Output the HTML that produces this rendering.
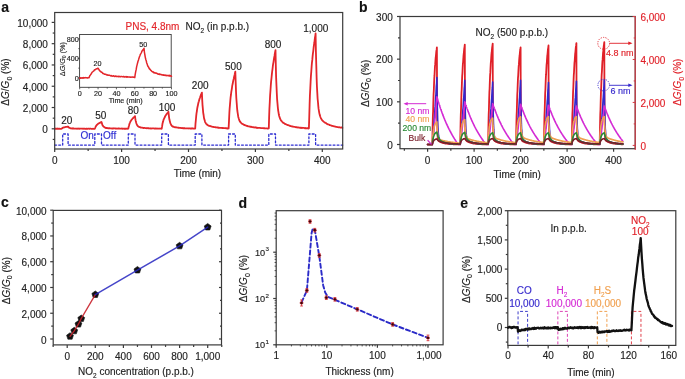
<!DOCTYPE html><html><head><meta charset="utf-8"><style>html,body{margin:0;padding:0;background:#fff;}svg{display:block;filter:blur(0.3px);}</style></head><body><svg width="685" height="379" viewBox="0 0 685 379" font-family='"Liberation Sans", sans-serif'>
<style>text{stroke-width:0.15px;paint-order:stroke;}</style>
<rect width="685" height="379" fill="#fff"/>
<text x="1.20" y="11.80" font-size="14" text-anchor="start" fill="#111" stroke="#111" font-weight="bold" >a</text>
<line x1="52.70" y1="139.44" x2="54.70" y2="139.44" stroke="#3a3a3a" stroke-width="1.2" />
<line x1="51.70" y1="128.80" x2="54.70" y2="128.80" stroke="#3a3a3a" stroke-width="1.2" />
<text x="47.90" y="133.30" font-size="10" text-anchor="end" fill="#222" stroke="#222" font-weight="normal" >0</text>
<line x1="52.70" y1="118.16" x2="54.70" y2="118.16" stroke="#3a3a3a" stroke-width="1.2" />
<line x1="51.70" y1="107.52" x2="54.70" y2="107.52" stroke="#3a3a3a" stroke-width="1.2" />
<text x="47.90" y="112.02" font-size="10" text-anchor="end" fill="#222" stroke="#222" font-weight="normal" >2,000</text>
<line x1="52.70" y1="96.88" x2="54.70" y2="96.88" stroke="#3a3a3a" stroke-width="1.2" />
<line x1="51.70" y1="86.24" x2="54.70" y2="86.24" stroke="#3a3a3a" stroke-width="1.2" />
<text x="47.90" y="90.74" font-size="10" text-anchor="end" fill="#222" stroke="#222" font-weight="normal" >4,000</text>
<line x1="52.70" y1="75.60" x2="54.70" y2="75.60" stroke="#3a3a3a" stroke-width="1.2" />
<line x1="51.70" y1="64.96" x2="54.70" y2="64.96" stroke="#3a3a3a" stroke-width="1.2" />
<text x="47.90" y="69.46" font-size="10" text-anchor="end" fill="#222" stroke="#222" font-weight="normal" >6,000</text>
<line x1="52.70" y1="54.32" x2="54.70" y2="54.32" stroke="#3a3a3a" stroke-width="1.2" />
<line x1="51.70" y1="43.68" x2="54.70" y2="43.68" stroke="#3a3a3a" stroke-width="1.2" />
<text x="47.90" y="48.18" font-size="10" text-anchor="end" fill="#222" stroke="#222" font-weight="normal" >8,000</text>
<line x1="52.70" y1="33.04" x2="54.70" y2="33.04" stroke="#3a3a3a" stroke-width="1.2" />
<line x1="51.70" y1="22.40" x2="54.70" y2="22.40" stroke="#3a3a3a" stroke-width="1.2" />
<text x="47.90" y="26.90" font-size="10" text-anchor="end" fill="#222" stroke="#222" font-weight="normal" >10,000</text>
<line x1="54.70" y1="149.00" x2="54.70" y2="152.00" stroke="#3a3a3a" stroke-width="1.2" />
<text x="54.70" y="164.00" font-size="10" text-anchor="middle" fill="#222" stroke="#222" font-weight="normal" >0</text>
<line x1="88.15" y1="149.00" x2="88.15" y2="151.00" stroke="#3a3a3a" stroke-width="1.2" />
<line x1="121.60" y1="149.00" x2="121.60" y2="152.00" stroke="#3a3a3a" stroke-width="1.2" />
<text x="121.60" y="164.00" font-size="10" text-anchor="middle" fill="#222" stroke="#222" font-weight="normal" >100</text>
<line x1="155.05" y1="149.00" x2="155.05" y2="151.00" stroke="#3a3a3a" stroke-width="1.2" />
<line x1="188.50" y1="149.00" x2="188.50" y2="152.00" stroke="#3a3a3a" stroke-width="1.2" />
<text x="188.50" y="164.00" font-size="10" text-anchor="middle" fill="#222" stroke="#222" font-weight="normal" >200</text>
<line x1="221.95" y1="149.00" x2="221.95" y2="151.00" stroke="#3a3a3a" stroke-width="1.2" />
<line x1="255.40" y1="149.00" x2="255.40" y2="152.00" stroke="#3a3a3a" stroke-width="1.2" />
<text x="255.40" y="164.00" font-size="10" text-anchor="middle" fill="#222" stroke="#222" font-weight="normal" >300</text>
<line x1="288.85" y1="149.00" x2="288.85" y2="151.00" stroke="#3a3a3a" stroke-width="1.2" />
<line x1="322.30" y1="149.00" x2="322.30" y2="152.00" stroke="#3a3a3a" stroke-width="1.2" />
<text x="322.30" y="164.00" font-size="10" text-anchor="middle" fill="#222" stroke="#222" font-weight="normal" >400</text>
<text x="197.50" y="177.20" font-size="10" text-anchor="middle" fill="#222" stroke="#222" font-weight="normal" >Time (min)</text>
<text transform="translate(9.10,82.00) rotate(-90)" font-size="10" text-anchor="middle" fill="#222" stroke="#222">&#916;<tspan font-style="italic">G</tspan>/<tspan font-style="italic">G</tspan><tspan font-size="7.00" dy="2.5">0</tspan><tspan dy="-2.5"> (%)</tspan></text>
<path d="M54.7,128.7 L55.0,128.7 L55.4,128.8 L55.7,128.7 L56.0,128.8 L56.4,128.8 L56.7,128.7 L57.0,128.8 L57.4,128.7 L57.7,128.8 L58.0,128.7 L58.4,128.7 L58.7,128.8 L59.0,128.9 L59.4,128.7 L59.7,128.7 L60.1,128.8 L60.4,128.9 L60.7,128.8 L61.1,128.8 L61.4,128.9 L61.7,128.4 L62.1,128.4 L62.4,128.0 L62.7,127.8 L63.1,127.6 L63.4,127.5 L63.7,127.6 L64.1,127.3 L64.4,127.3 L64.7,127.3 L65.1,127.1 L65.4,127.1 L65.7,126.9 L66.1,126.8 L66.4,126.8 L66.7,126.9 L67.1,126.8 L67.4,126.7 L67.7,126.7 L68.1,126.6 L68.4,127.0 L68.7,127.5 L69.1,127.7 L69.4,127.7 L69.8,128.0 L70.1,128.1 L70.4,128.3 L70.8,128.4 L71.1,128.3 L71.4,128.5 L71.8,128.3 L72.1,128.5 L72.4,128.6 L72.8,128.4 L73.1,128.5 L73.4,128.4 L73.8,128.6 L74.1,128.7 L74.4,128.6 L74.8,128.7 L75.1,128.6 L75.4,128.7 L75.8,128.7 L76.1,128.7 L76.4,128.6 L76.8,128.8 L77.1,128.8 L77.4,128.7 L77.8,128.7 L78.1,128.5 L78.4,128.7 L78.8,128.7 L79.1,128.8 L79.5,128.8 L79.8,128.6 L80.1,128.7 L80.5,128.7 L80.8,128.6 L81.1,128.7 L81.5,128.6 L81.8,128.6 L82.1,128.6 L82.5,128.8 L82.8,128.6 L83.1,128.6 L83.5,128.7 L83.8,128.8 L84.1,128.6 L84.5,128.7 L84.8,128.7 L85.1,128.9 L85.5,128.8 L85.8,128.8 L86.1,128.7 L86.5,128.7 L86.8,128.7 L87.1,128.9 L87.5,128.9 L87.8,128.6 L88.2,128.7 L88.5,128.7 L88.8,128.7 L89.2,128.8 L89.5,128.8 L89.8,128.7 L90.2,128.6 L90.5,128.7 L90.8,128.7 L91.2,128.8 L91.5,128.9 L91.8,128.8 L92.2,128.8 L92.5,128.8 L92.8,128.8 L93.2,128.6 L93.5,128.9 L93.8,128.9 L94.2,128.9 L94.5,128.9 L94.8,128.7 L95.2,127.8 L95.5,127.0 L95.8,126.5 L96.2,125.8 L96.5,125.3 L96.8,125.0 L97.2,124.6 L97.5,124.3 L97.9,124.0 L98.2,123.7 L98.5,123.5 L98.9,123.3 L99.2,123.2 L99.5,122.9 L99.9,122.9 L100.2,122.7 L100.5,122.4 L100.9,122.2 L101.2,122.1 L101.5,121.9 L101.9,123.2 L102.2,124.4 L102.5,125.2 L102.9,125.7 L103.2,126.2 L103.5,126.5 L103.9,126.8 L104.2,127.1 L104.5,127.3 L104.9,127.6 L105.2,127.6 L105.5,127.6 L105.9,128.0 L106.2,127.9 L106.5,127.9 L106.9,128.1 L107.2,128.0 L107.6,128.1 L107.9,128.3 L108.2,128.3 L108.6,128.3 L108.9,128.2 L109.2,128.2 L109.6,128.2 L109.9,128.4 L110.2,128.3 L110.6,128.4 L110.9,128.3 L111.2,128.3 L111.6,128.5 L111.9,128.6 L112.2,128.5 L112.6,128.5 L112.9,128.5 L113.2,128.5 L113.6,128.4 L113.9,128.5 L114.2,128.4 L114.6,128.4 L114.9,128.4 L115.2,128.5 L115.6,128.5 L115.9,128.6 L116.2,128.7 L116.6,128.5 L116.9,128.7 L117.3,128.7 L117.6,128.7 L117.9,128.5 L118.3,128.5 L118.6,128.5 L118.9,128.5 L119.3,128.5 L119.6,128.7 L119.9,128.7 L120.3,128.7 L120.6,128.6 L120.9,128.7 L121.3,128.7 L121.6,128.5 L121.9,128.7 L122.3,128.8 L122.6,128.7 L122.9,128.7 L123.3,128.7 L123.6,128.6 L123.9,128.8 L124.3,128.6 L124.6,128.8 L124.9,128.8 L125.3,128.7 L125.6,128.7 L125.9,128.8 L126.3,128.8 L126.6,128.6 L127.0,128.6 L127.3,128.6 L127.6,128.8 L128.0,128.8 L128.3,128.6 L128.6,127.1 L129.0,125.8 L129.3,124.5 L129.6,123.4 L130.0,122.6 L130.3,121.8 L130.6,121.1 L131.0,120.8 L131.3,120.2 L131.6,119.7 L132.0,119.4 L132.3,118.9 L132.6,118.6 L133.0,118.3 L133.3,117.7 L133.6,117.4 L134.0,117.1 L134.3,116.8 L134.6,116.6 L135.0,116.2 L135.3,118.6 L135.6,120.4 L136.0,122.1 L136.3,123.1 L136.7,124.1 L137.0,124.8 L137.3,125.5 L137.7,125.8 L138.0,126.3 L138.3,126.5 L138.7,126.7 L139.0,126.9 L139.3,126.9 L139.7,127.2 L140.0,127.2 L140.3,127.3 L140.7,127.6 L141.0,127.5 L141.3,127.6 L141.7,127.7 L142.0,127.7 L142.3,127.7 L142.7,127.8 L143.0,127.9 L143.3,128.0 L143.7,127.8 L144.0,128.0 L144.3,127.9 L144.7,127.9 L145.0,128.1 L145.3,128.1 L145.7,128.1 L146.0,128.2 L146.4,128.3 L146.7,128.1 L147.0,128.2 L147.4,128.2 L147.7,128.2 L148.0,128.3 L148.4,128.2 L148.7,128.3 L149.0,128.3 L149.4,128.4 L149.7,128.4 L150.0,128.5 L150.4,128.5 L150.7,128.3 L151.0,128.4 L151.4,128.5 L151.7,128.5 L152.0,128.3 L152.4,128.3 L152.7,128.4 L153.0,128.3 L153.4,128.4 L153.7,128.4 L154.0,128.5 L154.4,128.6 L154.7,128.6 L155.1,128.4 L155.4,128.6 L155.7,128.6 L156.1,128.4 L156.4,128.7 L156.7,128.7 L157.1,128.5 L157.4,128.7 L157.7,128.6 L158.1,128.6 L158.4,128.7 L158.7,128.7 L159.1,128.5 L159.4,128.6 L159.7,128.6 L160.1,128.6 L160.4,128.5 L160.7,128.6 L161.1,128.7 L161.4,128.5 L161.7,128.7 L162.1,126.4 L162.4,124.3 L162.7,122.8 L163.1,121.6 L163.4,120.4 L163.7,119.3 L164.1,118.7 L164.4,117.9 L164.8,117.2 L165.1,116.4 L165.4,115.8 L165.8,115.2 L166.1,114.9 L166.4,114.3 L166.8,113.8 L167.1,113.5 L167.4,113.2 L167.8,112.7 L168.1,112.1 L168.4,111.7 L168.8,115.2 L169.1,117.6 L169.4,119.6 L169.8,121.0 L170.1,122.2 L170.4,123.4 L170.8,124.1 L171.1,124.6 L171.4,125.4 L171.8,125.7 L172.1,126.1 L172.4,126.1 L172.8,126.6 L173.1,126.5 L173.4,126.9 L173.8,126.9 L174.1,127.0 L174.5,127.1 L174.8,127.3 L175.1,127.2 L175.5,127.2 L175.8,127.4 L176.1,127.4 L176.5,127.4 L176.8,127.5 L177.1,127.5 L177.5,127.6 L177.8,127.6 L178.1,127.7 L178.5,127.8 L178.8,127.7 L179.1,127.8 L179.5,127.8 L179.8,127.9 L180.1,127.8 L180.5,127.9 L180.8,127.8 L181.1,128.1 L181.5,128.1 L181.8,128.0 L182.1,128.1 L182.5,128.2 L182.8,128.0 L183.1,128.3 L183.5,128.2 L183.8,128.2 L184.2,128.3 L184.5,128.2 L184.8,128.3 L185.2,128.3 L185.5,128.4 L185.8,128.3 L186.2,128.4 L186.5,128.4 L186.8,128.4 L187.2,128.3 L187.5,128.3 L187.8,128.3 L188.2,128.3 L188.5,128.3 L188.8,128.5 L189.2,128.4 L189.5,128.4 L189.8,128.3 L190.2,128.6 L190.5,128.6 L190.8,128.6 L191.2,128.4 L191.5,128.4 L191.8,128.5 L192.2,128.5 L192.5,128.4 L192.8,128.5 L193.2,128.5 L193.5,128.7 L193.9,128.7 L194.2,128.6 L194.5,128.5 L194.9,128.7 L195.2,128.5 L195.5,123.7 L195.9,119.5 L196.2,116.2 L196.5,113.4 L196.9,111.0 L197.2,108.7 L197.5,107.0 L197.9,105.2 L198.2,103.8 L198.5,102.4 L198.9,101.3 L199.2,100.0 L199.5,98.9 L199.9,98.0 L200.2,97.0 L200.5,96.1 L200.9,95.2 L201.2,94.4 L201.5,93.4 L201.9,92.6 L202.2,99.6 L202.5,104.8 L202.9,109.1 L203.2,112.6 L203.6,115.0 L203.9,117.3 L204.2,118.9 L204.6,120.0 L204.9,121.3 L205.2,122.2 L205.6,122.8 L205.9,123.4 L206.2,123.9 L206.6,124.1 L206.9,124.5 L207.2,124.8 L207.6,125.1 L207.9,125.3 L208.2,125.5 L208.6,125.6 L208.9,125.8 L209.2,125.9 L209.6,126.0 L209.9,126.0 L210.2,126.0 L210.6,126.2 L210.9,126.3 L211.2,126.3 L211.6,126.6 L211.9,126.6 L212.2,126.7 L212.6,126.8 L212.9,126.9 L213.3,126.9 L213.6,126.8 L213.9,127.1 L214.3,127.2 L214.6,127.1 L214.9,127.2 L215.3,127.3 L215.6,127.2 L215.9,127.4 L216.3,127.3 L216.6,127.3 L216.9,127.4 L217.3,127.6 L217.6,127.5 L217.9,127.7 L218.3,127.8 L218.6,127.7 L218.9,127.7 L219.3,127.8 L219.6,127.8 L219.9,127.9 L220.3,127.9 L220.6,127.9 L220.9,127.8 L221.3,127.8 L221.6,127.9 L221.9,128.1 L222.3,128.0 L222.6,128.1 L223.0,127.9 L223.3,128.0 L223.6,128.1 L224.0,128.2 L224.3,128.2 L224.6,128.2 L225.0,128.1 L225.3,128.2 L225.6,128.2 L226.0,128.3 L226.3,128.2 L226.6,128.4 L227.0,128.2 L227.3,128.5 L227.6,128.5 L228.0,128.2 L228.3,128.4 L228.6,128.5 L229.0,120.9 L229.3,114.3 L229.6,109.0 L230.0,104.4 L230.3,100.8 L230.6,97.3 L231.0,94.5 L231.3,91.8 L231.7,89.6 L232.0,87.6 L232.3,85.4 L232.7,83.8 L233.0,82.0 L233.3,80.5 L233.7,78.9 L234.0,77.3 L234.3,76.1 L234.7,74.5 L235.0,73.0 L235.3,71.6 L235.7,82.6 L236.0,91.1 L236.3,97.8 L236.7,103.0 L237.0,107.2 L237.3,110.5 L237.7,113.2 L238.0,115.1 L238.3,117.0 L238.7,118.3 L239.0,119.2 L239.3,120.3 L239.7,121.0 L240.0,121.6 L240.3,122.0 L240.7,122.4 L241.0,122.8 L241.4,123.3 L241.7,123.5 L242.0,123.7 L242.4,123.9 L242.7,124.1 L243.0,124.2 L243.4,124.4 L243.7,124.8 L244.0,124.8 L244.4,125.1 L244.7,125.0 L245.0,125.2 L245.4,125.4 L245.7,125.4 L246.0,125.5 L246.4,125.8 L246.7,125.9 L247.0,126.0 L247.4,126.0 L247.7,126.2 L248.0,126.3 L248.4,126.3 L248.7,126.4 L249.0,126.3 L249.4,126.6 L249.7,126.6 L250.0,126.7 L250.4,126.8 L250.7,126.7 L251.1,126.7 L251.4,127.0 L251.7,126.9 L252.1,127.0 L252.4,127.1 L252.7,127.1 L253.1,127.3 L253.4,127.4 L253.7,127.2 L254.1,127.4 L254.4,127.3 L254.7,127.5 L255.1,127.5 L255.4,127.4 L255.7,127.5 L256.1,127.5 L256.4,127.8 L256.7,127.7 L257.1,127.7 L257.4,127.9 L257.7,128.0 L258.1,127.8 L258.4,127.8 L258.7,127.8 L259.1,127.8 L259.4,127.9 L259.7,127.9 L260.1,127.9 L260.4,128.0 L260.8,128.1 L261.1,128.2 L261.4,128.2 L261.8,128.1 L262.1,128.1 L262.4,128.2 L262.8,128.2 L263.1,128.2 L263.4,128.1 L263.8,128.2 L264.1,128.4 L264.4,128.2 L264.8,128.3 L265.1,128.4 L265.4,128.4 L265.8,128.3 L266.1,128.3 L266.4,128.3 L266.8,128.4 L267.1,128.4 L267.4,128.6 L267.8,128.5 L268.1,128.6 L268.4,128.3 L268.8,128.3 L269.1,117.9 L269.4,109.2 L269.8,101.7 L270.1,95.5 L270.5,90.0 L270.8,85.5 L271.1,81.6 L271.5,78.0 L271.8,74.8 L272.1,72.0 L272.5,69.1 L272.8,66.5 L273.1,64.2 L273.5,62.1 L273.8,60.0 L274.1,58.0 L274.5,55.9 L274.8,54.0 L275.1,52.1 L275.5,50.1 L275.8,65.1 L276.1,76.7 L276.5,86.2 L276.8,93.3 L277.1,99.2 L277.5,103.7 L277.8,107.2 L278.1,110.0 L278.5,112.3 L278.8,114.3 L279.1,115.8 L279.5,116.9 L279.8,117.9 L280.2,118.8 L280.5,119.6 L280.8,120.1 L281.2,120.6 L281.5,121.1 L281.8,121.3 L282.2,121.8 L282.5,122.1 L282.8,122.6 L283.2,122.7 L283.5,123.0 L283.8,123.1 L284.2,123.3 L284.5,123.5 L284.8,123.9 L285.2,124.0 L285.5,124.0 L285.8,124.1 L286.2,124.4 L286.5,124.6 L286.8,124.7 L287.2,124.8 L287.5,125.0 L287.8,125.2 L288.2,125.1 L288.5,125.2 L288.9,125.4 L289.2,125.5 L289.5,125.7 L289.9,125.7 L290.2,126.0 L290.5,126.0 L290.9,126.1 L291.2,126.1 L291.5,126.4 L291.9,126.3 L292.2,126.5 L292.5,126.4 L292.9,126.5 L293.2,126.7 L293.5,126.6 L293.9,126.9 L294.2,126.8 L294.5,126.8 L294.9,126.9 L295.2,127.0 L295.5,127.1 L295.9,127.3 L296.2,127.1 L296.5,127.2 L296.9,127.2 L297.2,127.5 L297.5,127.3 L297.9,127.3 L298.2,127.3 L298.6,127.5 L298.9,127.7 L299.2,127.7 L299.6,127.7 L299.9,127.8 L300.2,127.8 L300.6,127.7 L300.9,127.7 L301.2,128.0 L301.6,127.9 L301.9,127.7 L302.2,128.0 L302.6,127.9 L302.9,127.9 L303.2,127.9 L303.6,127.9 L303.9,127.9 L304.2,128.0 L304.6,128.1 L304.9,128.3 L305.2,128.0 L305.6,128.3 L305.9,128.1 L306.2,128.2 L306.6,128.3 L306.9,128.3 L307.2,128.2 L307.6,128.1 L307.9,128.3 L308.3,128.3 L308.6,128.5 L308.9,128.3 L309.3,115.5 L309.6,105.0 L309.9,95.8 L310.3,88.3 L310.6,82.0 L310.9,76.4 L311.3,71.3 L311.6,67.0 L311.9,63.1 L312.3,59.9 L312.6,56.4 L312.9,53.6 L313.3,50.8 L313.6,47.9 L313.9,45.3 L314.3,43.0 L314.6,40.5 L314.9,38.0 L315.3,35.8 L315.6,33.4 L315.9,51.6 L316.3,65.7 L316.6,77.2 L316.9,86.0 L317.3,92.9 L317.6,98.5 L318.0,102.5 L318.3,106.1 L318.6,108.9 L319.0,111.3 L319.3,113.1 L319.6,114.4 L320.0,115.6 L320.3,116.7 L320.6,117.5 L321.0,118.4 L321.3,118.8 L321.6,119.5 L322.0,120.0 L322.3,120.4 L322.6,120.8 L323.0,121.1 L323.3,121.3 L323.6,121.6 L324.0,121.9 L324.3,122.3 L324.6,122.3 L325.0,122.6 L325.3,122.9 L325.6,123.0 L326.0,123.1 L326.3,123.3 L326.6,123.7 L327.0,123.8 L327.3,124.1 L327.7,124.3 L328.0,124.4 L328.3,124.4 L328.7,124.5 L329.0,124.6 L329.3,124.9 L329.7,125.1 L330.0,125.1 L330.3,125.2 L330.7,125.3 L331.0,125.5 L331.3,125.6 L331.7,125.8 L332.0,125.9 L332.3,125.9 L332.7,125.9 L333.0,126.2 L333.3,126.1 L333.7,126.3 L334.0,126.3 L334.3,126.5 L334.7,126.4 L335.0,126.5 L335.3,126.6 L335.7,126.6 L336.0,126.9 L336.3,126.9 L336.7,126.9 L337.0,126.9 L337.4,127.2 L337.7,127.1 L338.0,127.1 L338.4,127.3 L338.7,127.3 L339.0,127.4 L339.4,127.2 L339.7,127.4 L340.0,127.5 L340.4,127.6 L340.7,127.7 L341.0,127.4 L341.4,127.6 L341.7,127.5 L342.0,127.6 L342.4,127.9" fill="none" stroke="#e3262b" stroke-width="1.8" stroke-linejoin="round" stroke-linecap="round" />
<path d="M54.7,145.1 L62.7,145.1 L62.7,134.0 L68.1,134.0 L68.1,145.1 L94.8,145.1 L94.8,134.0 L101.5,134.0 L101.5,145.1 L128.3,145.1 L128.3,134.0 L135.0,134.0 L135.0,145.1 L161.7,145.1 L161.7,134.0 L168.4,134.0 L168.4,145.1 L195.2,145.1 L195.2,134.0 L201.9,134.0 L201.9,145.1 L228.6,145.1 L228.6,134.0 L235.3,134.0 L235.3,145.1 L268.8,145.1 L268.8,134.0 L275.5,134.0 L275.5,145.1 L308.9,145.1 L308.9,134.0 L315.6,134.0 L315.6,145.1 L342.7,145.1" fill="none" stroke="#2d2dd2" stroke-width="1.3" stroke-linejoin="round" stroke-linecap="round" stroke-dasharray="1.9,2.1" stroke-linecap="butt"/>
<rect x="54.70" y="12.50" width="288.00" height="136.50" fill="none" stroke="#3a3a3a" stroke-width="1.2"/>
<text x="125.50" y="30.20" font-size="10" text-anchor="start" fill="#e3262b" stroke="#e3262b" font-weight="normal" >PNS, 4.8nm</text>
<text x="185.5" y="30.2" font-size="10" fill="#222" stroke="#222">NO<tspan font-size="6.4" dy="2.8">2</tspan><tspan dy="-2.8"> (in p.p.b.)</tspan></text>
<text x="66.80" y="123.50" font-size="10" text-anchor="middle" fill="#222" stroke="#222" font-weight="normal" >20</text>
<text x="100.80" y="119.20" font-size="10" text-anchor="middle" fill="#222" stroke="#222" font-weight="normal" >50</text>
<text x="133.30" y="114.00" font-size="10" text-anchor="middle" fill="#222" stroke="#222" font-weight="normal" >80</text>
<text x="167.00" y="110.50" font-size="10" text-anchor="middle" fill="#222" stroke="#222" font-weight="normal" >100</text>
<text x="200.20" y="89.20" font-size="10" text-anchor="middle" fill="#222" stroke="#222" font-weight="normal" >200</text>
<text x="233.40" y="69.90" font-size="10" text-anchor="middle" fill="#222" stroke="#222" font-weight="normal" >500</text>
<text x="273.00" y="48.20" font-size="10" text-anchor="middle" fill="#222" stroke="#222" font-weight="normal" >800</text>
<text x="315.80" y="31.80" font-size="10" text-anchor="middle" fill="#222" stroke="#222" font-weight="normal" >1,000</text>
<text x="80.50" y="138.80" font-size="10" text-anchor="start" fill="#2d2dd2" stroke="#2d2dd2" font-weight="normal" >On</text>
<text x="103.00" y="138.80" font-size="10" text-anchor="start" fill="#2d2dd2" stroke="#2d2dd2" font-weight="normal" >Off</text>
<rect x="79.6" y="34.5" width="91.60" height="52.80" fill="#fff" stroke="#3a3a3a" stroke-width="0.9"/>
<line x1="78.00" y1="77.90" x2="79.60" y2="77.90" stroke="#3a3a3a" stroke-width="0.8" />
<text x="78.70" y="80.50" font-size="7.2" text-anchor="end" fill="#222" stroke="#222" font-weight="normal" >0</text>
<line x1="78.00" y1="58.40" x2="79.60" y2="58.40" stroke="#3a3a3a" stroke-width="0.8" />
<text x="78.70" y="61.00" font-size="7.2" text-anchor="end" fill="#222" stroke="#222" font-weight="normal" >400</text>
<line x1="78.00" y1="38.90" x2="79.60" y2="38.90" stroke="#3a3a3a" stroke-width="0.8" />
<text x="78.70" y="41.50" font-size="7.2" text-anchor="end" fill="#222" stroke="#222" font-weight="normal" >800</text>
<line x1="78.30" y1="68.15" x2="79.60" y2="68.15" stroke="#3a3a3a" stroke-width="0.8" />
<line x1="78.30" y1="48.65" x2="79.60" y2="48.65" stroke="#3a3a3a" stroke-width="0.8" />
<line x1="79.70" y1="87.30" x2="79.70" y2="89.30" stroke="#3a3a3a" stroke-width="0.8" />
<text x="79.70" y="95.60" font-size="7.2" text-anchor="middle" fill="#222" stroke="#222" font-weight="normal" >0</text>
<line x1="88.88" y1="87.30" x2="88.88" y2="88.60" stroke="#3a3a3a" stroke-width="0.8" />
<line x1="98.06" y1="87.30" x2="98.06" y2="89.30" stroke="#3a3a3a" stroke-width="0.8" />
<text x="98.06" y="95.60" font-size="7.2" text-anchor="middle" fill="#222" stroke="#222" font-weight="normal" >20</text>
<line x1="107.24" y1="87.30" x2="107.24" y2="88.60" stroke="#3a3a3a" stroke-width="0.8" />
<line x1="116.42" y1="87.30" x2="116.42" y2="89.30" stroke="#3a3a3a" stroke-width="0.8" />
<text x="116.42" y="95.60" font-size="7.2" text-anchor="middle" fill="#222" stroke="#222" font-weight="normal" >40</text>
<line x1="125.60" y1="87.30" x2="125.60" y2="88.60" stroke="#3a3a3a" stroke-width="0.8" />
<line x1="134.78" y1="87.30" x2="134.78" y2="89.30" stroke="#3a3a3a" stroke-width="0.8" />
<text x="134.78" y="95.60" font-size="7.2" text-anchor="middle" fill="#222" stroke="#222" font-weight="normal" >60</text>
<line x1="143.96" y1="87.30" x2="143.96" y2="88.60" stroke="#3a3a3a" stroke-width="0.8" />
<line x1="153.14" y1="87.30" x2="153.14" y2="89.30" stroke="#3a3a3a" stroke-width="0.8" />
<text x="153.14" y="95.60" font-size="7.2" text-anchor="middle" fill="#222" stroke="#222" font-weight="normal" >80</text>
<line x1="162.32" y1="87.30" x2="162.32" y2="88.60" stroke="#3a3a3a" stroke-width="0.8" />
<line x1="171.50" y1="87.30" x2="171.50" y2="89.30" stroke="#3a3a3a" stroke-width="0.8" />
<text x="171.50" y="95.60" font-size="7.2" text-anchor="middle" fill="#222" stroke="#222" font-weight="normal" >100</text>
<text x="125.70" y="103.00" font-size="7.2" text-anchor="middle" fill="#222" stroke="#222" font-weight="normal" >Time (min)</text>
<text transform="translate(64.6,59.2) rotate(-90)" font-size="7.2" text-anchor="middle" fill="#222" stroke="#222">&#916;<tspan font-style="italic">G</tspan>/<tspan font-style="italic">G</tspan><tspan font-size="5" dy="1.8">0</tspan><tspan dy="-1.8"> (%)</tspan></text>
<text x="97.40" y="65.80" font-size="7.2" text-anchor="middle" fill="#222" stroke="#222" font-weight="normal" >20</text>
<text x="143.20" y="47.00" font-size="7.2" text-anchor="middle" fill="#222" stroke="#222" font-weight="normal" >50</text>
<path d="M79.7,78.0 L80.2,78.2 L80.6,77.8 L81.1,78.2 L81.5,77.9 L82.0,77.7 L82.5,78.1 L82.9,78.2 L83.4,77.6 L83.8,78.0 L84.3,78.0 L84.7,77.7 L85.2,77.8 L85.7,77.6 L86.1,77.7 L86.6,77.7 L87.0,78.0 L87.5,78.0 L88.0,77.7 L88.4,77.6 L88.9,77.8 L89.3,77.1 L89.8,75.8 L90.3,75.1 L90.7,74.3 L91.2,74.0 L91.6,73.2 L92.1,72.3 L92.6,71.8 L93.0,71.5 L93.5,71.1 L93.9,70.8 L94.4,70.0 L94.8,69.7 L95.3,69.8 L95.8,69.3 L96.2,68.9 L96.7,68.7 L97.1,68.9 L97.6,68.2 L98.1,68.2 L98.5,68.8 L99.0,69.6 L99.4,70.5 L99.9,71.1 L100.4,71.2 L100.8,71.5 L101.3,72.3 L101.7,72.3 L102.2,72.5 L102.7,73.4 L103.1,73.3 L103.6,73.8 L104.0,73.8 L104.5,74.3 L104.9,74.2 L105.4,74.2 L105.9,74.2 L106.3,74.7 L106.8,74.9 L107.2,75.2 L107.7,74.8 L108.2,75.2 L108.6,75.2 L109.1,75.4 L109.5,75.2 L110.0,75.4 L110.5,75.6 L110.9,76.0 L111.4,75.5 L111.8,75.8 L112.3,76.1 L112.7,76.2 L113.2,75.8 L113.7,75.8 L114.1,76.4 L114.6,76.4 L115.0,76.1 L115.5,75.9 L116.0,76.5 L116.4,76.2 L116.9,76.6 L117.3,76.5 L117.8,76.6 L118.3,76.2 L118.7,76.7 L119.2,76.3 L119.6,76.5 L120.1,76.8 L120.6,76.8 L121.0,76.4 L121.5,76.5 L121.9,76.6 L122.4,76.7 L122.8,76.7 L123.3,76.5 L123.8,76.6 L124.2,77.0 L124.7,77.1 L125.1,76.6 L125.6,76.9 L126.1,77.1 L126.5,76.6 L127.0,77.2 L127.4,76.7 L127.9,77.1 L128.4,77.1 L128.8,77.1 L129.3,76.9 L129.7,77.0 L130.2,77.2 L130.6,77.1 L131.1,77.3 L131.6,77.1 L132.0,77.1 L132.5,76.9 L132.9,77.3 L133.4,77.2 L133.9,77.1 L134.3,77.4 L134.8,77.5 L135.2,74.4 L135.7,71.6 L136.2,69.4 L136.6,66.9 L137.1,64.9 L137.5,63.2 L138.0,61.3 L138.5,59.9 L138.9,58.5 L139.4,56.9 L139.8,56.0 L140.3,54.5 L140.7,53.9 L141.2,53.0 L141.7,51.9 L142.1,50.8 L142.6,50.4 L143.0,49.6 L143.5,49.4 L144.0,48.2 L144.4,52.1 L144.9,55.0 L145.3,57.3 L145.8,59.5 L146.3,60.9 L146.7,63.0 L147.2,64.1 L147.6,65.6 L148.1,66.6 L148.6,67.0 L149.0,68.2 L149.5,69.0 L149.9,69.0 L150.4,69.8 L150.8,70.5 L151.3,70.6 L151.8,71.4 L152.2,71.4 L152.7,72.0 L153.1,71.8 L153.6,72.3 L154.1,72.9 L154.5,72.6 L155.0,72.8 L155.4,73.1 L155.9,73.2 L156.4,73.1 L156.8,73.4 L157.3,73.5 L157.7,74.1 L158.2,74.1 L158.6,74.3 L159.1,73.9 L159.6,74.5 L160.0,74.1 L160.5,74.5 L160.9,74.6 L161.4,74.5 L161.9,75.0 L162.3,74.8 L162.8,74.9 L163.2,75.2 L163.7,74.7 L164.2,75.4 L164.6,75.2 L165.1,75.1 L165.5,75.5 L166.0,75.2 L166.5,75.7 L166.9,75.5 L167.4,75.4 L167.8,75.7 L168.3,75.6 L168.7,75.4 L169.2,75.9 L169.7,75.4 L170.1,76.0 L170.6,75.7 L171.0,76.0 L171.5,76.3" fill="none" stroke="#e3262b" stroke-width="1.5" stroke-linejoin="round" stroke-linecap="round" />
<text x="359.00" y="11.60" font-size="14" text-anchor="start" fill="#111" stroke="#111" font-weight="bold" >b</text>
<line x1="397.00" y1="144.50" x2="400.00" y2="144.50" stroke="#3a3a3a" stroke-width="1.2" />
<text x="392.80" y="148.80" font-size="10" text-anchor="end" fill="#222" stroke="#222" font-weight="normal" >0</text>
<line x1="398.00" y1="123.16" x2="400.00" y2="123.16" stroke="#3a3a3a" stroke-width="1.2" />
<line x1="397.00" y1="101.83" x2="400.00" y2="101.83" stroke="#3a3a3a" stroke-width="1.2" />
<text x="392.80" y="106.13" font-size="10" text-anchor="end" fill="#222" stroke="#222" font-weight="normal" >100</text>
<line x1="398.00" y1="80.49" x2="400.00" y2="80.49" stroke="#3a3a3a" stroke-width="1.2" />
<line x1="397.00" y1="59.16" x2="400.00" y2="59.16" stroke="#3a3a3a" stroke-width="1.2" />
<text x="392.80" y="63.46" font-size="10" text-anchor="end" fill="#222" stroke="#222" font-weight="normal" >200</text>
<line x1="398.00" y1="37.82" x2="400.00" y2="37.82" stroke="#3a3a3a" stroke-width="1.2" />
<line x1="397.00" y1="16.49" x2="400.00" y2="16.49" stroke="#3a3a3a" stroke-width="1.2" />
<text x="392.80" y="20.79" font-size="10" text-anchor="end" fill="#222" stroke="#222" font-weight="normal" >300</text>
<line x1="404.35" y1="148.70" x2="404.35" y2="150.70" stroke="#3a3a3a" stroke-width="1.2" />
<line x1="427.60" y1="148.70" x2="427.60" y2="151.70" stroke="#3a3a3a" stroke-width="1.2" />
<text x="427.60" y="164.00" font-size="10" text-anchor="middle" fill="#222" stroke="#222" font-weight="normal" >0</text>
<line x1="450.85" y1="148.70" x2="450.85" y2="150.70" stroke="#3a3a3a" stroke-width="1.2" />
<line x1="474.10" y1="148.70" x2="474.10" y2="151.70" stroke="#3a3a3a" stroke-width="1.2" />
<text x="474.10" y="164.00" font-size="10" text-anchor="middle" fill="#222" stroke="#222" font-weight="normal" >100</text>
<line x1="497.35" y1="148.70" x2="497.35" y2="150.70" stroke="#3a3a3a" stroke-width="1.2" />
<line x1="520.60" y1="148.70" x2="520.60" y2="151.70" stroke="#3a3a3a" stroke-width="1.2" />
<text x="520.60" y="164.00" font-size="10" text-anchor="middle" fill="#222" stroke="#222" font-weight="normal" >200</text>
<line x1="543.85" y1="148.70" x2="543.85" y2="150.70" stroke="#3a3a3a" stroke-width="1.2" />
<line x1="567.10" y1="148.70" x2="567.10" y2="151.70" stroke="#3a3a3a" stroke-width="1.2" />
<text x="567.10" y="164.00" font-size="10" text-anchor="middle" fill="#222" stroke="#222" font-weight="normal" >300</text>
<line x1="590.35" y1="148.70" x2="590.35" y2="150.70" stroke="#3a3a3a" stroke-width="1.2" />
<line x1="613.60" y1="148.70" x2="613.60" y2="151.70" stroke="#3a3a3a" stroke-width="1.2" />
<text x="613.60" y="164.00" font-size="10" text-anchor="middle" fill="#222" stroke="#222" font-weight="normal" >400</text>
<text x="517.20" y="177.60" font-size="10" text-anchor="middle" fill="#222" stroke="#222" font-weight="normal" >Time (min)</text>
<text transform="translate(368.60,83.40) rotate(-90)" font-size="10" text-anchor="middle" fill="#222" stroke="#222">&#916;<tspan font-style="italic">G</tspan>/<tspan font-style="italic">G</tspan><tspan font-size="7.00" dy="2.5">0</tspan><tspan dy="-2.5"> (%)</tspan></text>
<path d="M427.6,144.5 L427.7,144.5 L427.8,144.5 L427.9,144.5 L428.1,144.5 L428.2,144.5 L428.3,144.5 L428.4,144.5 L428.5,144.5 L428.6,144.5 L428.8,144.5 L428.9,144.5 L429.0,144.5 L429.1,144.5 L429.2,144.5 L429.3,144.5 L429.5,144.5 L429.6,144.5 L429.7,144.5 L429.8,144.5 L429.9,144.5 L430.0,144.5 L430.2,144.5 L430.3,144.5 L430.4,144.5 L430.5,144.5 L430.6,144.5 L430.7,144.5 L430.9,144.5 L431.0,144.5 L431.1,144.5 L431.2,144.5 L431.3,144.5 L431.4,144.5 L431.6,144.5 L431.7,144.5 L431.8,144.5 L431.9,144.5 L432.0,144.5 L432.1,144.5 L432.2,144.5 L432.4,139.0 L432.5,133.8 L432.6,128.9 L432.7,124.1 L432.8,119.7 L432.9,115.4 L433.1,111.3 L433.2,107.5 L433.3,103.8 L433.4,100.3 L433.5,97.0 L433.6,93.8 L433.8,90.8 L433.9,88.0 L434.0,85.3 L434.1,82.7 L434.2,80.2 L434.3,77.9 L434.5,75.7 L434.6,73.5 L434.7,71.5 L434.8,69.6 L434.9,67.8 L435.0,66.0 L435.2,64.4 L435.3,62.8 L435.4,61.3 L435.5,59.9 L435.6,58.6 L435.7,57.3 L435.9,56.1 L436.0,54.9 L436.1,53.8 L436.2,52.7 L436.3,51.7 L436.4,50.8 L436.6,49.9 L436.7,49.0 L436.8,48.2 L436.9,47.4 L437.0,83.8 L437.1,105.9 L437.2,119.4 L437.4,127.6 L437.5,132.6 L437.6,135.6 L437.7,137.5 L437.8,138.7 L437.9,139.5 L438.1,139.9 L438.2,140.3 L438.3,140.5 L438.4,140.7 L438.5,140.8 L438.6,140.9 L438.8,141.0 L438.9,141.1 L439.0,141.2 L439.1,141.2 L439.2,141.3 L439.3,141.4 L439.5,141.4 L439.6,141.5 L439.7,141.6 L439.8,141.6 L439.9,141.7 L440.0,141.7 L440.2,141.8 L440.3,141.8 L440.4,141.9 L440.5,142.0 L440.6,142.0 L440.7,142.1 L440.9,142.1 L441.0,142.2 L441.1,142.2 L441.2,142.3 L441.3,142.3 L441.4,142.3 L441.6,142.4 L441.7,142.4 L441.8,142.5 L441.9,142.5 L442.0,142.6 L442.1,142.6 L442.2,142.6 L442.4,142.7 L442.5,142.7 L442.6,142.8 L442.7,142.8 L442.8,142.8 L442.9,142.9 L443.1,142.9 L443.2,142.9 L443.3,143.0 L443.4,143.0 L443.5,143.0 L443.6,143.1 L443.8,143.1 L443.9,143.1 L444.0,143.1 L444.1,143.2 L444.2,143.2 L444.3,143.2 L444.5,143.2 L444.6,143.3 L444.7,143.3 L444.8,143.3 L444.9,143.3 L445.0,143.4 L445.2,143.4 L445.3,143.4 L445.4,143.4 L445.5,143.5 L445.6,143.5 L445.7,143.5 L445.9,143.5 L446.0,143.5 L446.1,143.6 L446.2,143.6 L446.3,143.6 L446.4,143.6 L446.5,143.6 L446.7,143.7 L446.8,143.7 L446.9,143.7 L447.0,143.7 L447.1,143.7 L447.2,143.7 L447.4,143.8 L447.5,143.8 L447.6,143.8 L447.7,143.8 L447.8,143.8 L447.9,143.8 L448.1,143.8 L448.2,143.9 L448.3,143.9 L448.4,143.9 L448.5,143.9 L448.6,143.9 L448.8,143.9 L448.9,143.9 L449.0,143.9 L449.1,144.0 L449.2,144.0 L449.3,144.0 L449.5,144.0 L449.6,144.0 L449.7,144.0 L449.8,144.0 L449.9,144.0 L450.0,144.0 L450.2,144.0 L450.3,144.1 L450.4,144.1 L450.5,144.1 L450.6,144.1 L450.7,144.1 L450.9,144.1 L451.0,144.1 L451.1,144.1 L451.2,144.1 L451.3,144.1 L451.4,144.1 L451.5,144.1 L451.7,144.2 L451.8,144.2 L451.9,144.2 L452.0,144.2 L452.1,144.2 L452.2,144.2 L452.4,144.2 L452.5,144.2 L452.6,144.2 L452.7,144.2 L452.8,144.2 L452.9,144.2 L453.1,144.2 L453.2,144.2 L453.3,144.2 L453.4,144.2 L453.5,144.3 L453.6,144.3 L453.8,144.3 L453.9,144.3 L454.0,144.3 L454.1,144.3 L454.2,144.3 L454.3,144.3 L454.5,144.3 L454.6,144.3 L454.7,144.3 L454.8,144.3 L454.9,144.3 L455.0,144.3 L455.2,144.3 L455.3,144.3 L455.4,144.3 L455.5,144.3 L455.6,144.3 L455.7,144.3 L455.8,144.3 L456.0,144.3 L456.1,144.3 L456.2,144.3 L456.3,144.4 L456.4,144.4 L456.5,144.4 L456.7,144.4 L456.8,144.4 L456.9,144.4 L457.0,144.4 L457.1,144.4 L457.2,144.4 L457.4,144.4 L457.5,144.4 L457.6,144.4 L457.7,144.4 L457.8,144.4 L457.9,144.4 L458.1,144.4 L458.2,144.4 L458.3,144.4 L458.4,144.4 L458.5,144.4 L458.6,144.4 L458.8,144.4 L458.9,144.4 L459.0,144.4 L459.1,144.4 L459.2,144.4 L459.3,144.4 L459.5,144.4 L459.6,144.4 L459.7,144.4 L459.8,144.4 L459.9,144.4 L460.0,144.4 L460.2,144.4 L460.3,138.8 L460.4,133.4 L460.5,128.3 L460.6,123.5 L460.7,118.9 L460.8,114.5 L461.0,110.3 L461.1,106.4 L461.2,102.6 L461.3,99.0 L461.4,95.6 L461.5,92.3 L461.7,89.3 L461.8,86.3 L461.9,83.5 L462.0,80.9 L462.1,78.3 L462.2,75.9 L462.4,73.6 L462.5,71.5 L462.6,69.4 L462.7,67.4 L462.8,65.5 L462.9,63.8 L463.1,62.1 L463.2,60.5 L463.3,58.9 L463.4,57.5 L463.5,56.1 L463.6,54.8 L463.8,53.5 L463.9,52.3 L464.0,51.2 L464.1,50.1 L464.2,49.1 L464.3,48.1 L464.5,47.1 L464.6,46.3 L464.7,45.4 L464.8,44.6 L464.9,82.0 L465.0,104.8 L465.1,118.6 L465.3,127.0 L465.4,132.2 L465.5,135.3 L465.6,137.3 L465.7,138.5 L465.8,139.3 L466.0,139.8 L466.1,140.1 L466.2,140.4 L466.3,140.5 L466.4,140.7 L466.5,140.8 L466.7,140.9 L466.8,141.0 L466.9,141.0 L467.0,141.1 L467.1,141.2 L467.2,141.3 L467.4,141.3 L467.5,141.4 L467.6,141.5 L467.7,141.5 L467.8,141.6 L467.9,141.6 L468.1,141.7 L468.2,141.8 L468.3,141.8 L468.4,141.9 L468.5,141.9 L468.6,142.0 L468.8,142.0 L468.9,142.1 L469.0,142.1 L469.1,142.2 L469.2,142.2 L469.3,142.3 L469.5,142.3 L469.6,142.4 L469.7,142.4 L469.8,142.4 L469.9,142.5 L470.0,142.5 L470.1,142.6 L470.3,142.6 L470.4,142.7 L470.5,142.7 L470.6,142.7 L470.7,142.8 L470.8,142.8 L471.0,142.8 L471.1,142.9 L471.2,142.9 L471.3,142.9 L471.4,143.0 L471.5,143.0 L471.7,143.0 L471.8,143.1 L471.9,143.1 L472.0,143.1 L472.1,143.1 L472.2,143.2 L472.4,143.2 L472.5,143.2 L472.6,143.3 L472.7,143.3 L472.8,143.3 L472.9,143.3 L473.1,143.4 L473.2,143.4 L473.3,143.4 L473.4,143.4 L473.5,143.4 L473.6,143.5 L473.8,143.5 L473.9,143.5 L474.0,143.5 L474.1,143.6 L474.2,143.6 L474.3,143.6 L474.4,143.6 L474.6,143.6 L474.7,143.6 L474.8,143.7 L474.9,143.7 L475.0,143.7 L475.1,143.7 L475.3,143.7 L475.4,143.7 L475.5,143.8 L475.6,143.8 L475.7,143.8 L475.8,143.8 L476.0,143.8 L476.1,143.8 L476.2,143.8 L476.3,143.9 L476.4,143.9 L476.5,143.9 L476.7,143.9 L476.8,143.9 L476.9,143.9 L477.0,143.9 L477.1,143.9 L477.2,144.0 L477.4,144.0 L477.5,144.0 L477.6,144.0 L477.7,144.0 L477.8,144.0 L477.9,144.0 L478.1,144.0 L478.2,144.0 L478.3,144.1 L478.4,144.1 L478.5,144.1 L478.6,144.1 L478.8,144.1 L478.9,144.1 L479.0,144.1 L479.1,144.1 L479.2,144.1 L479.3,144.1 L479.4,144.1 L479.6,144.1 L479.7,144.2 L479.8,144.2 L479.9,144.2 L480.0,144.2 L480.1,144.2 L480.3,144.2 L480.4,144.2 L480.5,144.2 L480.6,144.2 L480.7,144.2 L480.8,144.2 L481.0,144.2 L481.1,144.2 L481.2,144.2 L481.3,144.2 L481.4,144.2 L481.5,144.2 L481.7,144.3 L481.8,144.3 L481.9,144.3 L482.0,144.3 L482.1,144.3 L482.2,144.3 L482.4,144.3 L482.5,144.3 L482.6,144.3 L482.7,144.3 L482.8,144.3 L482.9,144.3 L483.1,144.3 L483.2,144.3 L483.3,144.3 L483.4,144.3 L483.5,144.3 L483.6,144.3 L483.7,144.3 L483.9,144.3 L484.0,144.3 L484.1,144.3 L484.2,144.3 L484.3,144.3 L484.4,144.4 L484.6,144.4 L484.7,144.4 L484.8,144.4 L484.9,144.4 L485.0,144.4 L485.1,144.4 L485.3,144.4 L485.4,144.4 L485.5,144.4 L485.6,144.4 L485.7,144.4 L485.8,144.4 L486.0,144.4 L486.1,144.4 L486.2,144.4 L486.3,144.4 L486.4,144.4 L486.5,144.4 L486.7,144.4 L486.8,144.4 L486.9,144.4 L487.0,144.4 L487.1,144.4 L487.2,144.4 L487.4,144.4 L487.5,144.4 L487.6,144.4 L487.7,144.4 L487.8,144.4 L487.9,144.4 L488.1,144.4 L488.2,138.7 L488.3,133.3 L488.4,128.2 L488.5,123.3 L488.6,118.6 L488.7,114.2 L488.9,110.0 L489.0,106.0 L489.1,102.1 L489.2,98.5 L489.3,95.1 L489.4,91.8 L489.6,88.7 L489.7,85.7 L489.8,82.9 L489.9,80.2 L490.0,77.6 L490.1,75.2 L490.3,72.9 L490.4,70.7 L490.5,68.6 L490.6,66.6 L490.7,64.7 L490.8,62.9 L491.0,61.2 L491.1,59.6 L491.2,58.0 L491.3,56.5 L491.4,55.1 L491.5,53.8 L491.7,52.5 L491.8,51.3 L491.9,50.2 L492.0,49.1 L492.1,48.0 L492.2,47.0 L492.4,46.1 L492.5,45.2 L492.6,44.4 L492.7,43.6 L492.8,81.4 L492.9,104.4 L493.0,118.3 L493.2,126.9 L493.3,132.1 L493.4,135.2 L493.5,137.2 L493.6,138.4 L493.7,139.2 L493.9,139.7 L494.0,140.1 L494.1,140.3 L494.2,140.5 L494.3,140.6 L494.4,140.7 L494.6,140.8 L494.7,140.9 L494.8,141.0 L494.9,141.1 L495.0,141.1 L495.1,141.2 L495.3,141.3 L495.4,141.4 L495.5,141.4 L495.6,141.5 L495.7,141.5 L495.8,141.6 L496.0,141.7 L496.1,141.7 L496.2,141.8 L496.3,141.8 L496.4,141.9 L496.5,141.9 L496.7,142.0 L496.8,142.1 L496.9,142.1 L497.0,142.2 L497.1,142.2 L497.2,142.2 L497.4,142.3 L497.5,142.3 L497.6,142.4 L497.7,142.4 L497.8,142.5 L497.9,142.5 L498.0,142.6 L498.2,142.6 L498.3,142.6 L498.4,142.7 L498.5,142.7 L498.6,142.7 L498.7,142.8 L498.9,142.8 L499.0,142.9 L499.1,142.9 L499.2,142.9 L499.3,143.0 L499.4,143.0 L499.6,143.0 L499.7,143.0 L499.8,143.1 L499.9,143.1 L500.0,143.1 L500.1,143.2 L500.3,143.2 L500.4,143.2 L500.5,143.2 L500.6,143.3 L500.7,143.3 L500.8,143.3 L501.0,143.3 L501.1,143.4 L501.2,143.4 L501.3,143.4 L501.4,143.4 L501.5,143.5 L501.7,143.5 L501.8,143.5 L501.9,143.5 L502.0,143.5 L502.1,143.6 L502.2,143.6 L502.3,143.6 L502.5,143.6 L502.6,143.6 L502.7,143.7 L502.8,143.7 L502.9,143.7 L503.0,143.7 L503.2,143.7 L503.3,143.7 L503.4,143.8 L503.5,143.8 L503.6,143.8 L503.7,143.8 L503.9,143.8 L504.0,143.8 L504.1,143.8 L504.2,143.9 L504.3,143.9 L504.4,143.9 L504.6,143.9 L504.7,143.9 L504.8,143.9 L504.9,143.9 L505.0,143.9 L505.1,144.0 L505.3,144.0 L505.4,144.0 L505.5,144.0 L505.6,144.0 L505.7,144.0 L505.8,144.0 L506.0,144.0 L506.1,144.0 L506.2,144.0 L506.3,144.1 L506.4,144.1 L506.5,144.1 L506.7,144.1 L506.8,144.1 L506.9,144.1 L507.0,144.1 L507.1,144.1 L507.2,144.1 L507.3,144.1 L507.5,144.1 L507.6,144.1 L507.7,144.2 L507.8,144.2 L507.9,144.2 L508.0,144.2 L508.2,144.2 L508.3,144.2 L508.4,144.2 L508.5,144.2 L508.6,144.2 L508.7,144.2 L508.9,144.2 L509.0,144.2 L509.1,144.2 L509.2,144.2 L509.3,144.2 L509.4,144.2 L509.6,144.3 L509.7,144.3 L509.8,144.3 L509.9,144.3 L510.0,144.3 L510.1,144.3 L510.3,144.3 L510.4,144.3 L510.5,144.3 L510.6,144.3 L510.7,144.3 L510.8,144.3 L511.0,144.3 L511.1,144.3 L511.2,144.3 L511.3,144.3 L511.4,144.3 L511.5,144.3 L511.6,144.3 L511.8,144.3 L511.9,144.3 L512.0,144.3 L512.1,144.3 L512.2,144.3 L512.3,144.3 L512.5,144.4 L512.6,144.4 L512.7,144.4 L512.8,144.4 L512.9,144.4 L513.0,144.4 L513.2,144.4 L513.3,144.4 L513.4,144.4 L513.5,144.4 L513.6,144.4 L513.7,144.4 L513.9,144.4 L514.0,144.4 L514.1,144.4 L514.2,144.4 L514.3,144.4 L514.4,144.4 L514.6,144.4 L514.7,144.4 L514.8,144.4 L514.9,144.4 L515.0,144.4 L515.1,144.4 L515.3,144.4 L515.4,144.4 L515.5,144.4 L515.6,144.4 L515.7,144.4 L515.8,144.4 L516.0,144.4 L516.1,138.9 L516.2,133.7 L516.3,128.8 L516.4,124.1 L516.5,119.6 L516.6,115.3 L516.8,111.3 L516.9,107.4 L517.0,103.8 L517.1,100.3 L517.2,96.9 L517.3,93.8 L517.5,90.8 L517.6,87.9 L517.7,85.2 L517.8,82.6 L517.9,80.2 L518.0,77.8 L518.2,75.6 L518.3,73.5 L518.4,71.5 L518.5,69.6 L518.6,67.7 L518.7,66.0 L518.9,64.4 L519.0,62.8 L519.1,61.3 L519.2,59.9 L519.3,58.5 L519.4,57.2 L519.6,56.0 L519.7,54.9 L519.8,53.8 L519.9,52.7 L520.0,51.7 L520.1,50.8 L520.3,49.8 L520.4,49.0 L520.5,48.2 L520.6,47.4 L520.7,83.8 L520.8,105.9 L520.9,119.3 L521.1,127.5 L521.2,132.5 L521.3,135.6 L521.4,137.5 L521.5,138.7 L521.6,139.4 L521.8,139.9 L521.9,140.2 L522.0,140.5 L522.1,140.6 L522.2,140.8 L522.3,140.9 L522.5,141.0 L522.6,141.1 L522.7,141.1 L522.8,141.2 L522.9,141.3 L523.0,141.3 L523.2,141.4 L523.3,141.5 L523.4,141.5 L523.5,141.6 L523.6,141.7 L523.7,141.7 L523.9,141.8 L524.0,141.8 L524.1,141.9 L524.2,141.9 L524.3,142.0 L524.4,142.0 L524.6,142.1 L524.7,142.1 L524.8,142.2 L524.9,142.2 L525.0,142.3 L525.1,142.3 L525.2,142.4 L525.4,142.4 L525.5,142.5 L525.6,142.5 L525.7,142.5 L525.8,142.6 L525.9,142.6 L526.1,142.7 L526.2,142.7 L526.3,142.7 L526.4,142.8 L526.5,142.8 L526.6,142.8 L526.8,142.9 L526.9,142.9 L527.0,142.9 L527.1,143.0 L527.2,143.0 L527.3,143.0 L527.5,143.1 L527.6,143.1 L527.7,143.1 L527.8,143.2 L527.9,143.2 L528.0,143.2 L528.2,143.2 L528.3,143.3 L528.4,143.3 L528.5,143.3 L528.6,143.3 L528.7,143.4 L528.9,143.4 L529.0,143.4 L529.1,143.4 L529.2,143.5 L529.3,143.5 L529.4,143.5 L529.6,143.5 L529.7,143.5 L529.8,143.6 L529.9,143.6 L530.0,143.6 L530.1,143.6 L530.2,143.6 L530.4,143.7 L530.5,143.7 L530.6,143.7 L530.7,143.7 L530.8,143.7 L530.9,143.7 L531.1,143.8 L531.2,143.8 L531.3,143.8 L531.4,143.8 L531.5,143.8 L531.6,143.8 L531.8,143.8 L531.9,143.9 L532.0,143.9 L532.1,143.9 L532.2,143.9 L532.3,143.9 L532.5,143.9 L532.6,143.9 L532.7,143.9 L532.8,144.0 L532.9,144.0 L533.0,144.0 L533.2,144.0 L533.3,144.0 L533.4,144.0 L533.5,144.0 L533.6,144.0 L533.7,144.0 L533.9,144.0 L534.0,144.1 L534.1,144.1 L534.2,144.1 L534.3,144.1 L534.4,144.1 L534.6,144.1 L534.7,144.1 L534.8,144.1 L534.9,144.1 L535.0,144.1 L535.1,144.1 L535.2,144.1 L535.4,144.2 L535.5,144.2 L535.6,144.2 L535.7,144.2 L535.8,144.2 L535.9,144.2 L536.1,144.2 L536.2,144.2 L536.3,144.2 L536.4,144.2 L536.5,144.2 L536.6,144.2 L536.8,144.2 L536.9,144.2 L537.0,144.2 L537.1,144.2 L537.2,144.3 L537.3,144.3 L537.5,144.3 L537.6,144.3 L537.7,144.3 L537.8,144.3 L537.9,144.3 L538.0,144.3 L538.2,144.3 L538.3,144.3 L538.4,144.3 L538.5,144.3 L538.6,144.3 L538.7,144.3 L538.9,144.3 L539.0,144.3 L539.1,144.3 L539.2,144.3 L539.3,144.3 L539.4,144.3 L539.5,144.3 L539.7,144.3 L539.8,144.3 L539.9,144.3 L540.0,144.3 L540.1,144.4 L540.2,144.4 L540.4,144.4 L540.5,144.4 L540.6,144.4 L540.7,144.4 L540.8,144.4 L540.9,144.4 L541.1,144.4 L541.2,144.4 L541.3,144.4 L541.4,144.4 L541.5,144.4 L541.6,144.4 L541.8,144.4 L541.9,144.4 L542.0,144.4 L542.1,144.4 L542.2,144.4 L542.3,144.4 L542.5,144.4 L542.6,144.4 L542.7,144.4 L542.8,144.4 L542.9,144.4 L543.0,144.4 L543.2,144.4 L543.3,144.4 L543.4,144.4 L543.5,144.4 L543.6,144.4 L543.7,144.4 L543.9,144.4 L544.0,138.8 L544.1,133.5 L544.2,128.5 L544.3,123.7 L544.4,119.1 L544.5,114.8 L544.7,110.6 L544.8,106.7 L544.9,102.9 L545.0,99.4 L545.1,96.0 L545.2,92.8 L545.4,89.7 L545.5,86.8 L545.6,84.0 L545.7,81.4 L545.8,78.9 L545.9,76.5 L546.1,74.2 L546.2,72.1 L546.3,70.0 L546.4,68.1 L546.5,66.2 L546.6,64.4 L546.8,62.8 L546.9,61.2 L547.0,59.6 L547.1,58.2 L547.2,56.8 L547.3,55.5 L547.5,54.3 L547.6,53.1 L547.7,52.0 L547.8,50.9 L547.9,49.9 L548.0,48.9 L548.2,48.0 L548.3,47.1 L548.4,46.3 L548.5,45.5 L548.6,82.6 L548.7,105.1 L548.8,118.8 L549.0,127.2 L549.1,132.3 L549.2,135.4 L549.3,137.4 L549.4,138.6 L549.5,139.3 L549.7,139.8 L549.8,140.2 L549.9,140.4 L550.0,140.6 L550.1,140.7 L550.2,140.8 L550.4,140.9 L550.5,141.0 L550.6,141.1 L550.7,141.1 L550.8,141.2 L550.9,141.3 L551.1,141.3 L551.2,141.4 L551.3,141.5 L551.4,141.5 L551.5,141.6 L551.6,141.7 L551.8,141.7 L551.9,141.8 L552.0,141.8 L552.1,141.9 L552.2,141.9 L552.3,142.0 L552.5,142.0 L552.6,142.1 L552.7,142.1 L552.8,142.2 L552.9,142.2 L553.0,142.3 L553.2,142.3 L553.3,142.4 L553.4,142.4 L553.5,142.5 L553.6,142.5 L553.7,142.5 L553.8,142.6 L554.0,142.6 L554.1,142.7 L554.2,142.7 L554.3,142.7 L554.4,142.8 L554.5,142.8 L554.7,142.8 L554.8,142.9 L554.9,142.9 L555.0,142.9 L555.1,143.0 L555.2,143.0 L555.4,143.0 L555.5,143.1 L555.6,143.1 L555.7,143.1 L555.8,143.2 L555.9,143.2 L556.1,143.2 L556.2,143.2 L556.3,143.3 L556.4,143.3 L556.5,143.3 L556.6,143.3 L556.8,143.4 L556.9,143.4 L557.0,143.4 L557.1,143.4 L557.2,143.5 L557.3,143.5 L557.5,143.5 L557.6,143.5 L557.7,143.5 L557.8,143.6 L557.9,143.6 L558.0,143.6 L558.1,143.6 L558.3,143.6 L558.4,143.7 L558.5,143.7 L558.6,143.7 L558.7,143.7 L558.8,143.7 L559.0,143.7 L559.1,143.8 L559.2,143.8 L559.3,143.8 L559.4,143.8 L559.5,143.8 L559.7,143.8 L559.8,143.8 L559.9,143.9 L560.0,143.9 L560.1,143.9 L560.2,143.9 L560.4,143.9 L560.5,143.9 L560.6,143.9 L560.7,143.9 L560.8,144.0 L560.9,144.0 L561.1,144.0 L561.2,144.0 L561.3,144.0 L561.4,144.0 L561.5,144.0 L561.6,144.0 L561.8,144.0 L561.9,144.0 L562.0,144.1 L562.1,144.1 L562.2,144.1 L562.3,144.1 L562.5,144.1 L562.6,144.1 L562.7,144.1 L562.8,144.1 L562.9,144.1 L563.0,144.1 L563.1,144.1 L563.3,144.1 L563.4,144.2 L563.5,144.2 L563.6,144.2 L563.7,144.2 L563.8,144.2 L564.0,144.2 L564.1,144.2 L564.2,144.2 L564.3,144.2 L564.4,144.2 L564.5,144.2 L564.7,144.2 L564.8,144.2 L564.9,144.2 L565.0,144.2 L565.1,144.2 L565.2,144.3 L565.4,144.3 L565.5,144.3 L565.6,144.3 L565.7,144.3 L565.8,144.3 L565.9,144.3 L566.1,144.3 L566.2,144.3 L566.3,144.3 L566.4,144.3 L566.5,144.3 L566.6,144.3 L566.8,144.3 L566.9,144.3 L567.0,144.3 L567.1,144.3 L567.2,144.3 L567.3,144.3 L567.4,144.3 L567.6,144.3 L567.7,144.3 L567.8,144.3 L567.9,144.3 L568.0,144.3 L568.1,144.4 L568.3,144.4 L568.4,144.4 L568.5,144.4 L568.6,144.4 L568.7,144.4 L568.8,144.4 L569.0,144.4 L569.1,144.4 L569.2,144.4 L569.3,144.4 L569.4,144.4 L569.5,144.4 L569.7,144.4 L569.8,144.4 L569.9,144.4 L570.0,144.4 L570.1,144.4 L570.2,144.4 L570.4,144.4 L570.5,144.4 L570.6,144.4 L570.7,144.4 L570.8,144.4 L570.9,144.4 L571.1,144.4 L571.2,144.4 L571.3,144.4 L571.4,144.4 L571.5,144.4 L571.6,144.4 L571.8,144.4 L571.9,138.7 L572.0,133.3 L572.1,128.1 L572.2,123.2 L572.3,118.5 L572.4,114.1 L572.6,109.8 L572.7,105.8 L572.8,102.0 L572.9,98.3 L573.0,94.9 L573.1,91.6 L573.3,88.4 L573.4,85.4 L573.5,82.6 L573.6,79.9 L573.7,77.3 L573.8,74.9 L574.0,72.6 L574.1,70.4 L574.2,68.3 L574.3,66.3 L574.4,64.4 L574.5,62.6 L574.7,60.8 L574.8,59.2 L574.9,57.6 L575.0,56.2 L575.1,54.7 L575.2,53.4 L575.4,52.1 L575.5,50.9 L575.6,49.8 L575.7,48.7 L575.8,47.6 L575.9,46.6 L576.1,45.7 L576.2,44.8 L576.3,43.9 L576.4,43.1 L576.5,81.1 L576.6,104.2 L576.7,118.2 L576.9,126.8 L577.0,132.0 L577.1,135.2 L577.2,137.2 L577.3,138.4 L577.4,139.2 L577.6,139.7 L577.7,140.1 L577.8,140.3 L577.9,140.5 L578.0,140.6 L578.1,140.7 L578.3,140.8 L578.4,140.9 L578.5,141.0 L578.6,141.1 L578.7,141.1 L578.8,141.2 L579.0,141.3 L579.1,141.3 L579.2,141.4 L579.3,141.5 L579.4,141.5 L579.5,141.6 L579.7,141.7 L579.8,141.7 L579.9,141.8 L580.0,141.8 L580.1,141.9 L580.2,141.9 L580.4,142.0 L580.5,142.0 L580.6,142.1 L580.7,142.1 L580.8,142.2 L580.9,142.2 L581.1,142.3 L581.2,142.3 L581.3,142.4 L581.4,142.4 L581.5,142.5 L581.6,142.5 L581.7,142.5 L581.9,142.6 L582.0,142.6 L582.1,142.7 L582.2,142.7 L582.3,142.7 L582.4,142.8 L582.6,142.8 L582.7,142.8 L582.8,142.9 L582.9,142.9 L583.0,142.9 L583.1,143.0 L583.3,143.0 L583.4,143.0 L583.5,143.1 L583.6,143.1 L583.7,143.1 L583.8,143.2 L584.0,143.2 L584.1,143.2 L584.2,143.2 L584.3,143.3 L584.4,143.3 L584.5,143.3 L584.7,143.3 L584.8,143.4 L584.9,143.4 L585.0,143.4 L585.1,143.4 L585.2,143.5 L585.4,143.5 L585.5,143.5 L585.6,143.5 L585.7,143.5 L585.8,143.6 L585.9,143.6 L586.0,143.6 L586.2,143.6 L586.3,143.6 L586.4,143.6 L586.5,143.7 L586.6,143.7 L586.7,143.7 L586.9,143.7 L587.0,143.7 L587.1,143.7 L587.2,143.8 L587.3,143.8 L587.4,143.8 L587.6,143.8 L587.7,143.8 L587.8,143.8 L587.9,143.9 L588.0,143.9 L588.1,143.9 L588.3,143.9 L588.4,143.9 L588.5,143.9 L588.6,143.9 L588.7,143.9 L588.8,144.0 L589.0,144.0 L589.1,144.0 L589.2,144.0 L589.3,144.0 L589.4,144.0 L589.5,144.0 L589.7,144.0 L589.8,144.0 L589.9,144.0 L590.0,144.1 L590.1,144.1 L590.2,144.1 L590.4,144.1 L590.5,144.1 L590.6,144.1 L590.7,144.1 L590.8,144.1 L590.9,144.1 L591.0,144.1 L591.2,144.1 L591.3,144.1 L591.4,144.2 L591.5,144.2 L591.6,144.2 L591.7,144.2 L591.9,144.2 L592.0,144.2 L592.1,144.2 L592.2,144.2 L592.3,144.2 L592.4,144.2 L592.6,144.2 L592.7,144.2 L592.8,144.2 L592.9,144.2 L593.0,144.2 L593.1,144.2 L593.3,144.3 L593.4,144.3 L593.5,144.3 L593.6,144.3 L593.7,144.3 L593.8,144.3 L594.0,144.3 L594.1,144.3 L594.2,144.3 L594.3,144.3 L594.4,144.3 L594.5,144.3 L594.7,144.3 L594.8,144.3 L594.9,144.3 L595.0,144.3 L595.1,144.3 L595.2,144.3 L595.3,144.3 L595.5,144.3 L595.6,144.3 L595.7,144.3 L595.8,144.3 L595.9,144.3 L596.0,144.3 L596.2,144.4 L596.3,144.4 L596.4,144.4 L596.5,144.4 L596.6,144.4 L596.7,144.4 L596.9,144.4 L597.0,144.4 L597.1,144.4 L597.2,144.4 L597.3,144.4 L597.4,144.4 L597.6,144.4 L597.7,144.4 L597.8,144.4 L597.9,144.4 L598.0,144.4 L598.1,144.4 L598.3,144.4 L598.4,144.4 L598.5,144.4 L598.6,144.4 L598.7,144.4 L598.8,144.4 L599.0,144.4 L599.1,144.4 L599.2,144.4 L599.3,144.4 L599.4,144.4 L599.5,144.4 L599.7,144.4 L599.8,138.6 L599.9,133.2 L600.0,127.9 L600.1,123.0 L600.2,118.2 L600.3,113.7 L600.5,109.5 L600.6,105.4 L600.7,101.5 L600.8,97.8 L600.9,94.3 L601.0,91.0 L601.2,87.8 L601.3,84.8 L601.4,82.0 L601.5,79.2 L601.6,76.6 L601.7,74.2 L601.9,71.8 L602.0,69.6 L602.1,67.5 L602.2,65.4 L602.3,63.5 L602.4,61.7 L602.6,59.9 L602.7,58.3 L602.8,56.7 L602.9,55.2 L603.0,53.8 L603.1,52.4 L603.3,51.2 L603.4,49.9 L603.5,48.8 L603.6,47.7 L603.7,46.6 L603.8,45.6 L604.0,44.6 L604.1,43.7 L604.2,42.9 L604.3,42.1 L604.4,80.4 L604.5,103.8 L604.6,117.9 L604.8,126.6 L604.9,131.9 L605.0,135.1 L605.1,137.1 L605.2,138.4 L605.3,139.1 L605.5,139.7 L605.6,140.0 L605.7,140.2 L605.8,140.4 L605.9,140.6 L606.0,140.7 L606.2,140.8 L606.3,140.9 L606.4,140.9 L606.5,141.0 L606.6,141.1 L606.7,141.2 L606.9,141.2 L607.0,141.3 L607.1,141.4 L607.2,141.4 L607.3,141.5 L607.4,141.6 L607.6,141.6 L607.7,141.7 L607.8,141.7 L607.9,141.8 L608.0,141.9 L608.1,141.9 L608.3,142.0 L608.4,142.0 L608.5,142.1 L608.6,142.1 L608.7,142.2 L608.8,142.2 L609.0,142.3 L609.1,142.3 L609.2,142.4 L609.3,142.4 L609.4,142.4 L609.5,142.5 L609.6,142.5 L609.8,142.6 L609.9,142.6 L610.0,142.6 L610.1,142.7 L610.2,142.7 L610.3,142.8 L610.5,142.8 L610.6,142.8 L610.7,142.9 L610.8,142.9 L610.9,142.9 L611.0,143.0 L611.2,143.0 L611.3,143.0 L611.4,143.1 L611.5,143.1 L611.6,143.1 L611.7,143.1 L611.9,143.2 L612.0,143.2 L612.1,143.2 L612.2,143.2 L612.3,143.3 L612.4,143.3 L612.6,143.3 L612.7,143.3 L612.8,143.4 L612.9,143.4 L613.0,143.4 L613.1,143.4 L613.3,143.5 L613.4,143.5 L613.5,143.5 L613.6,143.5 L613.7,143.5 L613.8,143.6 L613.9,143.6 L614.1,143.6 L614.2,143.6 L614.3,143.6 L614.4,143.7 L614.5,143.7 L614.6,143.7 L614.8,143.7 L614.9,143.7 L615.0,143.7 L615.1,143.8 L615.2,143.8 L615.3,143.8 L615.5,143.8 L615.6,143.8 L615.7,143.8 L615.8,143.8 L615.9,143.9 L616.0,143.9 L616.2,143.9 L616.3,143.9 L616.4,143.9 L616.5,143.9 L616.6,143.9 L616.7,143.9 L616.9,144.0 L617.0,144.0 L617.1,144.0 L617.2,144.0 L617.3,144.0 L617.4,144.0 L617.6,144.0 L617.7,144.0 L617.8,144.0 L617.9,144.0 L618.0,144.1 L618.1,144.1 L618.2,144.1 L618.4,144.1 L618.5,144.1 L618.6,144.1 L618.7,144.1 L618.8,144.1 L618.9,144.1 L619.1,144.1 L619.2,144.1 L619.3,144.1 L619.4,144.2 L619.5,144.2 L619.6,144.2 L619.8,144.2 L619.9,144.2 L620.0,144.2 L620.1,144.2 L620.2,144.2 L620.3,144.2 L620.5,144.2 L620.6,144.2 L620.7,144.2 L620.8,144.2 L620.9,144.2 L621.0,144.2 L621.2,144.2 L621.3,144.3 L621.4,144.3 L621.5,144.3 L621.6,144.3 L621.7,144.3 L621.9,144.3 L622.0,144.3 L622.1,144.3 L622.2,144.3 L622.3,144.3 L622.4,144.3 L622.6,144.3 L622.7,144.3 L622.8,144.3 L622.9,144.3" fill="none" stroke="#e02028" stroke-width="1.8" stroke-linejoin="round" stroke-linecap="round" />
<path d="M427.6,144.5 L427.7,144.5 L427.8,144.5 L427.9,144.5 L428.1,144.5 L428.2,144.5 L428.3,144.5 L428.4,144.5 L428.5,144.5 L428.6,144.5 L428.8,144.5 L428.9,144.5 L429.0,144.5 L429.1,144.5 L429.2,144.5 L429.3,144.5 L429.5,144.5 L429.6,144.5 L429.7,144.5 L429.8,144.5 L429.9,144.5 L430.0,144.5 L430.2,144.5 L430.3,144.5 L430.4,144.5 L430.5,144.5 L430.6,144.5 L430.7,144.5 L430.9,144.5 L431.0,144.5 L431.1,144.5 L431.2,144.5 L431.3,144.5 L431.4,144.5 L431.6,144.5 L431.7,144.5 L431.8,144.5 L431.9,144.5 L432.0,144.5 L432.1,144.5 L432.2,144.5 L432.4,143.7 L432.5,142.7 L432.6,141.5 L432.7,140.3 L432.8,139.0 L432.9,137.6 L433.1,136.2 L433.2,134.8 L433.3,133.3 L433.4,131.8 L433.5,130.3 L433.6,128.7 L433.8,127.1 L433.9,125.5 L434.0,123.9 L434.1,122.2 L434.2,120.5 L434.3,118.8 L434.5,117.1 L434.6,115.3 L434.7,113.6 L434.8,111.8 L434.9,110.0 L435.0,108.2 L435.2,106.4 L435.3,104.5 L435.4,102.7 L435.5,100.8 L435.6,99.0 L435.7,97.1 L435.9,95.2 L436.0,93.2 L436.1,91.3 L436.2,89.4 L436.3,87.4 L436.4,85.5 L436.6,83.5 L436.7,81.5 L436.8,79.5 L436.9,77.5 L437.0,88.2 L437.1,97.0 L437.2,104.3 L437.4,110.3 L437.5,115.3 L437.6,119.5 L437.7,122.9 L437.8,125.7 L437.9,128.1 L438.1,130.1 L438.2,131.7 L438.3,133.1 L438.4,134.2 L438.5,135.2 L438.6,136.0 L438.8,136.7 L438.9,137.3 L439.0,137.8 L439.1,138.2 L439.2,138.5 L439.3,138.8 L439.5,139.1 L439.6,139.3 L439.7,139.5 L439.8,139.7 L439.9,139.9 L440.0,140.0 L440.2,140.2 L440.3,140.3 L440.4,140.4 L440.5,140.5 L440.6,140.6 L440.7,140.7 L440.9,140.8 L441.0,140.8 L441.1,140.9 L441.2,141.0 L441.3,141.1 L441.4,141.1 L441.6,141.2 L441.7,141.3 L441.8,141.3 L441.9,141.4 L442.0,141.4 L442.1,141.5 L442.2,141.5 L442.4,141.6 L442.5,141.7 L442.6,141.7 L442.7,141.8 L442.8,141.8 L442.9,141.9 L443.1,141.9 L443.2,141.9 L443.3,142.0 L443.4,142.0 L443.5,142.1 L443.6,142.1 L443.8,142.2 L443.9,142.2 L444.0,142.2 L444.1,142.3 L444.2,142.3 L444.3,142.4 L444.5,142.4 L444.6,142.4 L444.7,142.5 L444.8,142.5 L444.9,142.5 L445.0,142.6 L445.2,142.6 L445.3,142.6 L445.4,142.7 L445.5,142.7 L445.6,142.7 L445.7,142.8 L445.9,142.8 L446.0,142.8 L446.1,142.9 L446.2,142.9 L446.3,142.9 L446.4,143.0 L446.5,143.0 L446.7,143.0 L446.8,143.0 L446.9,143.1 L447.0,143.1 L447.1,143.1 L447.2,143.1 L447.4,143.2 L447.5,143.2 L447.6,143.2 L447.7,143.2 L447.8,143.2 L447.9,143.3 L448.1,143.3 L448.2,143.3 L448.3,143.3 L448.4,143.4 L448.5,143.4 L448.6,143.4 L448.8,143.4 L448.9,143.4 L449.0,143.5 L449.1,143.5 L449.2,143.5 L449.3,143.5 L449.5,143.5 L449.6,143.5 L449.7,143.6 L449.8,143.6 L449.9,143.6 L450.0,143.6 L450.2,143.6 L450.3,143.6 L450.4,143.7 L450.5,143.7 L450.6,143.7 L450.7,143.7 L450.9,143.7 L451.0,143.7 L451.1,143.7 L451.2,143.8 L451.3,143.8 L451.4,143.8 L451.5,143.8 L451.7,143.8 L451.8,143.8 L451.9,143.8 L452.0,143.8 L452.1,143.9 L452.2,143.9 L452.4,143.9 L452.5,143.9 L452.6,143.9 L452.7,143.9 L452.8,143.9 L452.9,143.9 L453.1,143.9 L453.2,144.0 L453.3,144.0 L453.4,144.0 L453.5,144.0 L453.6,144.0 L453.8,144.0 L453.9,144.0 L454.0,144.0 L454.1,144.0 L454.2,144.0 L454.3,144.0 L454.5,144.0 L454.6,144.1 L454.7,144.1 L454.8,144.1 L454.9,144.1 L455.0,144.1 L455.2,144.1 L455.3,144.1 L455.4,144.1 L455.5,144.1 L455.6,144.1 L455.7,144.1 L455.8,144.1 L456.0,144.1 L456.1,144.1 L456.2,144.2 L456.3,144.2 L456.4,144.2 L456.5,144.2 L456.7,144.2 L456.8,144.2 L456.9,144.2 L457.0,144.2 L457.1,144.2 L457.2,144.2 L457.4,144.2 L457.5,144.2 L457.6,144.2 L457.7,144.2 L457.8,144.2 L457.9,144.2 L458.1,144.2 L458.2,144.2 L458.3,144.2 L458.4,144.3 L458.5,144.3 L458.6,144.3 L458.8,144.3 L458.9,144.3 L459.0,144.3 L459.1,144.3 L459.2,144.3 L459.3,144.3 L459.5,144.3 L459.6,144.3 L459.7,144.3 L459.8,144.3 L459.9,144.3 L460.0,144.3 L460.2,144.3 L460.3,143.5 L460.4,142.6 L460.5,141.5 L460.6,140.3 L460.7,139.0 L460.8,137.8 L461.0,136.4 L461.1,135.1 L461.2,133.7 L461.3,132.2 L461.4,130.7 L461.5,129.3 L461.7,127.7 L461.8,126.2 L461.9,124.6 L462.0,123.0 L462.1,121.4 L462.2,119.8 L462.4,118.2 L462.5,116.5 L462.6,114.8 L462.7,113.1 L462.8,111.4 L462.9,109.7 L463.1,108.0 L463.2,106.2 L463.3,104.4 L463.4,102.7 L463.5,100.9 L463.6,99.1 L463.8,97.3 L463.9,95.4 L464.0,93.6 L464.1,91.7 L464.2,89.9 L464.3,88.0 L464.5,86.1 L464.6,84.2 L464.7,82.3 L464.8,80.4 L464.9,90.6 L465.0,99.0 L465.1,106.0 L465.3,111.8 L465.4,116.5 L465.5,120.5 L465.6,123.8 L465.7,126.5 L465.8,128.8 L466.0,130.6 L466.1,132.2 L466.2,133.5 L466.3,134.6 L466.4,135.5 L466.5,136.3 L466.7,137.0 L466.8,137.5 L466.9,138.0 L467.0,138.4 L467.1,138.7 L467.2,139.0 L467.4,139.3 L467.5,139.5 L467.6,139.7 L467.7,139.9 L467.8,140.0 L467.9,140.2 L468.1,140.3 L468.2,140.4 L468.3,140.5 L468.4,140.6 L468.5,140.7 L468.6,140.8 L468.8,140.9 L468.9,141.0 L469.0,141.0 L469.1,141.1 L469.2,141.2 L469.3,141.2 L469.5,141.3 L469.6,141.4 L469.7,141.4 L469.8,141.5 L469.9,141.5 L470.0,141.6 L470.1,141.6 L470.3,141.7 L470.4,141.7 L470.5,141.8 L470.6,141.8 L470.7,141.9 L470.8,141.9 L471.0,142.0 L471.1,142.0 L471.2,142.1 L471.3,142.1 L471.4,142.2 L471.5,142.2 L471.7,142.2 L471.8,142.3 L471.9,142.3 L472.0,142.4 L472.1,142.4 L472.2,142.4 L472.4,142.5 L472.5,142.5 L472.6,142.5 L472.7,142.6 L472.8,142.6 L472.9,142.6 L473.1,142.7 L473.2,142.7 L473.3,142.7 L473.4,142.8 L473.5,142.8 L473.6,142.8 L473.8,142.9 L473.9,142.9 L474.0,142.9 L474.1,142.9 L474.2,143.0 L474.3,143.0 L474.4,143.0 L474.6,143.1 L474.7,143.1 L474.8,143.1 L474.9,143.1 L475.0,143.2 L475.1,143.2 L475.3,143.2 L475.4,143.2 L475.5,143.2 L475.6,143.3 L475.7,143.3 L475.8,143.3 L476.0,143.3 L476.1,143.4 L476.2,143.4 L476.3,143.4 L476.4,143.4 L476.5,143.4 L476.7,143.4 L476.8,143.5 L476.9,143.5 L477.0,143.5 L477.1,143.5 L477.2,143.5 L477.4,143.6 L477.5,143.6 L477.6,143.6 L477.7,143.6 L477.8,143.6 L477.9,143.6 L478.1,143.7 L478.2,143.7 L478.3,143.7 L478.4,143.7 L478.5,143.7 L478.6,143.7 L478.8,143.7 L478.9,143.8 L479.0,143.8 L479.1,143.8 L479.2,143.8 L479.3,143.8 L479.4,143.8 L479.6,143.8 L479.7,143.8 L479.8,143.9 L479.9,143.9 L480.0,143.9 L480.1,143.9 L480.3,143.9 L480.4,143.9 L480.5,143.9 L480.6,143.9 L480.7,143.9 L480.8,143.9 L481.0,144.0 L481.1,144.0 L481.2,144.0 L481.3,144.0 L481.4,144.0 L481.5,144.0 L481.7,144.0 L481.8,144.0 L481.9,144.0 L482.0,144.0 L482.1,144.0 L482.2,144.1 L482.4,144.1 L482.5,144.1 L482.6,144.1 L482.7,144.1 L482.8,144.1 L482.9,144.1 L483.1,144.1 L483.2,144.1 L483.3,144.1 L483.4,144.1 L483.5,144.1 L483.6,144.1 L483.7,144.1 L483.9,144.2 L484.0,144.2 L484.1,144.2 L484.2,144.2 L484.3,144.2 L484.4,144.2 L484.6,144.2 L484.7,144.2 L484.8,144.2 L484.9,144.2 L485.0,144.2 L485.1,144.2 L485.3,144.2 L485.4,144.2 L485.5,144.2 L485.6,144.2 L485.7,144.2 L485.8,144.2 L486.0,144.2 L486.1,144.3 L486.2,144.3 L486.3,144.3 L486.4,144.3 L486.5,144.3 L486.7,144.3 L486.8,144.3 L486.9,144.3 L487.0,144.3 L487.1,144.3 L487.2,144.3 L487.4,144.3 L487.5,144.3 L487.6,144.3 L487.7,144.3 L487.8,144.3 L487.9,144.3 L488.1,144.3 L488.2,143.6 L488.3,142.6 L488.4,141.5 L488.5,140.4 L488.6,139.2 L488.7,137.9 L488.9,136.6 L489.0,135.3 L489.1,133.9 L489.2,132.5 L489.3,131.1 L489.4,129.7 L489.6,128.2 L489.7,126.7 L489.8,125.2 L489.9,123.6 L490.0,122.1 L490.1,120.5 L490.3,118.9 L490.4,117.3 L490.5,115.6 L490.6,114.0 L490.7,112.3 L490.8,110.6 L491.0,108.9 L491.1,107.2 L491.2,105.5 L491.3,103.8 L491.4,102.0 L491.5,100.3 L491.7,98.5 L491.8,96.7 L491.9,94.9 L492.0,93.1 L492.1,91.3 L492.2,89.5 L492.4,87.7 L492.5,85.8 L492.6,84.0 L492.7,82.1 L492.8,92.0 L492.9,100.2 L493.0,107.0 L493.2,112.6 L493.3,117.3 L493.4,121.1 L493.5,124.3 L493.6,127.0 L493.7,129.2 L493.9,131.0 L494.0,132.5 L494.1,133.8 L494.2,134.9 L494.3,135.8 L494.4,136.5 L494.6,137.2 L494.7,137.7 L494.8,138.2 L494.9,138.5 L495.0,138.9 L495.1,139.2 L495.3,139.4 L495.4,139.6 L495.5,139.8 L495.6,140.0 L495.7,140.2 L495.8,140.3 L496.0,140.4 L496.1,140.5 L496.2,140.6 L496.3,140.7 L496.4,140.8 L496.5,140.9 L496.7,141.0 L496.8,141.1 L496.9,141.1 L497.0,141.2 L497.1,141.3 L497.2,141.3 L497.4,141.4 L497.5,141.4 L497.6,141.5 L497.7,141.6 L497.8,141.6 L497.9,141.7 L498.0,141.7 L498.2,141.8 L498.3,141.8 L498.4,141.9 L498.5,141.9 L498.6,142.0 L498.7,142.0 L498.9,142.0 L499.0,142.1 L499.1,142.1 L499.2,142.2 L499.3,142.2 L499.4,142.3 L499.6,142.3 L499.7,142.3 L499.8,142.4 L499.9,142.4 L500.0,142.4 L500.1,142.5 L500.3,142.5 L500.4,142.6 L500.5,142.6 L500.6,142.6 L500.7,142.7 L500.8,142.7 L501.0,142.7 L501.1,142.8 L501.2,142.8 L501.3,142.8 L501.4,142.8 L501.5,142.9 L501.7,142.9 L501.8,142.9 L501.9,143.0 L502.0,143.0 L502.1,143.0 L502.2,143.0 L502.3,143.1 L502.5,143.1 L502.6,143.1 L502.7,143.1 L502.8,143.2 L502.9,143.2 L503.0,143.2 L503.2,143.2 L503.3,143.3 L503.4,143.3 L503.5,143.3 L503.6,143.3 L503.7,143.3 L503.9,143.4 L504.0,143.4 L504.1,143.4 L504.2,143.4 L504.3,143.4 L504.4,143.5 L504.6,143.5 L504.7,143.5 L504.8,143.5 L504.9,143.5 L505.0,143.5 L505.1,143.6 L505.3,143.6 L505.4,143.6 L505.5,143.6 L505.6,143.6 L505.7,143.6 L505.8,143.7 L506.0,143.7 L506.1,143.7 L506.2,143.7 L506.3,143.7 L506.4,143.7 L506.5,143.7 L506.7,143.8 L506.8,143.8 L506.9,143.8 L507.0,143.8 L507.1,143.8 L507.2,143.8 L507.3,143.8 L507.5,143.8 L507.6,143.9 L507.7,143.9 L507.8,143.9 L507.9,143.9 L508.0,143.9 L508.2,143.9 L508.3,143.9 L508.4,143.9 L508.5,143.9 L508.6,144.0 L508.7,144.0 L508.9,144.0 L509.0,144.0 L509.1,144.0 L509.2,144.0 L509.3,144.0 L509.4,144.0 L509.6,144.0 L509.7,144.0 L509.8,144.0 L509.9,144.1 L510.0,144.1 L510.1,144.1 L510.3,144.1 L510.4,144.1 L510.5,144.1 L510.6,144.1 L510.7,144.1 L510.8,144.1 L511.0,144.1 L511.1,144.1 L511.2,144.1 L511.3,144.1 L511.4,144.1 L511.5,144.1 L511.6,144.2 L511.8,144.2 L511.9,144.2 L512.0,144.2 L512.1,144.2 L512.2,144.2 L512.3,144.2 L512.5,144.2 L512.6,144.2 L512.7,144.2 L512.8,144.2 L512.9,144.2 L513.0,144.2 L513.2,144.2 L513.3,144.2 L513.4,144.2 L513.5,144.2 L513.6,144.2 L513.7,144.3 L513.9,144.3 L514.0,144.3 L514.1,144.3 L514.2,144.3 L514.3,144.3 L514.4,144.3 L514.6,144.3 L514.7,144.3 L514.8,144.3 L514.9,144.3 L515.0,144.3 L515.1,144.3 L515.3,144.3 L515.4,144.3 L515.5,144.3 L515.6,144.3 L515.7,144.3 L515.8,144.3 L516.0,144.3 L516.1,143.6 L516.2,142.6 L516.3,141.5 L516.4,140.3 L516.5,139.1 L516.6,137.8 L516.8,136.4 L516.9,135.1 L517.0,133.7 L517.1,132.2 L517.2,130.8 L517.3,129.3 L517.5,127.7 L517.6,126.2 L517.7,124.6 L517.8,123.1 L517.9,121.4 L518.0,119.8 L518.2,118.2 L518.3,116.5 L518.4,114.8 L518.5,113.1 L518.6,111.4 L518.7,109.7 L518.9,108.0 L519.0,106.2 L519.1,104.5 L519.2,102.7 L519.3,100.9 L519.4,99.1 L519.6,97.3 L519.7,95.4 L519.8,93.6 L519.9,91.7 L520.0,89.9 L520.1,88.0 L520.3,86.1 L520.4,84.2 L520.5,82.3 L520.6,80.4 L520.7,90.6 L520.8,99.0 L520.9,106.0 L521.1,111.8 L521.2,116.5 L521.3,120.5 L521.4,123.8 L521.5,126.5 L521.6,128.8 L521.8,130.7 L521.9,132.2 L522.0,133.5 L522.1,134.6 L522.2,135.5 L522.3,136.3 L522.5,137.0 L522.6,137.5 L522.7,138.0 L522.8,138.4 L522.9,138.7 L523.0,139.0 L523.2,139.3 L523.3,139.5 L523.4,139.7 L523.5,139.9 L523.6,140.0 L523.7,140.2 L523.9,140.3 L524.0,140.4 L524.1,140.5 L524.2,140.6 L524.3,140.7 L524.4,140.8 L524.6,140.9 L524.7,141.0 L524.8,141.0 L524.9,141.1 L525.0,141.2 L525.1,141.2 L525.2,141.3 L525.4,141.4 L525.5,141.4 L525.6,141.5 L525.7,141.5 L525.8,141.6 L525.9,141.6 L526.1,141.7 L526.2,141.7 L526.3,141.8 L526.4,141.8 L526.5,141.9 L526.6,141.9 L526.8,142.0 L526.9,142.0 L527.0,142.1 L527.1,142.1 L527.2,142.2 L527.3,142.2 L527.5,142.2 L527.6,142.3 L527.7,142.3 L527.8,142.4 L527.9,142.4 L528.0,142.4 L528.2,142.5 L528.3,142.5 L528.4,142.5 L528.5,142.6 L528.6,142.6 L528.7,142.6 L528.9,142.7 L529.0,142.7 L529.1,142.7 L529.2,142.8 L529.3,142.8 L529.4,142.8 L529.6,142.9 L529.7,142.9 L529.8,142.9 L529.9,142.9 L530.0,143.0 L530.1,143.0 L530.2,143.0 L530.4,143.1 L530.5,143.1 L530.6,143.1 L530.7,143.1 L530.8,143.2 L530.9,143.2 L531.1,143.2 L531.2,143.2 L531.3,143.2 L531.4,143.3 L531.5,143.3 L531.6,143.3 L531.8,143.3 L531.9,143.4 L532.0,143.4 L532.1,143.4 L532.2,143.4 L532.3,143.4 L532.5,143.5 L532.6,143.5 L532.7,143.5 L532.8,143.5 L532.9,143.5 L533.0,143.5 L533.2,143.6 L533.3,143.6 L533.4,143.6 L533.5,143.6 L533.6,143.6 L533.7,143.6 L533.9,143.7 L534.0,143.7 L534.1,143.7 L534.2,143.7 L534.3,143.7 L534.4,143.7 L534.6,143.7 L534.7,143.8 L534.8,143.8 L534.9,143.8 L535.0,143.8 L535.1,143.8 L535.2,143.8 L535.4,143.8 L535.5,143.8 L535.6,143.9 L535.7,143.9 L535.8,143.9 L535.9,143.9 L536.1,143.9 L536.2,143.9 L536.3,143.9 L536.4,143.9 L536.5,143.9 L536.6,143.9 L536.8,144.0 L536.9,144.0 L537.0,144.0 L537.1,144.0 L537.2,144.0 L537.3,144.0 L537.5,144.0 L537.6,144.0 L537.7,144.0 L537.8,144.0 L537.9,144.0 L538.0,144.1 L538.2,144.1 L538.3,144.1 L538.4,144.1 L538.5,144.1 L538.6,144.1 L538.7,144.1 L538.9,144.1 L539.0,144.1 L539.1,144.1 L539.2,144.1 L539.3,144.1 L539.4,144.1 L539.5,144.1 L539.7,144.2 L539.8,144.2 L539.9,144.2 L540.0,144.2 L540.1,144.2 L540.2,144.2 L540.4,144.2 L540.5,144.2 L540.6,144.2 L540.7,144.2 L540.8,144.2 L540.9,144.2 L541.1,144.2 L541.2,144.2 L541.3,144.2 L541.4,144.2 L541.5,144.2 L541.6,144.2 L541.8,144.2 L541.9,144.3 L542.0,144.3 L542.1,144.3 L542.2,144.3 L542.3,144.3 L542.5,144.3 L542.6,144.3 L542.7,144.3 L542.8,144.3 L542.9,144.3 L543.0,144.3 L543.2,144.3 L543.3,144.3 L543.4,144.3 L543.5,144.3 L543.6,144.3 L543.7,144.3 L543.9,144.3 L544.0,143.6 L544.1,142.6 L544.2,141.6 L544.3,140.4 L544.4,139.2 L544.5,138.0 L544.7,136.7 L544.8,135.4 L544.9,134.0 L545.0,132.6 L545.1,131.2 L545.2,129.8 L545.4,128.3 L545.5,126.8 L545.6,125.3 L545.7,123.8 L545.8,122.2 L545.9,120.6 L546.1,119.0 L546.2,117.4 L546.3,115.8 L546.4,114.2 L546.5,112.5 L546.6,110.9 L546.8,109.2 L546.9,107.5 L547.0,105.8 L547.1,104.1 L547.2,102.3 L547.3,100.6 L547.5,98.8 L547.6,97.1 L547.7,95.3 L547.8,93.5 L547.9,91.7 L548.0,89.9 L548.2,88.1 L548.3,86.2 L548.4,84.4 L548.5,82.5 L548.6,92.4 L548.7,100.5 L548.8,107.3 L549.0,112.9 L549.1,117.5 L549.2,121.3 L549.3,124.5 L549.4,127.1 L549.5,129.3 L549.7,131.1 L549.8,132.6 L549.9,133.9 L550.0,135.0 L550.1,135.8 L550.2,136.6 L550.4,137.2 L550.5,137.7 L550.6,138.2 L550.7,138.6 L550.8,138.9 L550.9,139.2 L551.1,139.5 L551.2,139.7 L551.3,139.9 L551.4,140.0 L551.5,140.2 L551.6,140.3 L551.8,140.4 L551.9,140.5 L552.0,140.7 L552.1,140.7 L552.2,140.8 L552.3,140.9 L552.5,141.0 L552.6,141.1 L552.7,141.1 L552.8,141.2 L552.9,141.3 L553.0,141.3 L553.2,141.4 L553.3,141.5 L553.4,141.5 L553.5,141.6 L553.6,141.6 L553.7,141.7 L553.8,141.7 L554.0,141.8 L554.1,141.8 L554.2,141.9 L554.3,141.9 L554.4,142.0 L554.5,142.0 L554.7,142.1 L554.8,142.1 L554.9,142.1 L555.0,142.2 L555.1,142.2 L555.2,142.3 L555.4,142.3 L555.5,142.3 L555.6,142.4 L555.7,142.4 L555.8,142.5 L555.9,142.5 L556.1,142.5 L556.2,142.6 L556.3,142.6 L556.4,142.6 L556.5,142.7 L556.6,142.7 L556.8,142.7 L556.9,142.8 L557.0,142.8 L557.1,142.8 L557.2,142.9 L557.3,142.9 L557.5,142.9 L557.6,142.9 L557.7,143.0 L557.8,143.0 L557.9,143.0 L558.0,143.0 L558.1,143.1 L558.3,143.1 L558.4,143.1 L558.5,143.1 L558.6,143.2 L558.7,143.2 L558.8,143.2 L559.0,143.2 L559.1,143.3 L559.2,143.3 L559.3,143.3 L559.4,143.3 L559.5,143.3 L559.7,143.4 L559.8,143.4 L559.9,143.4 L560.0,143.4 L560.1,143.4 L560.2,143.5 L560.4,143.5 L560.5,143.5 L560.6,143.5 L560.7,143.5 L560.8,143.6 L560.9,143.6 L561.1,143.6 L561.2,143.6 L561.3,143.6 L561.4,143.6 L561.5,143.7 L561.6,143.7 L561.8,143.7 L561.9,143.7 L562.0,143.7 L562.1,143.7 L562.2,143.7 L562.3,143.8 L562.5,143.8 L562.6,143.8 L562.7,143.8 L562.8,143.8 L562.9,143.8 L563.0,143.8 L563.1,143.8 L563.3,143.9 L563.4,143.9 L563.5,143.9 L563.6,143.9 L563.7,143.9 L563.8,143.9 L564.0,143.9 L564.1,143.9 L564.2,143.9 L564.3,143.9 L564.4,144.0 L564.5,144.0 L564.7,144.0 L564.8,144.0 L564.9,144.0 L565.0,144.0 L565.1,144.0 L565.2,144.0 L565.4,144.0 L565.5,144.0 L565.6,144.0 L565.7,144.1 L565.8,144.1 L565.9,144.1 L566.1,144.1 L566.2,144.1 L566.3,144.1 L566.4,144.1 L566.5,144.1 L566.6,144.1 L566.8,144.1 L566.9,144.1 L567.0,144.1 L567.1,144.1 L567.2,144.1 L567.3,144.2 L567.4,144.2 L567.6,144.2 L567.7,144.2 L567.8,144.2 L567.9,144.2 L568.0,144.2 L568.1,144.2 L568.3,144.2 L568.4,144.2 L568.5,144.2 L568.6,144.2 L568.7,144.2 L568.8,144.2 L569.0,144.2 L569.1,144.2 L569.2,144.2 L569.3,144.2 L569.4,144.2 L569.5,144.3 L569.7,144.3 L569.8,144.3 L569.9,144.3 L570.0,144.3 L570.1,144.3 L570.2,144.3 L570.4,144.3 L570.5,144.3 L570.6,144.3 L570.7,144.3 L570.8,144.3 L570.9,144.3 L571.1,144.3 L571.2,144.3 L571.3,144.3 L571.4,144.3 L571.5,144.3 L571.6,144.3 L571.8,144.3 L571.9,143.6 L572.0,142.6 L572.1,141.5 L572.2,140.4 L572.3,139.1 L572.4,137.9 L572.6,136.5 L572.7,135.2 L572.8,133.8 L572.9,132.4 L573.0,130.9 L573.1,129.5 L573.3,128.0 L573.4,126.4 L573.5,124.9 L573.6,123.3 L573.7,121.8 L573.8,120.1 L574.0,118.5 L574.1,116.9 L574.2,115.2 L574.3,113.6 L574.4,111.9 L574.5,110.2 L574.7,108.5 L574.8,106.7 L574.9,105.0 L575.0,103.2 L575.1,101.5 L575.2,99.7 L575.4,97.9 L575.5,96.1 L575.6,94.3 L575.7,92.4 L575.8,90.6 L575.9,88.8 L576.1,86.9 L576.2,85.0 L576.3,83.2 L576.4,81.3 L576.5,91.3 L576.6,99.6 L576.7,106.5 L576.9,112.2 L577.0,116.9 L577.1,120.8 L577.2,124.1 L577.3,126.7 L577.4,129.0 L577.6,130.8 L577.7,132.4 L577.8,133.7 L577.9,134.8 L578.0,135.7 L578.1,136.4 L578.3,137.1 L578.4,137.6 L578.5,138.1 L578.6,138.5 L578.7,138.8 L578.8,139.1 L579.0,139.4 L579.1,139.6 L579.2,139.8 L579.3,139.9 L579.4,140.1 L579.5,140.2 L579.7,140.4 L579.8,140.5 L579.9,140.6 L580.0,140.7 L580.1,140.8 L580.2,140.8 L580.4,140.9 L580.5,141.0 L580.6,141.1 L580.7,141.1 L580.8,141.2 L580.9,141.3 L581.1,141.3 L581.2,141.4 L581.3,141.5 L581.4,141.5 L581.5,141.6 L581.6,141.6 L581.7,141.7 L581.9,141.7 L582.0,141.8 L582.1,141.8 L582.2,141.9 L582.3,141.9 L582.4,142.0 L582.6,142.0 L582.7,142.1 L582.8,142.1 L582.9,142.1 L583.0,142.2 L583.1,142.2 L583.3,142.3 L583.4,142.3 L583.5,142.3 L583.6,142.4 L583.7,142.4 L583.8,142.5 L584.0,142.5 L584.1,142.5 L584.2,142.6 L584.3,142.6 L584.4,142.6 L584.5,142.7 L584.7,142.7 L584.8,142.7 L584.9,142.8 L585.0,142.8 L585.1,142.8 L585.2,142.9 L585.4,142.9 L585.5,142.9 L585.6,142.9 L585.7,143.0 L585.8,143.0 L585.9,143.0 L586.0,143.0 L586.2,143.1 L586.3,143.1 L586.4,143.1 L586.5,143.1 L586.6,143.2 L586.7,143.2 L586.9,143.2 L587.0,143.2 L587.1,143.3 L587.2,143.3 L587.3,143.3 L587.4,143.3 L587.6,143.3 L587.7,143.4 L587.8,143.4 L587.9,143.4 L588.0,143.4 L588.1,143.4 L588.3,143.5 L588.4,143.5 L588.5,143.5 L588.6,143.5 L588.7,143.5 L588.8,143.6 L589.0,143.6 L589.1,143.6 L589.2,143.6 L589.3,143.6 L589.4,143.6 L589.5,143.6 L589.7,143.7 L589.8,143.7 L589.9,143.7 L590.0,143.7 L590.1,143.7 L590.2,143.7 L590.4,143.7 L590.5,143.8 L590.6,143.8 L590.7,143.8 L590.8,143.8 L590.9,143.8 L591.0,143.8 L591.2,143.8 L591.3,143.8 L591.4,143.9 L591.5,143.9 L591.6,143.9 L591.7,143.9 L591.9,143.9 L592.0,143.9 L592.1,143.9 L592.2,143.9 L592.3,143.9 L592.4,144.0 L592.6,144.0 L592.7,144.0 L592.8,144.0 L592.9,144.0 L593.0,144.0 L593.1,144.0 L593.3,144.0 L593.4,144.0 L593.5,144.0 L593.6,144.0 L593.7,144.1 L593.8,144.1 L594.0,144.1 L594.1,144.1 L594.2,144.1 L594.3,144.1 L594.4,144.1 L594.5,144.1 L594.7,144.1 L594.8,144.1 L594.9,144.1 L595.0,144.1 L595.1,144.1 L595.2,144.1 L595.3,144.2 L595.5,144.2 L595.6,144.2 L595.7,144.2 L595.8,144.2 L595.9,144.2 L596.0,144.2 L596.2,144.2 L596.3,144.2 L596.4,144.2 L596.5,144.2 L596.6,144.2 L596.7,144.2 L596.9,144.2 L597.0,144.2 L597.1,144.2 L597.2,144.2 L597.3,144.2 L597.4,144.2 L597.6,144.3 L597.7,144.3 L597.8,144.3 L597.9,144.3 L598.0,144.3 L598.1,144.3 L598.3,144.3 L598.4,144.3 L598.5,144.3 L598.6,144.3 L598.7,144.3 L598.8,144.3 L599.0,144.3 L599.1,144.3 L599.2,144.3 L599.3,144.3 L599.4,144.3 L599.5,144.3 L599.7,144.3 L599.8,143.6 L599.9,142.6 L600.0,141.5 L600.1,140.3 L600.2,139.1 L600.3,137.8 L600.5,136.4 L600.6,135.1 L600.7,133.7 L600.8,132.2 L600.9,130.8 L601.0,129.3 L601.2,127.7 L601.3,126.2 L601.4,124.6 L601.5,123.0 L601.6,121.4 L601.7,119.8 L601.9,118.2 L602.0,116.5 L602.1,114.8 L602.2,113.1 L602.3,111.4 L602.4,109.7 L602.6,108.0 L602.7,106.2 L602.8,104.5 L602.9,102.7 L603.0,100.9 L603.1,99.1 L603.3,97.3 L603.4,95.4 L603.5,93.6 L603.6,91.7 L603.7,89.9 L603.8,88.0 L604.0,86.1 L604.1,84.2 L604.2,82.3 L604.3,80.4 L604.4,90.6 L604.5,99.0 L604.6,106.0 L604.8,111.8 L604.9,116.5 L605.0,120.5 L605.1,123.8 L605.2,126.5 L605.3,128.8 L605.5,130.7 L605.6,132.2 L605.7,133.5 L605.8,134.6 L605.9,135.5 L606.0,136.3 L606.2,137.0 L606.3,137.5 L606.4,138.0 L606.5,138.4 L606.6,138.7 L606.7,139.0 L606.9,139.3 L607.0,139.5 L607.1,139.7 L607.2,139.9 L607.3,140.0 L607.4,140.2 L607.6,140.3 L607.7,140.4 L607.8,140.5 L607.9,140.6 L608.0,140.7 L608.1,140.8 L608.3,140.9 L608.4,141.0 L608.5,141.0 L608.6,141.1 L608.7,141.2 L608.8,141.2 L609.0,141.3 L609.1,141.4 L609.2,141.4 L609.3,141.5 L609.4,141.5 L609.5,141.6 L609.6,141.6 L609.8,141.7 L609.9,141.7 L610.0,141.8 L610.1,141.8 L610.2,141.9 L610.3,141.9 L610.5,142.0 L610.6,142.0 L610.7,142.1 L610.8,142.1 L610.9,142.2 L611.0,142.2 L611.2,142.2 L611.3,142.3 L611.4,142.3 L611.5,142.4 L611.6,142.4 L611.7,142.4 L611.9,142.5 L612.0,142.5 L612.1,142.5 L612.2,142.6 L612.3,142.6 L612.4,142.6 L612.6,142.7 L612.7,142.7 L612.8,142.7 L612.9,142.8 L613.0,142.8 L613.1,142.8 L613.3,142.9 L613.4,142.9 L613.5,142.9 L613.6,142.9 L613.7,143.0 L613.8,143.0 L613.9,143.0 L614.1,143.1 L614.2,143.1 L614.3,143.1 L614.4,143.1 L614.5,143.2 L614.6,143.2 L614.8,143.2 L614.9,143.2 L615.0,143.2 L615.1,143.3 L615.2,143.3 L615.3,143.3 L615.5,143.3 L615.6,143.4 L615.7,143.4 L615.8,143.4 L615.9,143.4 L616.0,143.4 L616.2,143.5 L616.3,143.5 L616.4,143.5 L616.5,143.5 L616.6,143.5 L616.7,143.5 L616.9,143.6 L617.0,143.6 L617.1,143.6 L617.2,143.6 L617.3,143.6 L617.4,143.6 L617.6,143.7 L617.7,143.7 L617.8,143.7 L617.9,143.7 L618.0,143.7 L618.1,143.7 L618.2,143.7 L618.4,143.8 L618.5,143.8 L618.6,143.8 L618.7,143.8 L618.8,143.8 L618.9,143.8 L619.1,143.8 L619.2,143.8 L619.3,143.9 L619.4,143.9 L619.5,143.9 L619.6,143.9 L619.8,143.9 L619.9,143.9 L620.0,143.9 L620.1,143.9 L620.2,143.9 L620.3,143.9 L620.5,144.0 L620.6,144.0 L620.7,144.0 L620.8,144.0 L620.9,144.0 L621.0,144.0 L621.2,144.0 L621.3,144.0 L621.4,144.0 L621.5,144.0 L621.6,144.0 L621.7,144.1 L621.9,144.1 L622.0,144.1 L622.1,144.1 L622.2,144.1 L622.3,144.1 L622.4,144.1 L622.6,144.1 L622.7,144.1 L622.8,144.1 L622.9,144.1" fill="none" stroke="#3528cc" stroke-width="1.6" stroke-linejoin="round" stroke-linecap="round" />
<path d="M427.6,144.5 L427.7,144.5 L427.8,144.5 L427.9,144.5 L428.1,144.5 L428.2,144.5 L428.3,144.5 L428.4,144.5 L428.5,144.5 L428.6,144.5 L428.8,144.5 L428.9,144.5 L429.0,144.5 L429.1,144.5 L429.2,144.5 L429.3,144.5 L429.5,144.5 L429.6,144.5 L429.7,144.5 L429.8,144.5 L429.9,144.5 L430.0,144.5 L430.2,144.5 L430.3,144.5 L430.4,144.5 L430.5,144.5 L430.6,144.5 L430.7,144.5 L430.9,144.5 L431.0,144.5 L431.1,144.5 L431.2,144.5 L431.3,144.5 L431.4,144.5 L431.6,144.5 L431.7,144.5 L431.8,144.5 L431.9,144.5 L432.0,144.5 L432.1,144.5 L432.2,144.5 L432.4,143.9 L432.5,143.2 L432.6,142.4 L432.7,141.5 L432.8,140.6 L432.9,139.6 L433.1,138.6 L433.2,137.6 L433.3,136.5 L433.4,135.4 L433.5,134.3 L433.6,133.2 L433.8,132.1 L433.9,130.9 L434.0,129.8 L434.1,128.6 L434.2,127.4 L434.3,126.2 L434.5,124.9 L434.6,123.7 L434.7,122.4 L434.8,121.2 L434.9,119.9 L435.0,118.6 L435.2,117.3 L435.3,116.0 L435.4,114.7 L435.5,113.3 L435.6,112.0 L435.7,110.7 L435.9,109.3 L436.0,107.9 L436.1,106.6 L436.2,105.2 L436.3,103.8 L436.4,102.4 L436.6,101.0 L436.7,99.6 L436.8,98.1 L436.9,96.7 L437.0,97.1 L437.1,97.5 L437.2,97.9 L437.4,98.3 L437.5,98.7 L437.6,99.1 L437.7,99.5 L437.8,99.9 L437.9,100.3 L438.1,100.7 L438.2,101.1 L438.3,101.5 L438.4,101.9 L438.5,102.2 L438.6,102.6 L438.8,103.0 L438.9,103.4 L439.0,103.7 L439.1,104.1 L439.2,104.5 L439.3,104.8 L439.5,105.2 L439.6,105.6 L439.7,105.9 L439.8,106.3 L439.9,106.6 L440.0,107.0 L440.2,107.3 L440.3,107.7 L440.4,108.0 L440.5,108.4 L440.6,108.7 L440.7,109.0 L440.9,109.4 L441.0,109.7 L441.1,110.1 L441.2,110.4 L441.3,110.7 L441.4,111.1 L441.6,111.4 L441.7,111.7 L441.8,112.0 L441.9,112.3 L442.0,112.7 L442.1,113.0 L442.2,113.3 L442.4,113.6 L442.5,113.9 L442.6,114.2 L442.7,114.6 L442.8,114.9 L442.9,115.2 L443.1,115.5 L443.2,115.8 L443.3,116.1 L443.4,116.4 L443.5,116.7 L443.6,117.0 L443.8,117.3 L443.9,117.6 L444.0,117.8 L444.1,118.1 L444.2,118.4 L444.3,118.7 L444.5,119.0 L444.6,119.3 L444.7,119.6 L444.8,119.8 L444.9,120.1 L445.0,120.4 L445.2,120.7 L445.3,120.9 L445.4,121.2 L445.5,121.5 L445.6,121.8 L445.7,122.0 L445.9,122.3 L446.0,122.6 L446.1,122.8 L446.2,123.1 L446.3,123.4 L446.4,123.6 L446.5,123.9 L446.7,124.1 L446.8,124.4 L446.9,124.6 L447.0,124.9 L447.1,125.2 L447.2,125.4 L447.4,125.7 L447.5,125.9 L447.6,126.1 L447.7,126.4 L447.8,126.6 L447.9,126.9 L448.1,127.1 L448.2,127.4 L448.3,127.6 L448.4,127.8 L448.5,128.1 L448.6,128.3 L448.8,128.6 L448.9,128.8 L449.0,129.0 L449.1,129.3 L449.2,129.5 L449.3,129.7 L449.5,129.9 L449.6,130.2 L449.7,130.4 L449.8,130.6 L449.9,130.8 L450.0,131.1 L450.2,131.3 L450.3,131.5 L450.4,131.7 L450.5,131.9 L450.6,132.2 L450.7,132.4 L450.9,132.6 L451.0,132.8 L451.1,133.0 L451.2,133.2 L451.3,133.4 L451.4,133.7 L451.5,133.9 L451.7,134.1 L451.8,134.3 L451.9,134.5 L452.0,134.7 L452.1,134.9 L452.2,135.1 L452.4,135.3 L452.5,135.5 L452.6,135.7 L452.7,135.9 L452.8,136.1 L452.9,136.3 L453.1,136.5 L453.2,136.7 L453.3,136.9 L453.4,137.1 L453.5,137.3 L453.6,137.5 L453.8,137.7 L453.9,137.8 L454.0,138.0 L454.1,138.2 L454.2,138.4 L454.3,138.6 L454.5,138.8 L454.6,139.0 L454.7,139.2 L454.8,139.3 L454.9,139.5 L455.0,139.7 L455.2,139.9 L455.3,140.1 L455.4,140.2 L455.5,140.4 L455.6,140.6 L455.7,140.8 L455.8,141.0 L456.0,141.1 L456.1,141.3 L456.2,141.5 L456.3,141.7 L456.4,141.8 L456.5,142.0 L456.7,142.2 L456.8,142.3 L456.9,142.5 L457.0,142.7 L457.1,142.9 L457.2,143.0 L457.4,143.2 L457.5,143.4 L457.6,143.5 L457.7,143.7 L457.8,143.8 L457.9,144.0 L458.1,144.2 L458.2,144.3 L458.3,144.5 L458.4,144.5 L458.5,144.5 L458.6,144.5 L458.8,144.5 L458.9,144.5 L459.0,144.5 L459.1,144.5 L459.2,144.5 L459.3,144.5 L459.5,144.5 L459.6,144.5 L459.7,144.5 L459.8,144.5 L459.9,144.5 L460.0,144.5 L460.2,144.5 L460.3,144.0 L460.4,143.3 L460.5,142.6 L460.6,141.8 L460.7,141.0 L460.8,140.1 L461.0,139.2 L461.1,138.3 L461.2,137.4 L461.3,136.4 L461.4,135.4 L461.5,134.4 L461.7,133.4 L461.8,132.4 L461.9,131.3 L462.0,130.3 L462.1,129.2 L462.2,128.1 L462.4,127.0 L462.5,125.9 L462.6,124.8 L462.7,123.7 L462.8,122.5 L462.9,121.4 L463.1,120.2 L463.2,119.1 L463.3,117.9 L463.4,116.7 L463.5,115.5 L463.6,114.3 L463.8,113.1 L463.9,111.9 L464.0,110.6 L464.1,109.4 L464.2,108.1 L464.3,106.9 L464.5,105.6 L464.6,104.4 L464.7,103.1 L464.8,101.8 L464.9,102.2 L465.0,102.6 L465.1,102.9 L465.3,103.3 L465.4,103.6 L465.5,104.0 L465.6,104.3 L465.7,104.7 L465.8,105.0 L466.0,105.4 L466.1,105.7 L466.2,106.1 L466.3,106.4 L466.4,106.8 L466.5,107.1 L466.7,107.4 L466.8,107.8 L466.9,108.1 L467.0,108.4 L467.1,108.8 L467.2,109.1 L467.4,109.4 L467.5,109.7 L467.6,110.0 L467.7,110.4 L467.8,110.7 L467.9,111.0 L468.1,111.3 L468.2,111.6 L468.3,111.9 L468.4,112.2 L468.5,112.5 L468.6,112.8 L468.8,113.1 L468.9,113.4 L469.0,113.7 L469.1,114.0 L469.2,114.3 L469.3,114.6 L469.5,114.9 L469.6,115.2 L469.7,115.5 L469.8,115.8 L469.9,116.1 L470.0,116.4 L470.1,116.6 L470.3,116.9 L470.4,117.2 L470.5,117.5 L470.6,117.8 L470.7,118.0 L470.8,118.3 L471.0,118.6 L471.1,118.9 L471.2,119.1 L471.3,119.4 L471.4,119.7 L471.5,119.9 L471.7,120.2 L471.8,120.4 L471.9,120.7 L472.0,121.0 L472.1,121.2 L472.2,121.5 L472.4,121.7 L472.5,122.0 L472.6,122.2 L472.7,122.5 L472.8,122.7 L472.9,123.0 L473.1,123.2 L473.2,123.5 L473.3,123.7 L473.4,124.0 L473.5,124.2 L473.6,124.4 L473.8,124.7 L473.9,124.9 L474.0,125.2 L474.1,125.4 L474.2,125.6 L474.3,125.9 L474.4,126.1 L474.6,126.3 L474.7,126.5 L474.8,126.8 L474.9,127.0 L475.0,127.2 L475.1,127.4 L475.3,127.7 L475.4,127.9 L475.5,128.1 L475.6,128.3 L475.7,128.6 L475.8,128.8 L476.0,129.0 L476.1,129.2 L476.2,129.4 L476.3,129.6 L476.4,129.8 L476.5,130.1 L476.7,130.3 L476.8,130.5 L476.9,130.7 L477.0,130.9 L477.1,131.1 L477.2,131.3 L477.4,131.5 L477.5,131.7 L477.6,131.9 L477.7,132.1 L477.8,132.3 L477.9,132.5 L478.1,132.7 L478.2,132.9 L478.3,133.1 L478.4,133.3 L478.5,133.5 L478.6,133.7 L478.8,133.9 L478.9,134.1 L479.0,134.2 L479.1,134.4 L479.2,134.6 L479.3,134.8 L479.4,135.0 L479.6,135.2 L479.7,135.4 L479.8,135.6 L479.9,135.7 L480.0,135.9 L480.1,136.1 L480.3,136.3 L480.4,136.5 L480.5,136.6 L480.6,136.8 L480.7,137.0 L480.8,137.2 L481.0,137.4 L481.1,137.5 L481.2,137.7 L481.3,137.9 L481.4,138.0 L481.5,138.2 L481.7,138.4 L481.8,138.6 L481.9,138.7 L482.0,138.9 L482.1,139.1 L482.2,139.2 L482.4,139.4 L482.5,139.6 L482.6,139.7 L482.7,139.9 L482.8,140.1 L482.9,140.2 L483.1,140.4 L483.2,140.5 L483.3,140.7 L483.4,140.9 L483.5,141.0 L483.6,141.2 L483.7,141.3 L483.9,141.5 L484.0,141.6 L484.1,141.8 L484.2,142.0 L484.3,142.1 L484.4,142.3 L484.6,142.4 L484.7,142.6 L484.8,142.7 L484.9,142.9 L485.0,143.0 L485.1,143.2 L485.3,143.3 L485.4,143.5 L485.5,143.6 L485.6,143.8 L485.7,143.9 L485.8,144.1 L486.0,144.2 L486.1,144.4 L486.2,144.5 L486.3,144.5 L486.4,144.5 L486.5,144.5 L486.7,144.5 L486.8,144.5 L486.9,144.5 L487.0,144.5 L487.1,144.5 L487.2,144.5 L487.4,144.5 L487.5,144.5 L487.6,144.5 L487.7,144.5 L487.8,144.5 L487.9,144.5 L488.1,144.5 L488.2,144.0 L488.3,143.4 L488.4,142.7 L488.5,141.9 L488.6,141.1 L488.7,140.3 L488.9,139.4 L489.0,138.6 L489.1,137.7 L489.2,136.7 L489.3,135.8 L489.4,134.8 L489.6,133.9 L489.7,132.9 L489.8,131.9 L489.9,130.9 L490.0,129.8 L490.1,128.8 L490.3,127.7 L490.4,126.7 L490.5,125.6 L490.6,124.5 L490.7,123.4 L490.8,122.3 L491.0,121.2 L491.1,120.1 L491.2,118.9 L491.3,117.8 L491.4,116.7 L491.5,115.5 L491.7,114.3 L491.8,113.2 L491.9,112.0 L492.0,110.8 L492.1,109.6 L492.2,108.4 L492.4,107.2 L492.5,106.0 L492.6,104.8 L492.7,103.5 L492.8,103.9 L492.9,104.2 L493.0,104.6 L493.2,104.9 L493.3,105.3 L493.4,105.6 L493.5,106.0 L493.6,106.3 L493.7,106.6 L493.9,107.0 L494.0,107.3 L494.1,107.6 L494.2,107.9 L494.3,108.3 L494.4,108.6 L494.6,108.9 L494.7,109.2 L494.8,109.6 L494.9,109.9 L495.0,110.2 L495.1,110.5 L495.3,110.8 L495.4,111.1 L495.5,111.4 L495.6,111.7 L495.7,112.0 L495.8,112.3 L496.0,112.6 L496.1,112.9 L496.2,113.2 L496.3,113.5 L496.4,113.8 L496.5,114.1 L496.7,114.4 L496.8,114.7 L496.9,115.0 L497.0,115.3 L497.1,115.5 L497.2,115.8 L497.4,116.1 L497.5,116.4 L497.6,116.7 L497.7,116.9 L497.8,117.2 L497.9,117.5 L498.0,117.8 L498.2,118.0 L498.3,118.3 L498.4,118.6 L498.5,118.8 L498.6,119.1 L498.7,119.4 L498.9,119.6 L499.0,119.9 L499.1,120.1 L499.2,120.4 L499.3,120.6 L499.4,120.9 L499.6,121.2 L499.7,121.4 L499.8,121.7 L499.9,121.9 L500.0,122.1 L500.1,122.4 L500.3,122.6 L500.4,122.9 L500.5,123.1 L500.6,123.4 L500.7,123.6 L500.8,123.8 L501.0,124.1 L501.1,124.3 L501.2,124.5 L501.3,124.8 L501.4,125.0 L501.5,125.2 L501.7,125.5 L501.8,125.7 L501.9,125.9 L502.0,126.2 L502.1,126.4 L502.2,126.6 L502.3,126.8 L502.5,127.0 L502.6,127.3 L502.7,127.5 L502.8,127.7 L502.9,127.9 L503.0,128.1 L503.2,128.3 L503.3,128.6 L503.4,128.8 L503.5,129.0 L503.6,129.2 L503.7,129.4 L503.9,129.6 L504.0,129.8 L504.1,130.0 L504.2,130.2 L504.3,130.4 L504.4,130.6 L504.6,130.8 L504.7,131.0 L504.8,131.2 L504.9,131.4 L505.0,131.6 L505.1,131.8 L505.3,132.0 L505.4,132.2 L505.5,132.4 L505.6,132.6 L505.7,132.8 L505.8,133.0 L506.0,133.2 L506.1,133.4 L506.2,133.6 L506.3,133.7 L506.4,133.9 L506.5,134.1 L506.7,134.3 L506.8,134.5 L506.9,134.7 L507.0,134.8 L507.1,135.0 L507.2,135.2 L507.3,135.4 L507.5,135.6 L507.6,135.7 L507.7,135.9 L507.8,136.1 L507.9,136.3 L508.0,136.4 L508.2,136.6 L508.3,136.8 L508.4,137.0 L508.5,137.1 L508.6,137.3 L508.7,137.5 L508.9,137.6 L509.0,137.8 L509.1,138.0 L509.2,138.1 L509.3,138.3 L509.4,138.5 L509.6,138.6 L509.7,138.8 L509.8,139.0 L509.9,139.1 L510.0,139.3 L510.1,139.4 L510.3,139.6 L510.4,139.8 L510.5,139.9 L510.6,140.1 L510.7,140.2 L510.8,140.4 L511.0,140.5 L511.1,140.7 L511.2,140.9 L511.3,141.0 L511.4,141.2 L511.5,141.3 L511.6,141.5 L511.8,141.6 L511.9,141.8 L512.0,141.9 L512.1,142.1 L512.2,142.2 L512.3,142.4 L512.5,142.5 L512.6,142.7 L512.7,142.8 L512.8,142.9 L512.9,143.1 L513.0,143.2 L513.2,143.4 L513.3,143.5 L513.4,143.7 L513.5,143.8 L513.6,143.9 L513.7,144.1 L513.9,144.2 L514.0,144.4 L514.1,144.5 L514.2,144.5 L514.3,144.5 L514.4,144.5 L514.6,144.5 L514.7,144.5 L514.8,144.5 L514.9,144.5 L515.0,144.5 L515.1,144.5 L515.3,144.5 L515.4,144.5 L515.5,144.5 L515.6,144.5 L515.7,144.5 L515.8,144.5 L516.0,144.5 L516.1,144.0 L516.2,143.4 L516.3,142.7 L516.4,142.0 L516.5,141.2 L516.6,140.4 L516.8,139.5 L516.9,138.7 L517.0,137.8 L517.1,136.9 L517.2,136.0 L517.3,135.0 L517.5,134.1 L517.6,133.1 L517.7,132.1 L517.8,131.1 L517.9,130.1 L518.0,129.1 L518.2,128.1 L518.3,127.0 L518.4,126.0 L518.5,124.9 L518.6,123.9 L518.7,122.8 L518.9,121.7 L519.0,120.6 L519.1,119.5 L519.2,118.4 L519.3,117.2 L519.4,116.1 L519.6,115.0 L519.7,113.8 L519.8,112.7 L519.9,111.5 L520.0,110.3 L520.1,109.2 L520.3,108.0 L520.4,106.8 L520.5,105.6 L520.6,104.4 L520.7,104.7 L520.8,105.1 L520.9,105.4 L521.1,105.8 L521.2,106.1 L521.3,106.4 L521.4,106.8 L521.5,107.1 L521.6,107.4 L521.8,107.7 L521.9,108.1 L522.0,108.4 L522.1,108.7 L522.2,109.0 L522.3,109.3 L522.5,109.7 L522.6,110.0 L522.7,110.3 L522.8,110.6 L522.9,110.9 L523.0,111.2 L523.2,111.5 L523.3,111.8 L523.4,112.1 L523.5,112.4 L523.6,112.7 L523.7,113.0 L523.9,113.3 L524.0,113.6 L524.1,113.9 L524.2,114.2 L524.3,114.5 L524.4,114.7 L524.6,115.0 L524.7,115.3 L524.8,115.6 L524.9,115.9 L525.0,116.2 L525.1,116.4 L525.2,116.7 L525.4,117.0 L525.5,117.2 L525.6,117.5 L525.7,117.8 L525.8,118.1 L525.9,118.3 L526.1,118.6 L526.2,118.8 L526.3,119.1 L526.4,119.4 L526.5,119.6 L526.6,119.9 L526.8,120.1 L526.9,120.4 L527.0,120.6 L527.1,120.9 L527.2,121.1 L527.3,121.4 L527.5,121.6 L527.6,121.9 L527.7,122.1 L527.8,122.4 L527.9,122.6 L528.0,122.9 L528.2,123.1 L528.3,123.3 L528.4,123.6 L528.5,123.8 L528.6,124.0 L528.7,124.3 L528.9,124.5 L529.0,124.7 L529.1,125.0 L529.2,125.2 L529.3,125.4 L529.4,125.6 L529.6,125.9 L529.7,126.1 L529.8,126.3 L529.9,126.5 L530.0,126.8 L530.1,127.0 L530.2,127.2 L530.4,127.4 L530.5,127.6 L530.6,127.8 L530.7,128.0 L530.8,128.3 L530.9,128.5 L531.1,128.7 L531.2,128.9 L531.3,129.1 L531.4,129.3 L531.5,129.5 L531.6,129.7 L531.8,129.9 L531.9,130.1 L532.0,130.3 L532.1,130.5 L532.2,130.7 L532.3,130.9 L532.5,131.1 L532.6,131.3 L532.7,131.5 L532.8,131.7 L532.9,131.9 L533.0,132.1 L533.2,132.3 L533.3,132.5 L533.4,132.7 L533.5,132.8 L533.6,133.0 L533.7,133.2 L533.9,133.4 L534.0,133.6 L534.1,133.8 L534.2,134.0 L534.3,134.1 L534.4,134.3 L534.6,134.5 L534.7,134.7 L534.8,134.9 L534.9,135.0 L535.0,135.2 L535.1,135.4 L535.2,135.6 L535.4,135.7 L535.5,135.9 L535.6,136.1 L535.7,136.3 L535.8,136.4 L535.9,136.6 L536.1,136.8 L536.2,136.9 L536.3,137.1 L536.4,137.3 L536.5,137.4 L536.6,137.6 L536.8,137.8 L536.9,137.9 L537.0,138.1 L537.1,138.3 L537.2,138.4 L537.3,138.6 L537.5,138.8 L537.6,138.9 L537.7,139.1 L537.8,139.2 L537.9,139.4 L538.0,139.5 L538.2,139.7 L538.3,139.9 L538.4,140.0 L538.5,140.2 L538.6,140.3 L538.7,140.5 L538.9,140.6 L539.0,140.8 L539.1,140.9 L539.2,141.1 L539.3,141.2 L539.4,141.4 L539.5,141.5 L539.7,141.7 L539.8,141.8 L539.9,142.0 L540.0,142.1 L540.1,142.3 L540.2,142.4 L540.4,142.5 L540.5,142.7 L540.6,142.8 L540.7,143.0 L540.8,143.1 L540.9,143.3 L541.1,143.4 L541.2,143.5 L541.3,143.7 L541.4,143.8 L541.5,144.0 L541.6,144.1 L541.8,144.2 L541.9,144.4 L542.0,144.5 L542.1,144.5 L542.2,144.5 L542.3,144.5 L542.5,144.5 L542.6,144.5 L542.7,144.5 L542.8,144.5 L542.9,144.5 L543.0,144.5 L543.2,144.5 L543.3,144.5 L543.4,144.5 L543.5,144.5 L543.6,144.5 L543.7,144.5 L543.9,144.5 L544.0,144.0 L544.1,143.4 L544.2,142.7 L544.3,142.0 L544.4,141.3 L544.5,140.5 L544.7,139.7 L544.8,138.8 L544.9,137.9 L545.0,137.1 L545.1,136.2 L545.2,135.2 L545.4,134.3 L545.5,133.4 L545.6,132.4 L545.7,131.4 L545.8,130.4 L545.9,129.4 L546.1,128.4 L546.2,127.4 L546.3,126.4 L546.4,125.3 L546.5,124.3 L546.6,123.2 L546.8,122.2 L546.9,121.1 L547.0,120.0 L547.1,118.9 L547.2,117.8 L547.3,116.7 L547.5,115.6 L547.6,114.5 L547.7,113.3 L547.8,112.2 L547.9,111.1 L548.0,109.9 L548.2,108.7 L548.3,107.6 L548.4,106.4 L548.5,105.2 L548.6,105.6 L548.7,105.9 L548.8,106.2 L549.0,106.6 L549.1,106.9 L549.2,107.2 L549.3,107.6 L549.4,107.9 L549.5,108.2 L549.7,108.5 L549.8,108.8 L549.9,109.2 L550.0,109.5 L550.1,109.8 L550.2,110.1 L550.4,110.4 L550.5,110.7 L550.6,111.0 L550.7,111.3 L550.8,111.6 L550.9,111.9 L551.1,112.2 L551.2,112.5 L551.3,112.8 L551.4,113.1 L551.5,113.4 L551.6,113.7 L551.8,114.0 L551.9,114.3 L552.0,114.5 L552.1,114.8 L552.2,115.1 L552.3,115.4 L552.5,115.7 L552.6,115.9 L552.7,116.2 L552.8,116.5 L552.9,116.8 L553.0,117.0 L553.2,117.3 L553.3,117.6 L553.4,117.8 L553.5,118.1 L553.6,118.4 L553.7,118.6 L553.8,118.9 L554.0,119.1 L554.1,119.4 L554.2,119.6 L554.3,119.9 L554.4,120.2 L554.5,120.4 L554.7,120.7 L554.8,120.9 L554.9,121.1 L555.0,121.4 L555.1,121.6 L555.2,121.9 L555.4,122.1 L555.5,122.4 L555.6,122.6 L555.7,122.8 L555.8,123.1 L555.9,123.3 L556.1,123.5 L556.2,123.8 L556.3,124.0 L556.4,124.2 L556.5,124.5 L556.6,124.7 L556.8,124.9 L556.9,125.2 L557.0,125.4 L557.1,125.6 L557.2,125.8 L557.3,126.0 L557.5,126.3 L557.6,126.5 L557.7,126.7 L557.8,126.9 L557.9,127.1 L558.0,127.3 L558.1,127.6 L558.3,127.8 L558.4,128.0 L558.5,128.2 L558.6,128.4 L558.7,128.6 L558.8,128.8 L559.0,129.0 L559.1,129.2 L559.2,129.4 L559.3,129.6 L559.4,129.8 L559.5,130.0 L559.7,130.2 L559.8,130.4 L559.9,130.6 L560.0,130.8 L560.1,131.0 L560.2,131.2 L560.4,131.4 L560.5,131.6 L560.6,131.8 L560.7,132.0 L560.8,132.2 L560.9,132.4 L561.1,132.5 L561.2,132.7 L561.3,132.9 L561.4,133.1 L561.5,133.3 L561.6,133.5 L561.8,133.6 L561.9,133.8 L562.0,134.0 L562.1,134.2 L562.2,134.4 L562.3,134.5 L562.5,134.7 L562.6,134.9 L562.7,135.1 L562.8,135.2 L562.9,135.4 L563.0,135.6 L563.1,135.8 L563.3,135.9 L563.4,136.1 L563.5,136.3 L563.6,136.4 L563.7,136.6 L563.8,136.8 L564.0,136.9 L564.1,137.1 L564.2,137.3 L564.3,137.4 L564.4,137.6 L564.5,137.8 L564.7,137.9 L564.8,138.1 L564.9,138.2 L565.0,138.4 L565.1,138.6 L565.2,138.7 L565.4,138.9 L565.5,139.0 L565.6,139.2 L565.7,139.3 L565.8,139.5 L565.9,139.7 L566.1,139.8 L566.2,140.0 L566.3,140.1 L566.4,140.3 L566.5,140.4 L566.6,140.6 L566.8,140.7 L566.9,140.9 L567.0,141.0 L567.1,141.2 L567.2,141.3 L567.3,141.4 L567.4,141.6 L567.6,141.7 L567.7,141.9 L567.8,142.0 L567.9,142.2 L568.0,142.3 L568.1,142.4 L568.3,142.6 L568.4,142.7 L568.5,142.9 L568.6,143.0 L568.7,143.1 L568.8,143.3 L569.0,143.4 L569.1,143.6 L569.2,143.7 L569.3,143.8 L569.4,144.0 L569.5,144.1 L569.7,144.2 L569.8,144.4 L569.9,144.5 L570.0,144.5 L570.1,144.5 L570.2,144.5 L570.4,144.5 L570.5,144.5 L570.6,144.5 L570.7,144.5 L570.8,144.5 L570.9,144.5 L571.1,144.5 L571.2,144.5 L571.3,144.5 L571.4,144.5 L571.5,144.5 L571.6,144.5 L571.8,144.5 L571.9,144.0 L572.0,143.4 L572.1,142.8 L572.2,142.1 L572.3,141.3 L572.4,140.6 L572.6,139.8 L572.7,138.9 L572.8,138.1 L572.9,137.2 L573.0,136.3 L573.1,135.4 L573.3,134.5 L573.4,133.6 L573.5,132.7 L573.6,131.7 L573.7,130.7 L573.8,129.8 L574.0,128.8 L574.1,127.8 L574.2,126.8 L574.3,125.8 L574.4,124.7 L574.5,123.7 L574.7,122.7 L574.8,121.6 L574.9,120.5 L575.0,119.5 L575.1,118.4 L575.2,117.3 L575.4,116.2 L575.5,115.1 L575.6,114.0 L575.7,112.9 L575.8,111.8 L575.9,110.7 L576.1,109.5 L576.2,108.4 L576.3,107.2 L576.4,106.1 L576.5,106.4 L576.6,106.8 L576.7,107.1 L576.9,107.4 L577.0,107.7 L577.1,108.0 L577.2,108.4 L577.3,108.7 L577.4,109.0 L577.6,109.3 L577.7,109.6 L577.8,109.9 L577.9,110.2 L578.0,110.5 L578.1,110.8 L578.3,111.1 L578.4,111.4 L578.5,111.7 L578.6,112.0 L578.7,112.3 L578.8,112.6 L579.0,112.9 L579.1,113.2 L579.2,113.5 L579.3,113.8 L579.4,114.1 L579.5,114.3 L579.7,114.6 L579.8,114.9 L579.9,115.2 L580.0,115.5 L580.1,115.7 L580.2,116.0 L580.4,116.3 L580.5,116.6 L580.6,116.8 L580.7,117.1 L580.8,117.4 L580.9,117.6 L581.1,117.9 L581.2,118.1 L581.3,118.4 L581.4,118.7 L581.5,118.9 L581.6,119.2 L581.7,119.4 L581.9,119.7 L582.0,119.9 L582.1,120.2 L582.2,120.4 L582.3,120.7 L582.4,120.9 L582.6,121.2 L582.7,121.4 L582.8,121.7 L582.9,121.9 L583.0,122.1 L583.1,122.4 L583.3,122.6 L583.4,122.8 L583.5,123.1 L583.6,123.3 L583.7,123.5 L583.8,123.8 L584.0,124.0 L584.1,124.2 L584.2,124.5 L584.3,124.7 L584.4,124.9 L584.5,125.1 L584.7,125.4 L584.8,125.6 L584.9,125.8 L585.0,126.0 L585.1,126.2 L585.2,126.4 L585.4,126.7 L585.5,126.9 L585.6,127.1 L585.7,127.3 L585.8,127.5 L585.9,127.7 L586.0,127.9 L586.2,128.1 L586.3,128.3 L586.4,128.5 L586.5,128.7 L586.6,129.0 L586.7,129.2 L586.9,129.4 L587.0,129.6 L587.1,129.8 L587.2,130.0 L587.3,130.1 L587.4,130.3 L587.6,130.5 L587.7,130.7 L587.8,130.9 L587.9,131.1 L588.0,131.3 L588.1,131.5 L588.3,131.7 L588.4,131.9 L588.5,132.1 L588.6,132.2 L588.7,132.4 L588.8,132.6 L589.0,132.8 L589.1,133.0 L589.2,133.2 L589.3,133.3 L589.4,133.5 L589.5,133.7 L589.7,133.9 L589.8,134.1 L589.9,134.2 L590.0,134.4 L590.1,134.6 L590.2,134.8 L590.4,134.9 L590.5,135.1 L590.6,135.3 L590.7,135.4 L590.8,135.6 L590.9,135.8 L591.0,136.0 L591.2,136.1 L591.3,136.3 L591.4,136.5 L591.5,136.6 L591.6,136.8 L591.7,136.9 L591.9,137.1 L592.0,137.3 L592.1,137.4 L592.2,137.6 L592.3,137.7 L592.4,137.9 L592.6,138.1 L592.7,138.2 L592.8,138.4 L592.9,138.5 L593.0,138.7 L593.1,138.8 L593.3,139.0 L593.4,139.2 L593.5,139.3 L593.6,139.5 L593.7,139.6 L593.8,139.8 L594.0,139.9 L594.1,140.1 L594.2,140.2 L594.3,140.4 L594.4,140.5 L594.5,140.6 L594.7,140.8 L594.8,140.9 L594.9,141.1 L595.0,141.2 L595.1,141.4 L595.2,141.5 L595.3,141.7 L595.5,141.8 L595.6,141.9 L595.7,142.1 L595.8,142.2 L595.9,142.4 L596.0,142.5 L596.2,142.6 L596.3,142.8 L596.4,142.9 L596.5,143.0 L596.6,143.2 L596.7,143.3 L596.9,143.4 L597.0,143.6 L597.1,143.7 L597.2,143.8 L597.3,144.0 L597.4,144.1 L597.6,144.2 L597.7,144.4 L597.8,144.5 L597.9,144.5 L598.0,144.5 L598.1,144.5 L598.3,144.5 L598.4,144.5 L598.5,144.5 L598.6,144.5 L598.7,144.5 L598.8,144.5 L599.0,144.5 L599.1,144.5 L599.2,144.5 L599.3,144.5 L599.4,144.5 L599.5,144.5 L599.7,144.5 L599.8,144.0 L599.9,143.4 L600.0,142.8 L600.1,142.1 L600.2,141.3 L600.3,140.6 L600.5,139.8 L600.6,138.9 L600.7,138.1 L600.8,137.2 L600.9,136.3 L601.0,135.4 L601.2,134.5 L601.3,133.6 L601.4,132.7 L601.5,131.7 L601.6,130.7 L601.7,129.8 L601.9,128.8 L602.0,127.8 L602.1,126.8 L602.2,125.8 L602.3,124.7 L602.4,123.7 L602.6,122.7 L602.7,121.6 L602.8,120.5 L602.9,119.5 L603.0,118.4 L603.1,117.3 L603.3,116.2 L603.4,115.1 L603.5,114.0 L603.6,112.9 L603.7,111.8 L603.8,110.7 L604.0,109.5 L604.1,108.4 L604.2,107.2 L604.3,106.1 L604.4,106.4 L604.5,106.8 L604.6,107.1 L604.8,107.4 L604.9,107.7 L605.0,108.0 L605.1,108.4 L605.2,108.7 L605.3,109.0 L605.5,109.3 L605.6,109.6 L605.7,109.9 L605.8,110.2 L605.9,110.5 L606.0,110.8 L606.2,111.1 L606.3,111.4 L606.4,111.7 L606.5,112.0 L606.6,112.3 L606.7,112.6 L606.9,112.9 L607.0,113.2 L607.1,113.5 L607.2,113.8 L607.3,114.1 L607.4,114.3 L607.6,114.6 L607.7,114.9 L607.8,115.2 L607.9,115.5 L608.0,115.7 L608.1,116.0 L608.3,116.3 L608.4,116.6 L608.5,116.8 L608.6,117.1 L608.7,117.4 L608.8,117.6 L609.0,117.9 L609.1,118.1 L609.2,118.4 L609.3,118.7 L609.4,118.9 L609.5,119.2 L609.6,119.4 L609.8,119.7 L609.9,119.9 L610.0,120.2 L610.1,120.4 L610.2,120.7 L610.3,120.9 L610.5,121.2 L610.6,121.4 L610.7,121.7 L610.8,121.9 L610.9,122.1 L611.0,122.4 L611.2,122.6 L611.3,122.8 L611.4,123.1 L611.5,123.3 L611.6,123.5 L611.7,123.8 L611.9,124.0 L612.0,124.2 L612.1,124.5 L612.2,124.7 L612.3,124.9 L612.4,125.1 L612.6,125.4 L612.7,125.6 L612.8,125.8 L612.9,126.0 L613.0,126.2 L613.1,126.4 L613.3,126.7 L613.4,126.9 L613.5,127.1 L613.6,127.3 L613.7,127.5 L613.8,127.7 L613.9,127.9 L614.1,128.1 L614.2,128.3 L614.3,128.5 L614.4,128.7 L614.5,129.0 L614.6,129.2 L614.8,129.4 L614.9,129.6 L615.0,129.8 L615.1,130.0 L615.2,130.1 L615.3,130.3 L615.5,130.5 L615.6,130.7 L615.7,130.9 L615.8,131.1 L615.9,131.3 L616.0,131.5 L616.2,131.7 L616.3,131.9 L616.4,132.1 L616.5,132.2 L616.6,132.4 L616.7,132.6 L616.9,132.8 L617.0,133.0 L617.1,133.2 L617.2,133.3 L617.3,133.5 L617.4,133.7 L617.6,133.9 L617.7,134.1 L617.8,134.2 L617.9,134.4 L618.0,134.6 L618.1,134.8 L618.2,134.9 L618.4,135.1 L618.5,135.3 L618.6,135.4 L618.7,135.6 L618.8,135.8 L618.9,136.0 L619.1,136.1 L619.2,136.3 L619.3,136.5 L619.4,136.6 L619.5,136.8 L619.6,136.9 L619.8,137.1 L619.9,137.3 L620.0,137.4 L620.1,137.6 L620.2,137.7 L620.3,137.9 L620.5,138.1 L620.6,138.2 L620.7,138.4 L620.8,138.5 L620.9,138.7 L621.0,138.8 L621.2,139.0 L621.3,139.2 L621.4,139.3 L621.5,139.5 L621.6,139.6 L621.7,139.8 L621.9,139.9 L622.0,140.1 L622.1,140.2 L622.2,140.4 L622.3,140.5 L622.4,140.6 L622.6,140.8 L622.7,140.9 L622.8,141.1 L622.9,141.2" fill="none" stroke="#d42ad4" stroke-width="1.6" stroke-linejoin="round" stroke-linecap="round" />
<path d="M427.6,144.5 L427.7,144.5 L427.8,144.5 L427.9,144.5 L428.1,144.5 L428.2,144.5 L428.3,144.5 L428.4,144.5 L428.5,144.5 L428.6,144.5 L428.8,144.5 L428.9,144.5 L429.0,144.5 L429.1,144.5 L429.2,144.5 L429.3,144.5 L429.5,144.5 L429.6,144.5 L429.7,144.5 L429.8,144.5 L429.9,144.5 L430.0,144.5 L430.2,144.5 L430.3,144.5 L430.4,144.5 L430.5,144.5 L430.6,144.5 L430.7,144.5 L430.9,144.5 L431.0,144.5 L431.1,144.5 L431.2,144.5 L431.3,144.5 L431.4,144.5 L431.6,144.5 L431.7,144.5 L431.8,144.5 L431.9,144.5 L432.0,144.5 L432.1,144.5 L432.2,144.5 L432.4,142.6 L432.5,140.9 L432.6,139.3 L432.7,137.9 L432.8,136.5 L432.9,135.3 L433.1,134.1 L433.2,133.1 L433.3,132.1 L433.4,131.2 L433.5,130.4 L433.6,129.7 L433.8,129.0 L433.9,128.4 L434.0,127.8 L434.1,127.2 L434.2,126.7 L434.3,126.3 L434.5,125.9 L434.6,125.5 L434.7,125.1 L434.8,124.8 L434.9,124.5 L435.0,124.2 L435.2,124.0 L435.3,123.7 L435.4,123.5 L435.5,123.3 L435.6,123.1 L435.7,123.0 L435.9,122.8 L436.0,122.7 L436.1,122.5 L436.2,122.4 L436.3,122.3 L436.4,122.2 L436.6,122.1 L436.7,122.0 L436.8,122.0 L436.9,121.9 L437.0,124.5 L437.1,126.8 L437.2,128.7 L437.4,130.3 L437.5,131.7 L437.6,132.8 L437.7,133.8 L437.8,134.7 L437.9,135.4 L438.1,136.0 L438.2,136.6 L438.3,137.0 L438.4,137.4 L438.5,137.7 L438.6,138.0 L438.8,138.3 L438.9,138.5 L439.0,138.7 L439.1,138.8 L439.2,139.0 L439.3,139.1 L439.5,139.2 L439.6,139.3 L439.7,139.4 L439.8,139.5 L439.9,139.6 L440.0,139.6 L440.2,139.7 L440.3,139.8 L440.4,139.8 L440.5,139.9 L440.6,139.9 L440.7,140.0 L440.9,140.0 L441.0,140.0 L441.1,140.1 L441.2,140.1 L441.3,140.2 L441.4,140.2 L441.6,140.2 L441.7,140.3 L441.8,140.3 L441.9,140.3 L442.0,140.4 L442.1,140.4 L442.2,140.4 L442.4,140.5 L442.5,140.5 L442.6,140.5 L442.7,140.5 L442.8,140.6 L442.9,140.6 L443.1,140.6 L443.2,140.7 L443.3,140.7 L443.4,140.7 L443.5,140.7 L443.6,140.8 L443.8,140.8 L443.9,140.8 L444.0,140.8 L444.1,140.9 L444.2,140.9 L444.3,140.9 L444.5,140.9 L444.6,141.0 L444.7,141.0 L444.8,141.0 L444.9,141.0 L445.0,141.1 L445.2,141.1 L445.3,141.1 L445.4,141.1 L445.5,141.2 L445.6,141.2 L445.7,141.2 L445.9,141.2 L446.0,141.3 L446.1,141.3 L446.2,141.3 L446.3,141.3 L446.4,141.4 L446.5,141.4 L446.7,141.4 L446.8,141.4 L446.9,141.4 L447.0,141.5 L447.1,141.5 L447.2,141.5 L447.4,141.5 L447.5,141.5 L447.6,141.6 L447.7,141.6 L447.8,141.6 L447.9,141.6 L448.1,141.7 L448.2,141.7 L448.3,141.7 L448.4,141.7 L448.5,141.7 L448.6,141.8 L448.8,141.8 L448.9,141.8 L449.0,141.8 L449.1,141.8 L449.2,141.8 L449.3,141.9 L449.5,141.9 L449.6,141.9 L449.7,141.9 L449.8,141.9 L449.9,142.0 L450.0,142.0 L450.2,142.0 L450.3,142.0 L450.4,142.0 L450.5,142.0 L450.6,142.1 L450.7,142.1 L450.9,142.1 L451.0,142.1 L451.1,142.1 L451.2,142.2 L451.3,142.2 L451.4,142.2 L451.5,142.2 L451.7,142.2 L451.8,142.2 L451.9,142.3 L452.0,142.3 L452.1,142.3 L452.2,142.3 L452.4,142.3 L452.5,142.3 L452.6,142.3 L452.7,142.4 L452.8,142.4 L452.9,142.4 L453.1,142.4 L453.2,142.4 L453.3,142.4 L453.4,142.4 L453.5,142.5 L453.6,142.5 L453.8,142.5 L453.9,142.5 L454.0,142.5 L454.1,142.5 L454.2,142.5 L454.3,142.6 L454.5,142.6 L454.6,142.6 L454.7,142.6 L454.8,142.6 L454.9,142.6 L455.0,142.6 L455.2,142.7 L455.3,142.7 L455.4,142.7 L455.5,142.7 L455.6,142.7 L455.7,142.7 L455.8,142.7 L456.0,142.7 L456.1,142.8 L456.2,142.8 L456.3,142.8 L456.4,142.8 L456.5,142.8 L456.7,142.8 L456.8,142.8 L456.9,142.8 L457.0,142.9 L457.1,142.9 L457.2,142.9 L457.4,142.9 L457.5,142.9 L457.6,142.9 L457.7,142.9 L457.8,142.9 L457.9,142.9 L458.1,143.0 L458.2,143.0 L458.3,143.0 L458.4,143.0 L458.5,143.0 L458.6,143.0 L458.8,143.0 L458.9,143.0 L459.0,143.0 L459.1,143.1 L459.2,143.1 L459.3,143.1 L459.5,143.1 L459.6,143.1 L459.7,143.1 L459.8,143.1 L459.9,143.1 L460.0,143.1 L460.2,143.1 L460.3,141.2 L460.4,139.4 L460.5,137.7 L460.6,136.2 L460.7,134.7 L460.8,133.5 L461.0,132.3 L461.1,131.2 L461.2,130.2 L461.3,129.2 L461.4,128.4 L461.5,127.6 L461.7,126.9 L461.8,126.2 L461.9,125.6 L462.0,125.0 L462.1,124.5 L462.2,124.1 L462.4,123.6 L462.5,123.2 L462.6,122.9 L462.7,122.5 L462.8,122.2 L462.9,121.9 L463.1,121.7 L463.2,121.4 L463.3,121.2 L463.4,121.0 L463.5,120.8 L463.6,120.7 L463.8,120.5 L463.9,120.4 L464.0,120.2 L464.1,120.1 L464.2,120.0 L464.3,119.9 L464.5,119.8 L464.6,119.7 L464.7,119.7 L464.8,119.6 L464.9,122.4 L465.0,124.8 L465.1,126.8 L465.3,128.5 L465.4,130.0 L465.5,131.2 L465.6,132.3 L465.7,133.2 L465.8,133.9 L466.0,134.6 L466.1,135.2 L466.2,135.7 L466.3,136.1 L466.4,136.4 L466.5,136.7 L466.7,137.0 L466.8,137.3 L466.9,137.5 L467.0,137.6 L467.1,137.8 L467.2,137.9 L467.4,138.1 L467.5,138.2 L467.6,138.3 L467.7,138.4 L467.8,138.5 L467.9,138.5 L468.1,138.6 L468.2,138.7 L468.3,138.7 L468.4,138.8 L468.5,138.9 L468.6,138.9 L468.8,139.0 L468.9,139.0 L469.0,139.0 L469.1,139.1 L469.2,139.1 L469.3,139.2 L469.5,139.2 L469.6,139.3 L469.7,139.3 L469.8,139.3 L469.9,139.4 L470.0,139.4 L470.1,139.5 L470.3,139.5 L470.4,139.5 L470.5,139.6 L470.6,139.6 L470.7,139.6 L470.8,139.7 L471.0,139.7 L471.1,139.7 L471.2,139.8 L471.3,139.8 L471.4,139.8 L471.5,139.9 L471.7,139.9 L471.8,139.9 L471.9,140.0 L472.0,140.0 L472.1,140.0 L472.2,140.1 L472.4,140.1 L472.5,140.1 L472.6,140.2 L472.7,140.2 L472.8,140.2 L472.9,140.3 L473.1,140.3 L473.2,140.3 L473.3,140.3 L473.4,140.4 L473.5,140.4 L473.6,140.4 L473.8,140.5 L473.9,140.5 L474.0,140.5 L474.1,140.6 L474.2,140.6 L474.3,140.6 L474.4,140.6 L474.6,140.7 L474.7,140.7 L474.8,140.7 L474.9,140.7 L475.0,140.8 L475.1,140.8 L475.3,140.8 L475.4,140.8 L475.5,140.9 L475.6,140.9 L475.7,140.9 L475.8,141.0 L476.0,141.0 L476.1,141.0 L476.2,141.0 L476.3,141.1 L476.4,141.1 L476.5,141.1 L476.7,141.1 L476.8,141.1 L476.9,141.2 L477.0,141.2 L477.1,141.2 L477.2,141.2 L477.4,141.3 L477.5,141.3 L477.6,141.3 L477.7,141.3 L477.8,141.4 L477.9,141.4 L478.1,141.4 L478.2,141.4 L478.3,141.4 L478.4,141.5 L478.5,141.5 L478.6,141.5 L478.8,141.5 L478.9,141.6 L479.0,141.6 L479.1,141.6 L479.2,141.6 L479.3,141.6 L479.4,141.7 L479.6,141.7 L479.7,141.7 L479.8,141.7 L479.9,141.7 L480.0,141.8 L480.1,141.8 L480.3,141.8 L480.4,141.8 L480.5,141.8 L480.6,141.9 L480.7,141.9 L480.8,141.9 L481.0,141.9 L481.1,141.9 L481.2,141.9 L481.3,142.0 L481.4,142.0 L481.5,142.0 L481.7,142.0 L481.8,142.0 L481.9,142.1 L482.0,142.1 L482.1,142.1 L482.2,142.1 L482.4,142.1 L482.5,142.1 L482.6,142.2 L482.7,142.2 L482.8,142.2 L482.9,142.2 L483.1,142.2 L483.2,142.2 L483.3,142.3 L483.4,142.3 L483.5,142.3 L483.6,142.3 L483.7,142.3 L483.9,142.3 L484.0,142.3 L484.1,142.4 L484.2,142.4 L484.3,142.4 L484.4,142.4 L484.6,142.4 L484.7,142.4 L484.8,142.5 L484.9,142.5 L485.0,142.5 L485.1,142.5 L485.3,142.5 L485.4,142.5 L485.5,142.5 L485.6,142.6 L485.7,142.6 L485.8,142.6 L486.0,142.6 L486.1,142.6 L486.2,142.6 L486.3,142.6 L486.4,142.6 L486.5,142.7 L486.7,142.7 L486.8,142.7 L486.9,142.7 L487.0,142.7 L487.1,142.7 L487.2,142.7 L487.4,142.8 L487.5,142.8 L487.6,142.8 L487.7,142.8 L487.8,142.8 L487.9,142.8 L488.1,142.8 L488.2,140.7 L488.3,138.8 L488.4,137.1 L488.5,135.5 L488.6,134.0 L488.7,132.6 L488.9,131.4 L489.0,130.2 L489.1,129.2 L489.2,128.2 L489.3,127.3 L489.4,126.5 L489.6,125.7 L489.7,125.0 L489.8,124.4 L489.9,123.8 L490.0,123.2 L490.1,122.7 L490.3,122.3 L490.4,121.9 L490.5,121.5 L490.6,121.1 L490.7,120.8 L490.8,120.5 L491.0,120.2 L491.1,120.0 L491.2,119.8 L491.3,119.6 L491.4,119.4 L491.5,119.2 L491.7,119.0 L491.8,118.9 L491.9,118.7 L492.0,118.6 L492.1,118.5 L492.2,118.4 L492.4,118.3 L492.5,118.2 L492.6,118.1 L492.7,118.1 L492.8,121.0 L492.9,123.5 L493.0,125.7 L493.2,127.5 L493.3,129.0 L493.4,130.3 L493.5,131.4 L493.6,132.4 L493.7,133.2 L493.9,133.9 L494.0,134.5 L494.1,135.0 L494.2,135.5 L494.3,135.8 L494.4,136.2 L494.6,136.5 L494.7,136.7 L494.8,136.9 L494.9,137.1 L495.0,137.3 L495.1,137.4 L495.3,137.6 L495.4,137.7 L495.5,137.8 L495.6,137.9 L495.7,138.0 L495.8,138.1 L496.0,138.1 L496.1,138.2 L496.2,138.3 L496.3,138.3 L496.4,138.4 L496.5,138.5 L496.7,138.5 L496.8,138.6 L496.9,138.6 L497.0,138.7 L497.1,138.7 L497.2,138.8 L497.4,138.8 L497.5,138.8 L497.6,138.9 L497.7,138.9 L497.8,139.0 L497.9,139.0 L498.0,139.1 L498.2,139.1 L498.3,139.1 L498.4,139.2 L498.5,139.2 L498.6,139.2 L498.7,139.3 L498.9,139.3 L499.0,139.4 L499.1,139.4 L499.2,139.4 L499.3,139.5 L499.4,139.5 L499.6,139.5 L499.7,139.6 L499.8,139.6 L499.9,139.6 L500.0,139.7 L500.1,139.7 L500.3,139.8 L500.4,139.8 L500.5,139.8 L500.6,139.9 L500.7,139.9 L500.8,139.9 L501.0,140.0 L501.1,140.0 L501.2,140.0 L501.3,140.0 L501.4,140.1 L501.5,140.1 L501.7,140.1 L501.8,140.2 L501.9,140.2 L502.0,140.2 L502.1,140.3 L502.2,140.3 L502.3,140.3 L502.5,140.4 L502.6,140.4 L502.7,140.4 L502.8,140.4 L502.9,140.5 L503.0,140.5 L503.2,140.5 L503.3,140.6 L503.4,140.6 L503.5,140.6 L503.6,140.6 L503.7,140.7 L503.9,140.7 L504.0,140.7 L504.1,140.7 L504.2,140.8 L504.3,140.8 L504.4,140.8 L504.6,140.9 L504.7,140.9 L504.8,140.9 L504.9,140.9 L505.0,141.0 L505.1,141.0 L505.3,141.0 L505.4,141.0 L505.5,141.1 L505.6,141.1 L505.7,141.1 L505.8,141.1 L506.0,141.2 L506.1,141.2 L506.2,141.2 L506.3,141.2 L506.4,141.2 L506.5,141.3 L506.7,141.3 L506.8,141.3 L506.9,141.3 L507.0,141.4 L507.1,141.4 L507.2,141.4 L507.3,141.4 L507.5,141.5 L507.6,141.5 L507.7,141.5 L507.8,141.5 L507.9,141.5 L508.0,141.6 L508.2,141.6 L508.3,141.6 L508.4,141.6 L508.5,141.6 L508.6,141.7 L508.7,141.7 L508.9,141.7 L509.0,141.7 L509.1,141.7 L509.2,141.8 L509.3,141.8 L509.4,141.8 L509.6,141.8 L509.7,141.8 L509.8,141.9 L509.9,141.9 L510.0,141.9 L510.1,141.9 L510.3,141.9 L510.4,141.9 L510.5,142.0 L510.6,142.0 L510.7,142.0 L510.8,142.0 L511.0,142.0 L511.1,142.1 L511.2,142.1 L511.3,142.1 L511.4,142.1 L511.5,142.1 L511.6,142.1 L511.8,142.2 L511.9,142.2 L512.0,142.2 L512.1,142.2 L512.2,142.2 L512.3,142.2 L512.5,142.3 L512.6,142.3 L512.7,142.3 L512.8,142.3 L512.9,142.3 L513.0,142.3 L513.2,142.4 L513.3,142.4 L513.4,142.4 L513.5,142.4 L513.6,142.4 L513.7,142.4 L513.9,142.4 L514.0,142.5 L514.1,142.5 L514.2,142.5 L514.3,142.5 L514.4,142.5 L514.6,142.5 L514.7,142.5 L514.8,142.6 L514.9,142.6 L515.0,142.6 L515.1,142.6 L515.3,142.6 L515.4,142.6 L515.5,142.6 L515.6,142.7 L515.7,142.7 L515.8,142.7 L516.0,142.7 L516.1,140.5 L516.2,138.5 L516.3,136.7 L516.4,135.0 L516.5,133.4 L516.6,132.0 L516.8,130.7 L516.9,129.4 L517.0,128.3 L517.1,127.3 L517.2,126.4 L517.3,125.5 L517.5,124.7 L517.6,124.0 L517.7,123.3 L517.8,122.7 L517.9,122.1 L518.0,121.6 L518.2,121.1 L518.3,120.7 L518.4,120.3 L518.5,119.9 L518.6,119.6 L518.7,119.3 L518.9,119.0 L519.0,118.7 L519.1,118.5 L519.2,118.2 L519.3,118.0 L519.4,117.9 L519.6,117.7 L519.7,117.5 L519.8,117.4 L519.9,117.3 L520.0,117.1 L520.1,117.0 L520.3,116.9 L520.4,116.8 L520.5,116.8 L520.6,116.7 L520.7,119.8 L520.8,122.4 L520.9,124.7 L521.1,126.6 L521.2,128.2 L521.3,129.6 L521.4,130.7 L521.5,131.7 L521.6,132.6 L521.8,133.3 L521.9,134.0 L522.0,134.5 L522.1,135.0 L522.2,135.4 L522.3,135.7 L522.5,136.0 L522.6,136.3 L522.7,136.5 L522.8,136.7 L522.9,136.9 L523.0,137.0 L523.2,137.2 L523.3,137.3 L523.4,137.4 L523.5,137.5 L523.6,137.6 L523.7,137.7 L523.9,137.8 L524.0,137.9 L524.1,137.9 L524.2,138.0 L524.3,138.1 L524.4,138.1 L524.6,138.2 L524.7,138.2 L524.8,138.3 L524.9,138.3 L525.0,138.4 L525.1,138.4 L525.2,138.5 L525.4,138.5 L525.5,138.6 L525.6,138.6 L525.7,138.7 L525.8,138.7 L525.9,138.7 L526.1,138.8 L526.2,138.8 L526.3,138.9 L526.4,138.9 L526.5,139.0 L526.6,139.0 L526.8,139.0 L526.9,139.1 L527.0,139.1 L527.1,139.2 L527.2,139.2 L527.3,139.2 L527.5,139.3 L527.6,139.3 L527.7,139.3 L527.8,139.4 L527.9,139.4 L528.0,139.5 L528.2,139.5 L528.3,139.5 L528.4,139.6 L528.5,139.6 L528.6,139.6 L528.7,139.7 L528.9,139.7 L529.0,139.7 L529.1,139.8 L529.2,139.8 L529.3,139.8 L529.4,139.9 L529.6,139.9 L529.7,139.9 L529.8,140.0 L529.9,140.0 L530.0,140.0 L530.1,140.1 L530.2,140.1 L530.4,140.1 L530.5,140.2 L530.6,140.2 L530.7,140.2 L530.8,140.2 L530.9,140.3 L531.1,140.3 L531.2,140.3 L531.3,140.4 L531.4,140.4 L531.5,140.4 L531.6,140.5 L531.8,140.5 L531.9,140.5 L532.0,140.5 L532.1,140.6 L532.2,140.6 L532.3,140.6 L532.5,140.7 L532.6,140.7 L532.7,140.7 L532.8,140.7 L532.9,140.8 L533.0,140.8 L533.2,140.8 L533.3,140.8 L533.4,140.9 L533.5,140.9 L533.6,140.9 L533.7,140.9 L533.9,141.0 L534.0,141.0 L534.1,141.0 L534.2,141.0 L534.3,141.1 L534.4,141.1 L534.6,141.1 L534.7,141.1 L534.8,141.2 L534.9,141.2 L535.0,141.2 L535.1,141.2 L535.2,141.3 L535.4,141.3 L535.5,141.3 L535.6,141.3 L535.7,141.3 L535.8,141.4 L535.9,141.4 L536.1,141.4 L536.2,141.4 L536.3,141.5 L536.4,141.5 L536.5,141.5 L536.6,141.5 L536.8,141.5 L536.9,141.6 L537.0,141.6 L537.1,141.6 L537.2,141.6 L537.3,141.6 L537.5,141.7 L537.6,141.7 L537.7,141.7 L537.8,141.7 L537.9,141.7 L538.0,141.8 L538.2,141.8 L538.3,141.8 L538.4,141.8 L538.5,141.8 L538.6,141.9 L538.7,141.9 L538.9,141.9 L539.0,141.9 L539.1,141.9 L539.2,142.0 L539.3,142.0 L539.4,142.0 L539.5,142.0 L539.7,142.0 L539.8,142.0 L539.9,142.1 L540.0,142.1 L540.1,142.1 L540.2,142.1 L540.4,142.1 L540.5,142.1 L540.6,142.2 L540.7,142.2 L540.8,142.2 L540.9,142.2 L541.1,142.2 L541.2,142.2 L541.3,142.3 L541.4,142.3 L541.5,142.3 L541.6,142.3 L541.8,142.3 L541.9,142.3 L542.0,142.4 L542.1,142.4 L542.2,142.4 L542.3,142.4 L542.5,142.4 L542.6,142.4 L542.7,142.4 L542.8,142.5 L542.9,142.5 L543.0,142.5 L543.2,142.5 L543.3,142.5 L543.4,142.5 L543.5,142.5 L543.6,142.6 L543.7,142.6 L543.9,142.6 L544.0,140.4 L544.1,138.4 L544.2,136.6 L544.3,134.9 L544.4,133.3 L544.5,131.9 L544.7,130.6 L544.8,129.3 L544.9,128.2 L545.0,127.2 L545.1,126.3 L545.2,125.4 L545.4,124.6 L545.5,123.9 L545.6,123.2 L545.7,122.6 L545.8,122.0 L545.9,121.5 L546.1,121.0 L546.2,120.6 L546.3,120.2 L546.4,119.8 L546.5,119.5 L546.6,119.2 L546.8,118.9 L546.9,118.6 L547.0,118.4 L547.1,118.2 L547.2,118.0 L547.3,117.8 L547.5,117.6 L547.6,117.5 L547.7,117.3 L547.8,117.2 L547.9,117.1 L548.0,117.0 L548.2,116.9 L548.3,116.8 L548.4,116.7 L548.5,116.6 L548.6,119.7 L548.7,122.3 L548.8,124.6 L549.0,126.5 L549.1,128.1 L549.2,129.5 L549.3,130.7 L549.4,131.7 L549.5,132.5 L549.7,133.3 L549.8,133.9 L549.9,134.4 L550.0,134.9 L550.1,135.3 L550.2,135.6 L550.4,135.9 L550.5,136.2 L550.6,136.4 L550.7,136.6 L550.8,136.8 L550.9,137.0 L551.1,137.1 L551.2,137.2 L551.3,137.4 L551.4,137.5 L551.5,137.6 L551.6,137.6 L551.8,137.7 L551.9,137.8 L552.0,137.9 L552.1,137.9 L552.2,138.0 L552.3,138.1 L552.5,138.1 L552.6,138.2 L552.7,138.2 L552.8,138.3 L552.9,138.3 L553.0,138.4 L553.2,138.4 L553.3,138.5 L553.4,138.5 L553.5,138.6 L553.6,138.6 L553.7,138.7 L553.8,138.7 L554.0,138.7 L554.1,138.8 L554.2,138.8 L554.3,138.9 L554.4,138.9 L554.5,138.9 L554.7,139.0 L554.8,139.0 L554.9,139.1 L555.0,139.1 L555.1,139.1 L555.2,139.2 L555.4,139.2 L555.5,139.3 L555.6,139.3 L555.7,139.3 L555.8,139.4 L555.9,139.4 L556.1,139.4 L556.2,139.5 L556.3,139.5 L556.4,139.5 L556.5,139.6 L556.6,139.6 L556.8,139.7 L556.9,139.7 L557.0,139.7 L557.1,139.8 L557.2,139.8 L557.3,139.8 L557.5,139.9 L557.6,139.9 L557.7,139.9 L557.8,140.0 L557.9,140.0 L558.0,140.0 L558.1,140.1 L558.3,140.1 L558.4,140.1 L558.5,140.1 L558.6,140.2 L558.7,140.2 L558.8,140.2 L559.0,140.3 L559.1,140.3 L559.2,140.3 L559.3,140.4 L559.4,140.4 L559.5,140.4 L559.7,140.4 L559.8,140.5 L559.9,140.5 L560.0,140.5 L560.1,140.6 L560.2,140.6 L560.4,140.6 L560.5,140.6 L560.6,140.7 L560.7,140.7 L560.8,140.7 L560.9,140.8 L561.1,140.8 L561.2,140.8 L561.3,140.8 L561.4,140.9 L561.5,140.9 L561.6,140.9 L561.8,140.9 L561.9,141.0 L562.0,141.0 L562.1,141.0 L562.2,141.0 L562.3,141.1 L562.5,141.1 L562.6,141.1 L562.7,141.1 L562.8,141.2 L562.9,141.2 L563.0,141.2 L563.1,141.2 L563.3,141.3 L563.4,141.3 L563.5,141.3 L563.6,141.3 L563.7,141.3 L563.8,141.4 L564.0,141.4 L564.1,141.4 L564.2,141.4 L564.3,141.5 L564.4,141.5 L564.5,141.5 L564.7,141.5 L564.8,141.5 L564.9,141.6 L565.0,141.6 L565.1,141.6 L565.2,141.6 L565.4,141.6 L565.5,141.7 L565.6,141.7 L565.7,141.7 L565.8,141.7 L565.9,141.7 L566.1,141.8 L566.2,141.8 L566.3,141.8 L566.4,141.8 L566.5,141.8 L566.6,141.9 L566.8,141.9 L566.9,141.9 L567.0,141.9 L567.1,141.9 L567.2,142.0 L567.3,142.0 L567.4,142.0 L567.6,142.0 L567.7,142.0 L567.8,142.0 L567.9,142.1 L568.0,142.1 L568.1,142.1 L568.3,142.1 L568.4,142.1 L568.5,142.1 L568.6,142.2 L568.7,142.2 L568.8,142.2 L569.0,142.2 L569.1,142.2 L569.2,142.2 L569.3,142.3 L569.4,142.3 L569.5,142.3 L569.7,142.3 L569.8,142.3 L569.9,142.3 L570.0,142.4 L570.1,142.4 L570.2,142.4 L570.4,142.4 L570.5,142.4 L570.6,142.4 L570.7,142.4 L570.8,142.5 L570.9,142.5 L571.1,142.5 L571.2,142.5 L571.3,142.5 L571.4,142.5 L571.5,142.5 L571.6,142.6 L571.8,142.6 L571.9,140.4 L572.0,138.4 L572.1,136.5 L572.2,134.8 L572.3,133.3 L572.4,131.9 L572.6,130.5 L572.7,129.3 L572.8,128.2 L572.9,127.2 L573.0,126.3 L573.1,125.4 L573.3,124.6 L573.4,123.9 L573.5,123.2 L573.6,122.6 L573.7,122.0 L573.8,121.5 L574.0,121.0 L574.1,120.6 L574.2,120.2 L574.3,119.8 L574.4,119.5 L574.5,119.2 L574.7,118.9 L574.8,118.6 L574.9,118.4 L575.0,118.1 L575.1,117.9 L575.2,117.8 L575.4,117.6 L575.5,117.4 L575.6,117.3 L575.7,117.2 L575.8,117.0 L575.9,116.9 L576.1,116.8 L576.2,116.8 L576.3,116.7 L576.4,116.6 L576.5,119.7 L576.6,122.3 L576.7,124.6 L576.9,126.5 L577.0,128.1 L577.1,129.5 L577.2,130.7 L577.3,131.7 L577.4,132.5 L577.6,133.2 L577.7,133.9 L577.8,134.4 L577.9,134.9 L578.0,135.3 L578.1,135.6 L578.3,135.9 L578.4,136.2 L578.5,136.4 L578.6,136.6 L578.7,136.8 L578.8,137.0 L579.0,137.1 L579.1,137.2 L579.2,137.3 L579.3,137.4 L579.4,137.5 L579.5,137.6 L579.7,137.7 L579.8,137.8 L579.9,137.9 L580.0,137.9 L580.1,138.0 L580.2,138.0 L580.4,138.1 L580.5,138.2 L580.6,138.2 L580.7,138.3 L580.8,138.3 L580.9,138.4 L581.1,138.4 L581.2,138.5 L581.3,138.5 L581.4,138.6 L581.5,138.6 L581.6,138.6 L581.7,138.7 L581.9,138.7 L582.0,138.8 L582.1,138.8 L582.2,138.9 L582.3,138.9 L582.4,138.9 L582.6,139.0 L582.7,139.0 L582.8,139.1 L582.9,139.1 L583.0,139.1 L583.1,139.2 L583.3,139.2 L583.4,139.2 L583.5,139.3 L583.6,139.3 L583.7,139.4 L583.8,139.4 L584.0,139.4 L584.1,139.5 L584.2,139.5 L584.3,139.5 L584.4,139.6 L584.5,139.6 L584.7,139.6 L584.8,139.7 L584.9,139.7 L585.0,139.7 L585.1,139.8 L585.2,139.8 L585.4,139.8 L585.5,139.9 L585.6,139.9 L585.7,139.9 L585.8,140.0 L585.9,140.0 L586.0,140.0 L586.2,140.1 L586.3,140.1 L586.4,140.1 L586.5,140.2 L586.6,140.2 L586.7,140.2 L586.9,140.3 L587.0,140.3 L587.1,140.3 L587.2,140.4 L587.3,140.4 L587.4,140.4 L587.6,140.4 L587.7,140.5 L587.8,140.5 L587.9,140.5 L588.0,140.6 L588.1,140.6 L588.3,140.6 L588.4,140.6 L588.5,140.7 L588.6,140.7 L588.7,140.7 L588.8,140.7 L589.0,140.8 L589.1,140.8 L589.2,140.8 L589.3,140.9 L589.4,140.9 L589.5,140.9 L589.7,140.9 L589.8,141.0 L589.9,141.0 L590.0,141.0 L590.1,141.0 L590.2,141.1 L590.4,141.1 L590.5,141.1 L590.6,141.1 L590.7,141.2 L590.8,141.2 L590.9,141.2 L591.0,141.2 L591.2,141.2 L591.3,141.3 L591.4,141.3 L591.5,141.3 L591.6,141.3 L591.7,141.4 L591.9,141.4 L592.0,141.4 L592.1,141.4 L592.2,141.4 L592.3,141.5 L592.4,141.5 L592.6,141.5 L592.7,141.5 L592.8,141.6 L592.9,141.6 L593.0,141.6 L593.1,141.6 L593.3,141.6 L593.4,141.7 L593.5,141.7 L593.6,141.7 L593.7,141.7 L593.8,141.7 L594.0,141.8 L594.1,141.8 L594.2,141.8 L594.3,141.8 L594.4,141.8 L594.5,141.9 L594.7,141.9 L594.8,141.9 L594.9,141.9 L595.0,141.9 L595.1,141.9 L595.2,142.0 L595.3,142.0 L595.5,142.0 L595.6,142.0 L595.7,142.0 L595.8,142.1 L595.9,142.1 L596.0,142.1 L596.2,142.1 L596.3,142.1 L596.4,142.1 L596.5,142.2 L596.6,142.2 L596.7,142.2 L596.9,142.2 L597.0,142.2 L597.1,142.2 L597.2,142.3 L597.3,142.3 L597.4,142.3 L597.6,142.3 L597.7,142.3 L597.8,142.3 L597.9,142.3 L598.0,142.4 L598.1,142.4 L598.3,142.4 L598.4,142.4 L598.5,142.4 L598.6,142.4 L598.7,142.5 L598.8,142.5 L599.0,142.5 L599.1,142.5 L599.2,142.5 L599.3,142.5 L599.4,142.5 L599.5,142.6 L599.7,142.6 L599.8,140.4 L599.9,138.4 L600.0,136.5 L600.1,134.8 L600.2,133.3 L600.3,131.9 L600.5,130.5 L600.6,129.3 L600.7,128.2 L600.8,127.2 L600.9,126.2 L601.0,125.4 L601.2,124.6 L601.3,123.9 L601.4,123.2 L601.5,122.6 L601.6,122.0 L601.7,121.5 L601.9,121.0 L602.0,120.6 L602.1,120.2 L602.2,119.8 L602.3,119.5 L602.4,119.2 L602.6,118.9 L602.7,118.6 L602.8,118.4 L602.9,118.1 L603.0,117.9 L603.1,117.8 L603.3,117.6 L603.4,117.4 L603.5,117.3 L603.6,117.2 L603.7,117.0 L603.8,116.9 L604.0,116.8 L604.1,116.7 L604.2,116.7 L604.3,116.6 L604.4,119.7 L604.5,122.3 L604.6,124.6 L604.8,126.5 L604.9,128.1 L605.0,129.5 L605.1,130.6 L605.2,131.7 L605.3,132.5 L605.5,133.2 L605.6,133.9 L605.7,134.4 L605.8,134.9 L605.9,135.3 L606.0,135.6 L606.2,135.9 L606.3,136.2 L606.4,136.4 L606.5,136.6 L606.6,136.8 L606.7,137.0 L606.9,137.1 L607.0,137.2 L607.1,137.3 L607.2,137.4 L607.3,137.5 L607.4,137.6 L607.6,137.7 L607.7,137.8 L607.8,137.9 L607.9,137.9 L608.0,138.0 L608.1,138.0 L608.3,138.1 L608.4,138.2 L608.5,138.2 L608.6,138.3 L608.7,138.3 L608.8,138.4 L609.0,138.4 L609.1,138.5 L609.2,138.5 L609.3,138.6 L609.4,138.6 L609.5,138.6 L609.6,138.7 L609.8,138.7 L609.9,138.8 L610.0,138.8 L610.1,138.9 L610.2,138.9 L610.3,138.9 L610.5,139.0 L610.6,139.0 L610.7,139.1 L610.8,139.1 L610.9,139.1 L611.0,139.2 L611.2,139.2 L611.3,139.2 L611.4,139.3 L611.5,139.3 L611.6,139.4 L611.7,139.4 L611.9,139.4 L612.0,139.5 L612.1,139.5 L612.2,139.5 L612.3,139.6 L612.4,139.6 L612.6,139.6 L612.7,139.7 L612.8,139.7 L612.9,139.7 L613.0,139.8 L613.1,139.8 L613.3,139.8 L613.4,139.9 L613.5,139.9 L613.6,139.9 L613.7,140.0 L613.8,140.0 L613.9,140.0 L614.1,140.1 L614.2,140.1 L614.3,140.1 L614.4,140.2 L614.5,140.2 L614.6,140.2 L614.8,140.3 L614.9,140.3 L615.0,140.3 L615.1,140.3 L615.2,140.4 L615.3,140.4 L615.5,140.4 L615.6,140.5 L615.7,140.5 L615.8,140.5 L615.9,140.6 L616.0,140.6 L616.2,140.6 L616.3,140.6 L616.4,140.7 L616.5,140.7 L616.6,140.7 L616.7,140.7 L616.9,140.8 L617.0,140.8 L617.1,140.8 L617.2,140.8 L617.3,140.9 L617.4,140.9 L617.6,140.9 L617.7,141.0 L617.8,141.0 L617.9,141.0 L618.0,141.0 L618.1,141.1 L618.2,141.1 L618.4,141.1 L618.5,141.1 L618.6,141.1 L618.7,141.2 L618.8,141.2 L618.9,141.2 L619.1,141.2 L619.2,141.3 L619.3,141.3 L619.4,141.3 L619.5,141.3 L619.6,141.4 L619.8,141.4 L619.9,141.4 L620.0,141.4 L620.1,141.4 L620.2,141.5 L620.3,141.5 L620.5,141.5 L620.6,141.5 L620.7,141.6 L620.8,141.6 L620.9,141.6 L621.0,141.6 L621.2,141.6 L621.3,141.7 L621.4,141.7 L621.5,141.7 L621.6,141.7 L621.7,141.7 L621.9,141.8 L622.0,141.8 L622.1,141.8 L622.2,141.8 L622.3,141.8 L622.4,141.9 L622.6,141.9 L622.7,141.9 L622.8,141.9 L622.9,141.9" fill="none" stroke="#f0a050" stroke-width="1.6" stroke-linejoin="round" stroke-linecap="round" />
<path d="M427.6,144.5 L427.7,144.5 L427.8,144.5 L427.9,144.5 L428.1,144.5 L428.2,144.5 L428.3,144.5 L428.4,144.5 L428.5,144.5 L428.6,144.5 L428.8,144.5 L428.9,144.5 L429.0,144.5 L429.1,144.5 L429.2,144.5 L429.3,144.5 L429.5,144.5 L429.6,144.5 L429.7,144.5 L429.8,144.5 L429.9,144.5 L430.0,144.5 L430.2,144.5 L430.3,144.5 L430.4,144.5 L430.5,144.5 L430.6,144.5 L430.7,144.5 L430.9,144.5 L431.0,144.5 L431.1,144.5 L431.2,144.5 L431.3,144.5 L431.4,144.5 L431.6,144.5 L431.7,144.5 L431.8,144.5 L431.9,144.5 L432.0,144.5 L432.1,144.5 L432.2,144.5 L432.4,143.5 L432.5,142.5 L432.6,141.7 L432.7,140.9 L432.8,140.1 L432.9,139.5 L433.1,138.8 L433.2,138.3 L433.3,137.7 L433.4,137.2 L433.5,136.8 L433.6,136.4 L433.8,136.0 L433.9,135.7 L434.0,135.3 L434.1,135.1 L434.2,134.8 L434.3,134.5 L434.5,134.3 L434.6,134.1 L434.7,133.9 L434.8,133.7 L434.9,133.6 L435.0,133.4 L435.2,133.3 L435.3,133.1 L435.4,133.0 L435.5,132.9 L435.6,132.8 L435.7,132.7 L435.9,132.6 L436.0,132.6 L436.1,132.5 L436.2,132.4 L436.3,132.4 L436.4,132.3 L436.6,132.3 L436.7,132.2 L436.8,132.2 L436.9,132.1 L437.0,132.7 L437.1,133.3 L437.2,133.8 L437.4,134.3 L437.5,134.7 L437.6,135.1 L437.7,135.5 L437.8,135.9 L437.9,136.3 L438.1,136.6 L438.2,136.9 L438.3,137.2 L438.4,137.4 L438.5,137.7 L438.6,137.9 L438.8,138.1 L438.9,138.3 L439.0,138.5 L439.1,138.7 L439.2,138.9 L439.3,139.1 L439.5,139.2 L439.6,139.4 L439.7,139.5 L439.8,139.7 L439.9,139.8 L440.0,139.9 L440.2,140.0 L440.3,140.1 L440.4,140.2 L440.5,140.3 L440.6,140.4 L440.7,140.5 L440.9,140.6 L441.0,140.7 L441.1,140.8 L441.2,140.9 L441.3,141.0 L441.4,141.0 L441.6,141.1 L441.7,141.2 L441.8,141.2 L441.9,141.3 L442.0,141.4 L442.1,141.4 L442.2,141.5 L442.4,141.6 L442.5,141.6 L442.6,141.7 L442.7,141.7 L442.8,141.8 L442.9,141.8 L443.1,141.9 L443.2,141.9 L443.3,142.0 L443.4,142.0 L443.5,142.1 L443.6,142.1 L443.8,142.1 L443.9,142.2 L444.0,142.2 L444.1,142.3 L444.2,142.3 L444.3,142.3 L444.5,142.4 L444.6,142.4 L444.7,142.5 L444.8,142.5 L444.9,142.5 L445.0,142.6 L445.2,142.6 L445.3,142.6 L445.4,142.7 L445.5,142.7 L445.6,142.7 L445.7,142.7 L445.9,142.8 L446.0,142.8 L446.1,142.8 L446.2,142.9 L446.3,142.9 L446.4,142.9 L446.5,142.9 L446.7,143.0 L446.8,143.0 L446.9,143.0 L447.0,143.0 L447.1,143.1 L447.2,143.1 L447.4,143.1 L447.5,143.1 L447.6,143.2 L447.7,143.2 L447.8,143.2 L447.9,143.2 L448.1,143.2 L448.2,143.3 L448.3,143.3 L448.4,143.3 L448.5,143.3 L448.6,143.3 L448.8,143.4 L448.9,143.4 L449.0,143.4 L449.1,143.4 L449.2,143.4 L449.3,143.5 L449.5,143.5 L449.6,143.5 L449.7,143.5 L449.8,143.5 L449.9,143.5 L450.0,143.6 L450.2,143.6 L450.3,143.6 L450.4,143.6 L450.5,143.6 L450.6,143.6 L450.7,143.6 L450.9,143.7 L451.0,143.7 L451.1,143.7 L451.2,143.7 L451.3,143.7 L451.4,143.7 L451.5,143.7 L451.7,143.8 L451.8,143.8 L451.9,143.8 L452.0,143.8 L452.1,143.8 L452.2,143.8 L452.4,143.8 L452.5,143.8 L452.6,143.8 L452.7,143.9 L452.8,143.9 L452.9,143.9 L453.1,143.9 L453.2,143.9 L453.3,143.9 L453.4,143.9 L453.5,143.9 L453.6,143.9 L453.8,143.9 L453.9,144.0 L454.0,144.0 L454.1,144.0 L454.2,144.0 L454.3,144.0 L454.5,144.0 L454.6,144.0 L454.7,144.0 L454.8,144.0 L454.9,144.0 L455.0,144.0 L455.2,144.0 L455.3,144.1 L455.4,144.1 L455.5,144.1 L455.6,144.1 L455.7,144.1 L455.8,144.1 L456.0,144.1 L456.1,144.1 L456.2,144.1 L456.3,144.1 L456.4,144.1 L456.5,144.1 L456.7,144.1 L456.8,144.1 L456.9,144.1 L457.0,144.2 L457.1,144.2 L457.2,144.2 L457.4,144.2 L457.5,144.2 L457.6,144.2 L457.7,144.2 L457.8,144.2 L457.9,144.2 L458.1,144.2 L458.2,144.2 L458.3,144.2 L458.4,144.2 L458.5,144.2 L458.6,144.2 L458.8,144.2 L458.9,144.2 L459.0,144.2 L459.1,144.2 L459.2,144.2 L459.3,144.3 L459.5,144.3 L459.6,144.3 L459.7,144.3 L459.8,144.3 L459.9,144.3 L460.0,144.3 L460.2,144.3 L460.3,143.3 L460.4,142.4 L460.5,141.5 L460.6,140.8 L460.7,140.1 L460.8,139.4 L461.0,138.8 L461.1,138.3 L461.2,137.8 L461.3,137.3 L461.4,136.9 L461.5,136.5 L461.7,136.1 L461.8,135.8 L461.9,135.5 L462.0,135.2 L462.1,134.9 L462.2,134.7 L462.4,134.5 L462.5,134.3 L462.6,134.1 L462.7,133.9 L462.8,133.8 L462.9,133.6 L463.1,133.5 L463.2,133.4 L463.3,133.3 L463.4,133.2 L463.5,133.1 L463.6,133.0 L463.8,132.9 L463.9,132.8 L464.0,132.8 L464.1,132.7 L464.2,132.7 L464.3,132.6 L464.5,132.6 L464.6,132.5 L464.7,132.5 L464.8,132.4 L464.9,133.0 L465.0,133.6 L465.1,134.1 L465.3,134.5 L465.4,135.0 L465.5,135.4 L465.6,135.7 L465.7,136.1 L465.8,136.4 L466.0,136.8 L466.1,137.0 L466.2,137.3 L466.3,137.6 L466.4,137.8 L466.5,138.0 L466.7,138.3 L466.8,138.5 L466.9,138.7 L467.0,138.8 L467.1,139.0 L467.2,139.2 L467.4,139.3 L467.5,139.5 L467.6,139.6 L467.7,139.7 L467.8,139.9 L467.9,140.0 L468.1,140.1 L468.2,140.2 L468.3,140.3 L468.4,140.4 L468.5,140.5 L468.6,140.6 L468.8,140.7 L468.9,140.8 L469.0,140.9 L469.1,140.9 L469.2,141.0 L469.3,141.1 L469.5,141.2 L469.6,141.2 L469.7,141.3 L469.8,141.4 L469.9,141.4 L470.0,141.5 L470.1,141.5 L470.3,141.6 L470.4,141.7 L470.5,141.7 L470.6,141.8 L470.7,141.8 L470.8,141.9 L471.0,141.9 L471.1,142.0 L471.2,142.0 L471.3,142.1 L471.4,142.1 L471.5,142.1 L471.7,142.2 L471.8,142.2 L471.9,142.3 L472.0,142.3 L472.1,142.3 L472.2,142.4 L472.4,142.4 L472.5,142.4 L472.6,142.5 L472.7,142.5 L472.8,142.6 L472.9,142.6 L473.1,142.6 L473.2,142.7 L473.3,142.7 L473.4,142.7 L473.5,142.7 L473.6,142.8 L473.8,142.8 L473.9,142.8 L474.0,142.9 L474.1,142.9 L474.2,142.9 L474.3,142.9 L474.4,143.0 L474.6,143.0 L474.7,143.0 L474.8,143.0 L474.9,143.1 L475.0,143.1 L475.1,143.1 L475.3,143.1 L475.4,143.2 L475.5,143.2 L475.6,143.2 L475.7,143.2 L475.8,143.2 L476.0,143.3 L476.1,143.3 L476.2,143.3 L476.3,143.3 L476.4,143.3 L476.5,143.4 L476.7,143.4 L476.8,143.4 L476.9,143.4 L477.0,143.4 L477.1,143.5 L477.2,143.5 L477.4,143.5 L477.5,143.5 L477.6,143.5 L477.7,143.5 L477.8,143.6 L477.9,143.6 L478.1,143.6 L478.2,143.6 L478.3,143.6 L478.4,143.6 L478.5,143.6 L478.6,143.7 L478.8,143.7 L478.9,143.7 L479.0,143.7 L479.1,143.7 L479.2,143.7 L479.3,143.7 L479.4,143.8 L479.6,143.8 L479.7,143.8 L479.8,143.8 L479.9,143.8 L480.0,143.8 L480.1,143.8 L480.3,143.8 L480.4,143.8 L480.5,143.9 L480.6,143.9 L480.7,143.9 L480.8,143.9 L481.0,143.9 L481.1,143.9 L481.2,143.9 L481.3,143.9 L481.4,143.9 L481.5,143.9 L481.7,144.0 L481.8,144.0 L481.9,144.0 L482.0,144.0 L482.1,144.0 L482.2,144.0 L482.4,144.0 L482.5,144.0 L482.6,144.0 L482.7,144.0 L482.8,144.0 L482.9,144.0 L483.1,144.1 L483.2,144.1 L483.3,144.1 L483.4,144.1 L483.5,144.1 L483.6,144.1 L483.7,144.1 L483.9,144.1 L484.0,144.1 L484.1,144.1 L484.2,144.1 L484.3,144.1 L484.4,144.1 L484.6,144.1 L484.7,144.1 L484.8,144.2 L484.9,144.2 L485.0,144.2 L485.1,144.2 L485.3,144.2 L485.4,144.2 L485.5,144.2 L485.6,144.2 L485.7,144.2 L485.8,144.2 L486.0,144.2 L486.1,144.2 L486.2,144.2 L486.3,144.2 L486.4,144.2 L486.5,144.2 L486.7,144.2 L486.8,144.2 L486.9,144.2 L487.0,144.2 L487.1,144.3 L487.2,144.3 L487.4,144.3 L487.5,144.3 L487.6,144.3 L487.7,144.3 L487.8,144.3 L487.9,144.3 L488.1,144.3 L488.2,143.3 L488.3,142.5 L488.4,141.7 L488.5,140.9 L488.6,140.2 L488.7,139.6 L488.9,139.0 L489.0,138.5 L489.1,138.0 L489.2,137.6 L489.3,137.1 L489.4,136.8 L489.6,136.4 L489.7,136.1 L489.8,135.8 L489.9,135.5 L490.0,135.3 L490.1,135.1 L490.3,134.8 L490.4,134.7 L490.5,134.5 L490.6,134.3 L490.7,134.2 L490.8,134.0 L491.0,133.9 L491.1,133.8 L491.2,133.7 L491.3,133.6 L491.4,133.5 L491.5,133.4 L491.7,133.3 L491.8,133.3 L491.9,133.2 L492.0,133.1 L492.1,133.1 L492.2,133.0 L492.4,133.0 L492.5,132.9 L492.6,132.9 L492.7,132.9 L492.8,133.4 L492.9,133.9 L493.0,134.4 L493.2,134.9 L493.3,135.3 L493.4,135.7 L493.5,136.1 L493.6,136.4 L493.7,136.7 L493.9,137.0 L494.0,137.3 L494.1,137.6 L494.2,137.8 L494.3,138.1 L494.4,138.3 L494.6,138.5 L494.7,138.7 L494.8,138.9 L494.9,139.0 L495.0,139.2 L495.1,139.4 L495.3,139.5 L495.4,139.7 L495.5,139.8 L495.6,139.9 L495.7,140.0 L495.8,140.1 L496.0,140.3 L496.1,140.4 L496.2,140.5 L496.3,140.6 L496.4,140.7 L496.5,140.7 L496.7,140.8 L496.8,140.9 L496.9,141.0 L497.0,141.1 L497.1,141.1 L497.2,141.2 L497.4,141.3 L497.5,141.3 L497.6,141.4 L497.7,141.5 L497.8,141.5 L497.9,141.6 L498.0,141.6 L498.2,141.7 L498.3,141.8 L498.4,141.8 L498.5,141.9 L498.6,141.9 L498.7,142.0 L498.9,142.0 L499.0,142.0 L499.1,142.1 L499.2,142.1 L499.3,142.2 L499.4,142.2 L499.6,142.3 L499.7,142.3 L499.8,142.3 L499.9,142.4 L500.0,142.4 L500.1,142.5 L500.3,142.5 L500.4,142.5 L500.5,142.6 L500.6,142.6 L500.7,142.6 L500.8,142.7 L501.0,142.7 L501.1,142.7 L501.2,142.7 L501.3,142.8 L501.4,142.8 L501.5,142.8 L501.7,142.9 L501.8,142.9 L501.9,142.9 L502.0,142.9 L502.1,143.0 L502.2,143.0 L502.3,143.0 L502.5,143.0 L502.6,143.1 L502.7,143.1 L502.8,143.1 L502.9,143.1 L503.0,143.2 L503.2,143.2 L503.3,143.2 L503.4,143.2 L503.5,143.3 L503.6,143.3 L503.7,143.3 L503.9,143.3 L504.0,143.3 L504.1,143.4 L504.2,143.4 L504.3,143.4 L504.4,143.4 L504.6,143.4 L504.7,143.4 L504.8,143.5 L504.9,143.5 L505.0,143.5 L505.1,143.5 L505.3,143.5 L505.4,143.5 L505.5,143.6 L505.6,143.6 L505.7,143.6 L505.8,143.6 L506.0,143.6 L506.1,143.6 L506.2,143.7 L506.3,143.7 L506.4,143.7 L506.5,143.7 L506.7,143.7 L506.8,143.7 L506.9,143.7 L507.0,143.7 L507.1,143.8 L507.2,143.8 L507.3,143.8 L507.5,143.8 L507.6,143.8 L507.7,143.8 L507.8,143.8 L507.9,143.8 L508.0,143.8 L508.2,143.9 L508.3,143.9 L508.4,143.9 L508.5,143.9 L508.6,143.9 L508.7,143.9 L508.9,143.9 L509.0,143.9 L509.1,143.9 L509.2,143.9 L509.3,144.0 L509.4,144.0 L509.6,144.0 L509.7,144.0 L509.8,144.0 L509.9,144.0 L510.0,144.0 L510.1,144.0 L510.3,144.0 L510.4,144.0 L510.5,144.0 L510.6,144.0 L510.7,144.1 L510.8,144.1 L511.0,144.1 L511.1,144.1 L511.2,144.1 L511.3,144.1 L511.4,144.1 L511.5,144.1 L511.6,144.1 L511.8,144.1 L511.9,144.1 L512.0,144.1 L512.1,144.1 L512.2,144.1 L512.3,144.1 L512.5,144.2 L512.6,144.2 L512.7,144.2 L512.8,144.2 L512.9,144.2 L513.0,144.2 L513.2,144.2 L513.3,144.2 L513.4,144.2 L513.5,144.2 L513.6,144.2 L513.7,144.2 L513.9,144.2 L514.0,144.2 L514.1,144.2 L514.2,144.2 L514.3,144.2 L514.4,144.2 L514.6,144.2 L514.7,144.2 L514.8,144.3 L514.9,144.3 L515.0,144.3 L515.1,144.3 L515.3,144.3 L515.4,144.3 L515.5,144.3 L515.6,144.3 L515.7,144.3 L515.8,144.3 L516.0,144.3 L516.1,143.3 L516.2,142.5 L516.3,141.7 L516.4,140.9 L516.5,140.2 L516.6,139.6 L516.8,139.0 L516.9,138.5 L517.0,138.0 L517.1,137.6 L517.2,137.2 L517.3,136.8 L517.5,136.4 L517.6,136.1 L517.7,135.8 L517.8,135.5 L517.9,135.3 L518.0,135.1 L518.2,134.9 L518.3,134.7 L518.4,134.5 L518.5,134.3 L518.6,134.2 L518.7,134.0 L518.9,133.9 L519.0,133.8 L519.1,133.7 L519.2,133.6 L519.3,133.5 L519.4,133.4 L519.6,133.3 L519.7,133.3 L519.8,133.2 L519.9,133.1 L520.0,133.1 L520.1,133.0 L520.3,133.0 L520.4,132.9 L520.5,132.9 L520.6,132.9 L520.7,133.4 L520.8,133.9 L520.9,134.4 L521.1,134.9 L521.2,135.3 L521.3,135.7 L521.4,136.1 L521.5,136.4 L521.6,136.7 L521.8,137.0 L521.9,137.3 L522.0,137.6 L522.1,137.8 L522.2,138.1 L522.3,138.3 L522.5,138.5 L522.6,138.7 L522.7,138.9 L522.8,139.0 L522.9,139.2 L523.0,139.4 L523.2,139.5 L523.3,139.7 L523.4,139.8 L523.5,139.9 L523.6,140.0 L523.7,140.2 L523.9,140.3 L524.0,140.4 L524.1,140.5 L524.2,140.6 L524.3,140.7 L524.4,140.7 L524.6,140.8 L524.7,140.9 L524.8,141.0 L524.9,141.1 L525.0,141.1 L525.1,141.2 L525.2,141.3 L525.4,141.3 L525.5,141.4 L525.6,141.5 L525.7,141.5 L525.8,141.6 L525.9,141.6 L526.1,141.7 L526.2,141.8 L526.3,141.8 L526.4,141.9 L526.5,141.9 L526.6,142.0 L526.8,142.0 L526.9,142.1 L527.0,142.1 L527.1,142.1 L527.2,142.2 L527.3,142.2 L527.5,142.3 L527.6,142.3 L527.7,142.3 L527.8,142.4 L527.9,142.4 L528.0,142.5 L528.2,142.5 L528.3,142.5 L528.4,142.6 L528.5,142.6 L528.6,142.6 L528.7,142.7 L528.9,142.7 L529.0,142.7 L529.1,142.7 L529.2,142.8 L529.3,142.8 L529.4,142.8 L529.6,142.9 L529.7,142.9 L529.8,142.9 L529.9,142.9 L530.0,143.0 L530.1,143.0 L530.2,143.0 L530.4,143.0 L530.5,143.1 L530.6,143.1 L530.7,143.1 L530.8,143.1 L530.9,143.2 L531.1,143.2 L531.2,143.2 L531.3,143.2 L531.4,143.3 L531.5,143.3 L531.6,143.3 L531.8,143.3 L531.9,143.3 L532.0,143.4 L532.1,143.4 L532.2,143.4 L532.3,143.4 L532.5,143.4 L532.6,143.4 L532.7,143.5 L532.8,143.5 L532.9,143.5 L533.0,143.5 L533.2,143.5 L533.3,143.5 L533.4,143.6 L533.5,143.6 L533.6,143.6 L533.7,143.6 L533.9,143.6 L534.0,143.6 L534.1,143.7 L534.2,143.7 L534.3,143.7 L534.4,143.7 L534.6,143.7 L534.7,143.7 L534.8,143.7 L534.9,143.7 L535.0,143.8 L535.1,143.8 L535.2,143.8 L535.4,143.8 L535.5,143.8 L535.6,143.8 L535.7,143.8 L535.8,143.8 L535.9,143.8 L536.1,143.9 L536.2,143.9 L536.3,143.9 L536.4,143.9 L536.5,143.9 L536.6,143.9 L536.8,143.9 L536.9,143.9 L537.0,143.9 L537.1,143.9 L537.2,144.0 L537.3,144.0 L537.5,144.0 L537.6,144.0 L537.7,144.0 L537.8,144.0 L537.9,144.0 L538.0,144.0 L538.2,144.0 L538.3,144.0 L538.4,144.0 L538.5,144.0 L538.6,144.1 L538.7,144.1 L538.9,144.1 L539.0,144.1 L539.1,144.1 L539.2,144.1 L539.3,144.1 L539.4,144.1 L539.5,144.1 L539.7,144.1 L539.8,144.1 L539.9,144.1 L540.0,144.1 L540.1,144.1 L540.2,144.1 L540.4,144.2 L540.5,144.2 L540.6,144.2 L540.7,144.2 L540.8,144.2 L540.9,144.2 L541.1,144.2 L541.2,144.2 L541.3,144.2 L541.4,144.2 L541.5,144.2 L541.6,144.2 L541.8,144.2 L541.9,144.2 L542.0,144.2 L542.1,144.2 L542.2,144.2 L542.3,144.2 L542.5,144.2 L542.6,144.2 L542.7,144.3 L542.8,144.3 L542.9,144.3 L543.0,144.3 L543.2,144.3 L543.3,144.3 L543.4,144.3 L543.5,144.3 L543.6,144.3 L543.7,144.3 L543.9,144.3 L544.0,143.3 L544.1,142.5 L544.2,141.7 L544.3,140.9 L544.4,140.2 L544.5,139.6 L544.7,139.0 L544.8,138.5 L544.9,138.0 L545.0,137.6 L545.1,137.2 L545.2,136.8 L545.4,136.4 L545.5,136.1 L545.6,135.8 L545.7,135.5 L545.8,135.3 L545.9,135.1 L546.1,134.9 L546.2,134.7 L546.3,134.5 L546.4,134.3 L546.5,134.2 L546.6,134.0 L546.8,133.9 L546.9,133.8 L547.0,133.7 L547.1,133.6 L547.2,133.5 L547.3,133.4 L547.5,133.3 L547.6,133.3 L547.7,133.2 L547.8,133.1 L547.9,133.1 L548.0,133.0 L548.2,133.0 L548.3,132.9 L548.4,132.9 L548.5,132.9 L548.6,133.4 L548.7,133.9 L548.8,134.4 L549.0,134.9 L549.1,135.3 L549.2,135.7 L549.3,136.1 L549.4,136.4 L549.5,136.7 L549.7,137.0 L549.8,137.3 L549.9,137.6 L550.0,137.8 L550.1,138.1 L550.2,138.3 L550.4,138.5 L550.5,138.7 L550.6,138.9 L550.7,139.0 L550.8,139.2 L550.9,139.4 L551.1,139.5 L551.2,139.7 L551.3,139.8 L551.4,139.9 L551.5,140.0 L551.6,140.2 L551.8,140.3 L551.9,140.4 L552.0,140.5 L552.1,140.6 L552.2,140.7 L552.3,140.7 L552.5,140.8 L552.6,140.9 L552.7,141.0 L552.8,141.1 L552.9,141.1 L553.0,141.2 L553.2,141.3 L553.3,141.3 L553.4,141.4 L553.5,141.5 L553.6,141.5 L553.7,141.6 L553.8,141.6 L554.0,141.7 L554.1,141.8 L554.2,141.8 L554.3,141.9 L554.4,141.9 L554.5,142.0 L554.7,142.0 L554.8,142.1 L554.9,142.1 L555.0,142.1 L555.1,142.2 L555.2,142.2 L555.4,142.3 L555.5,142.3 L555.6,142.3 L555.7,142.4 L555.8,142.4 L555.9,142.5 L556.1,142.5 L556.2,142.5 L556.3,142.6 L556.4,142.6 L556.5,142.6 L556.6,142.7 L556.8,142.7 L556.9,142.7 L557.0,142.7 L557.1,142.8 L557.2,142.8 L557.3,142.8 L557.5,142.9 L557.6,142.9 L557.7,142.9 L557.8,142.9 L557.9,143.0 L558.0,143.0 L558.1,143.0 L558.3,143.0 L558.4,143.1 L558.5,143.1 L558.6,143.1 L558.7,143.1 L558.8,143.2 L559.0,143.2 L559.1,143.2 L559.2,143.2 L559.3,143.3 L559.4,143.3 L559.5,143.3 L559.7,143.3 L559.8,143.3 L559.9,143.4 L560.0,143.4 L560.1,143.4 L560.2,143.4 L560.4,143.4 L560.5,143.4 L560.6,143.5 L560.7,143.5 L560.8,143.5 L560.9,143.5 L561.1,143.5 L561.2,143.5 L561.3,143.6 L561.4,143.6 L561.5,143.6 L561.6,143.6 L561.8,143.6 L561.9,143.6 L562.0,143.7 L562.1,143.7 L562.2,143.7 L562.3,143.7 L562.5,143.7 L562.6,143.7 L562.7,143.7 L562.8,143.7 L562.9,143.8 L563.0,143.8 L563.1,143.8 L563.3,143.8 L563.4,143.8 L563.5,143.8 L563.6,143.8 L563.7,143.8 L563.8,143.8 L564.0,143.9 L564.1,143.9 L564.2,143.9 L564.3,143.9 L564.4,143.9 L564.5,143.9 L564.7,143.9 L564.8,143.9 L564.9,143.9 L565.0,143.9 L565.1,144.0 L565.2,144.0 L565.4,144.0 L565.5,144.0 L565.6,144.0 L565.7,144.0 L565.8,144.0 L565.9,144.0 L566.1,144.0 L566.2,144.0 L566.3,144.0 L566.4,144.0 L566.5,144.1 L566.6,144.1 L566.8,144.1 L566.9,144.1 L567.0,144.1 L567.1,144.1 L567.2,144.1 L567.3,144.1 L567.4,144.1 L567.6,144.1 L567.7,144.1 L567.8,144.1 L567.9,144.1 L568.0,144.1 L568.1,144.1 L568.3,144.2 L568.4,144.2 L568.5,144.2 L568.6,144.2 L568.7,144.2 L568.8,144.2 L569.0,144.2 L569.1,144.2 L569.2,144.2 L569.3,144.2 L569.4,144.2 L569.5,144.2 L569.7,144.2 L569.8,144.2 L569.9,144.2 L570.0,144.2 L570.1,144.2 L570.2,144.2 L570.4,144.2 L570.5,144.2 L570.6,144.3 L570.7,144.3 L570.8,144.3 L570.9,144.3 L571.1,144.3 L571.2,144.3 L571.3,144.3 L571.4,144.3 L571.5,144.3 L571.6,144.3 L571.8,144.3 L571.9,143.3 L572.0,142.5 L572.1,141.7 L572.2,140.9 L572.3,140.2 L572.4,139.6 L572.6,139.0 L572.7,138.5 L572.8,138.0 L572.9,137.6 L573.0,137.2 L573.1,136.8 L573.3,136.4 L573.4,136.1 L573.5,135.8 L573.6,135.5 L573.7,135.3 L573.8,135.1 L574.0,134.9 L574.1,134.7 L574.2,134.5 L574.3,134.3 L574.4,134.2 L574.5,134.0 L574.7,133.9 L574.8,133.8 L574.9,133.7 L575.0,133.6 L575.1,133.5 L575.2,133.4 L575.4,133.3 L575.5,133.3 L575.6,133.2 L575.7,133.1 L575.8,133.1 L575.9,133.0 L576.1,133.0 L576.2,132.9 L576.3,132.9 L576.4,132.9 L576.5,133.4 L576.6,133.9 L576.7,134.4 L576.9,134.9 L577.0,135.3 L577.1,135.7 L577.2,136.1 L577.3,136.4 L577.4,136.7 L577.6,137.0 L577.7,137.3 L577.8,137.6 L577.9,137.8 L578.0,138.1 L578.1,138.3 L578.3,138.5 L578.4,138.7 L578.5,138.9 L578.6,139.0 L578.7,139.2 L578.8,139.4 L579.0,139.5 L579.1,139.7 L579.2,139.8 L579.3,139.9 L579.4,140.0 L579.5,140.2 L579.7,140.3 L579.8,140.4 L579.9,140.5 L580.0,140.6 L580.1,140.7 L580.2,140.7 L580.4,140.8 L580.5,140.9 L580.6,141.0 L580.7,141.1 L580.8,141.1 L580.9,141.2 L581.1,141.3 L581.2,141.3 L581.3,141.4 L581.4,141.5 L581.5,141.5 L581.6,141.6 L581.7,141.6 L581.9,141.7 L582.0,141.8 L582.1,141.8 L582.2,141.9 L582.3,141.9 L582.4,142.0 L582.6,142.0 L582.7,142.1 L582.8,142.1 L582.9,142.1 L583.0,142.2 L583.1,142.2 L583.3,142.3 L583.4,142.3 L583.5,142.3 L583.6,142.4 L583.7,142.4 L583.8,142.5 L584.0,142.5 L584.1,142.5 L584.2,142.6 L584.3,142.6 L584.4,142.6 L584.5,142.7 L584.7,142.7 L584.8,142.7 L584.9,142.7 L585.0,142.8 L585.1,142.8 L585.2,142.8 L585.4,142.9 L585.5,142.9 L585.6,142.9 L585.7,142.9 L585.8,143.0 L585.9,143.0 L586.0,143.0 L586.2,143.0 L586.3,143.1 L586.4,143.1 L586.5,143.1 L586.6,143.1 L586.7,143.2 L586.9,143.2 L587.0,143.2 L587.1,143.2 L587.2,143.3 L587.3,143.3 L587.4,143.3 L587.6,143.3 L587.7,143.3 L587.8,143.4 L587.9,143.4 L588.0,143.4 L588.1,143.4 L588.3,143.4 L588.4,143.4 L588.5,143.5 L588.6,143.5 L588.7,143.5 L588.8,143.5 L589.0,143.5 L589.1,143.5 L589.2,143.6 L589.3,143.6 L589.4,143.6 L589.5,143.6 L589.7,143.6 L589.8,143.6 L589.9,143.7 L590.0,143.7 L590.1,143.7 L590.2,143.7 L590.4,143.7 L590.5,143.7 L590.6,143.7 L590.7,143.7 L590.8,143.8 L590.9,143.8 L591.0,143.8 L591.2,143.8 L591.3,143.8 L591.4,143.8 L591.5,143.8 L591.6,143.8 L591.7,143.8 L591.9,143.9 L592.0,143.9 L592.1,143.9 L592.2,143.9 L592.3,143.9 L592.4,143.9 L592.6,143.9 L592.7,143.9 L592.8,143.9 L592.9,143.9 L593.0,144.0 L593.1,144.0 L593.3,144.0 L593.4,144.0 L593.5,144.0 L593.6,144.0 L593.7,144.0 L593.8,144.0 L594.0,144.0 L594.1,144.0 L594.2,144.0 L594.3,144.0 L594.4,144.1 L594.5,144.1 L594.7,144.1 L594.8,144.1 L594.9,144.1 L595.0,144.1 L595.1,144.1 L595.2,144.1 L595.3,144.1 L595.5,144.1 L595.6,144.1 L595.7,144.1 L595.8,144.1 L595.9,144.1 L596.0,144.1 L596.2,144.2 L596.3,144.2 L596.4,144.2 L596.5,144.2 L596.6,144.2 L596.7,144.2 L596.9,144.2 L597.0,144.2 L597.1,144.2 L597.2,144.2 L597.3,144.2 L597.4,144.2 L597.6,144.2 L597.7,144.2 L597.8,144.2 L597.9,144.2 L598.0,144.2 L598.1,144.2 L598.3,144.2 L598.4,144.2 L598.5,144.3 L598.6,144.3 L598.7,144.3 L598.8,144.3 L599.0,144.3 L599.1,144.3 L599.2,144.3 L599.3,144.3 L599.4,144.3 L599.5,144.3 L599.7,144.3 L599.8,143.3 L599.9,142.5 L600.0,141.7 L600.1,140.9 L600.2,140.2 L600.3,139.6 L600.5,139.0 L600.6,138.5 L600.7,138.0 L600.8,137.6 L600.9,137.2 L601.0,136.8 L601.2,136.4 L601.3,136.1 L601.4,135.8 L601.5,135.5 L601.6,135.3 L601.7,135.1 L601.9,134.9 L602.0,134.7 L602.1,134.5 L602.2,134.3 L602.3,134.2 L602.4,134.0 L602.6,133.9 L602.7,133.8 L602.8,133.7 L602.9,133.6 L603.0,133.5 L603.1,133.4 L603.3,133.3 L603.4,133.3 L603.5,133.2 L603.6,133.1 L603.7,133.1 L603.8,133.0 L604.0,133.0 L604.1,132.9 L604.2,132.9 L604.3,132.9 L604.4,133.4 L604.5,133.9 L604.6,134.4 L604.8,134.9 L604.9,135.3 L605.0,135.7 L605.1,136.1 L605.2,136.4 L605.3,136.7 L605.5,137.0 L605.6,137.3 L605.7,137.6 L605.8,137.8 L605.9,138.1 L606.0,138.3 L606.2,138.5 L606.3,138.7 L606.4,138.9 L606.5,139.0 L606.6,139.2 L606.7,139.4 L606.9,139.5 L607.0,139.7 L607.1,139.8 L607.2,139.9 L607.3,140.0 L607.4,140.2 L607.6,140.3 L607.7,140.4 L607.8,140.5 L607.9,140.6 L608.0,140.7 L608.1,140.7 L608.3,140.8 L608.4,140.9 L608.5,141.0 L608.6,141.1 L608.7,141.1 L608.8,141.2 L609.0,141.3 L609.1,141.3 L609.2,141.4 L609.3,141.5 L609.4,141.5 L609.5,141.6 L609.6,141.6 L609.8,141.7 L609.9,141.8 L610.0,141.8 L610.1,141.9 L610.2,141.9 L610.3,142.0 L610.5,142.0 L610.6,142.1 L610.7,142.1 L610.8,142.1 L610.9,142.2 L611.0,142.2 L611.2,142.3 L611.3,142.3 L611.4,142.3 L611.5,142.4 L611.6,142.4 L611.7,142.5 L611.9,142.5 L612.0,142.5 L612.1,142.6 L612.2,142.6 L612.3,142.6 L612.4,142.7 L612.6,142.7 L612.7,142.7 L612.8,142.7 L612.9,142.8 L613.0,142.8 L613.1,142.8 L613.3,142.9 L613.4,142.9 L613.5,142.9 L613.6,142.9 L613.7,143.0 L613.8,143.0 L613.9,143.0 L614.1,143.0 L614.2,143.1 L614.3,143.1 L614.4,143.1 L614.5,143.1 L614.6,143.2 L614.8,143.2 L614.9,143.2 L615.0,143.2 L615.1,143.3 L615.2,143.3 L615.3,143.3 L615.5,143.3 L615.6,143.3 L615.7,143.4 L615.8,143.4 L615.9,143.4 L616.0,143.4 L616.2,143.4 L616.3,143.4 L616.4,143.5 L616.5,143.5 L616.6,143.5 L616.7,143.5 L616.9,143.5 L617.0,143.5 L617.1,143.6 L617.2,143.6 L617.3,143.6 L617.4,143.6 L617.6,143.6 L617.7,143.6 L617.8,143.7 L617.9,143.7 L618.0,143.7 L618.1,143.7 L618.2,143.7 L618.4,143.7 L618.5,143.7 L618.6,143.7 L618.7,143.8 L618.8,143.8 L618.9,143.8 L619.1,143.8 L619.2,143.8 L619.3,143.8 L619.4,143.8 L619.5,143.8 L619.6,143.8 L619.8,143.9 L619.9,143.9 L620.0,143.9 L620.1,143.9 L620.2,143.9 L620.3,143.9 L620.5,143.9 L620.6,143.9 L620.7,143.9 L620.8,143.9 L620.9,144.0 L621.0,144.0 L621.2,144.0 L621.3,144.0 L621.4,144.0 L621.5,144.0 L621.6,144.0 L621.7,144.0 L621.9,144.0 L622.0,144.0 L622.1,144.0 L622.2,144.0 L622.3,144.1 L622.4,144.1 L622.6,144.1 L622.7,144.1 L622.8,144.1 L622.9,144.1" fill="none" stroke="#2a8a35" stroke-width="1.6" stroke-linejoin="round" stroke-linecap="round" />
<path d="M427.6,144.5 L427.7,144.5 L427.8,144.5 L427.9,144.5 L428.1,144.5 L428.2,144.5 L428.3,144.5 L428.4,144.5 L428.5,144.5 L428.6,144.5 L428.8,144.5 L428.9,144.5 L429.0,144.5 L429.1,144.5 L429.2,144.5 L429.3,144.5 L429.5,144.5 L429.6,144.5 L429.7,144.5 L429.8,144.5 L429.9,144.5 L430.0,144.5 L430.2,144.5 L430.3,144.5 L430.4,144.5 L430.5,144.5 L430.6,144.5 L430.7,144.5 L430.9,144.5 L431.0,144.5 L431.1,144.5 L431.2,144.5 L431.3,144.5 L431.4,144.5 L431.6,144.5 L431.7,144.5 L431.8,144.5 L431.9,144.5 L432.0,144.5 L432.1,144.5 L432.2,144.5 L432.4,144.0 L432.5,143.6 L432.6,143.2 L432.7,142.9 L432.8,142.5 L432.9,142.2 L433.1,142.0 L433.2,141.7 L433.3,141.5 L433.4,141.2 L433.5,141.0 L433.6,140.9 L433.8,140.7 L433.9,140.5 L434.0,140.4 L434.1,140.3 L434.2,140.1 L434.3,140.0 L434.5,139.9 L434.6,139.8 L434.7,139.7 L434.8,139.7 L434.9,139.6 L435.0,139.5 L435.2,139.5 L435.3,139.4 L435.4,139.4 L435.5,139.3 L435.6,139.3 L435.7,139.2 L435.9,139.2 L436.0,139.1 L436.1,139.1 L436.2,139.1 L436.3,139.1 L436.4,139.0 L436.6,139.0 L436.7,139.0 L436.8,139.0 L436.9,139.0 L437.0,139.1 L437.1,139.3 L437.2,139.4 L437.4,139.6 L437.5,139.7 L437.6,139.8 L437.7,140.0 L437.8,140.1 L437.9,140.2 L438.1,140.3 L438.2,140.4 L438.3,140.5 L438.4,140.6 L438.5,140.7 L438.6,140.8 L438.8,140.8 L438.9,140.9 L439.0,141.0 L439.1,141.1 L439.2,141.1 L439.3,141.2 L439.5,141.3 L439.6,141.3 L439.7,141.4 L439.8,141.4 L439.9,141.5 L440.0,141.5 L440.2,141.6 L440.3,141.6 L440.4,141.7 L440.5,141.7 L440.6,141.8 L440.7,141.8 L440.9,141.9 L441.0,141.9 L441.1,141.9 L441.2,142.0 L441.3,142.0 L441.4,142.1 L441.6,142.1 L441.7,142.1 L441.8,142.2 L441.9,142.2 L442.0,142.2 L442.1,142.2 L442.2,142.3 L442.4,142.3 L442.5,142.3 L442.6,142.4 L442.7,142.4 L442.8,142.4 L442.9,142.4 L443.1,142.5 L443.2,142.5 L443.3,142.5 L443.4,142.5 L443.5,142.6 L443.6,142.6 L443.8,142.6 L443.9,142.6 L444.0,142.6 L444.1,142.7 L444.2,142.7 L444.3,142.7 L444.5,142.7 L444.6,142.7 L444.7,142.8 L444.8,142.8 L444.9,142.8 L445.0,142.8 L445.2,142.8 L445.3,142.9 L445.4,142.9 L445.5,142.9 L445.6,142.9 L445.7,142.9 L445.9,142.9 L446.0,143.0 L446.1,143.0 L446.2,143.0 L446.3,143.0 L446.4,143.0 L446.5,143.0 L446.7,143.1 L446.8,143.1 L446.9,143.1 L447.0,143.1 L447.1,143.1 L447.2,143.1 L447.4,143.1 L447.5,143.2 L447.6,143.2 L447.7,143.2 L447.8,143.2 L447.9,143.2 L448.1,143.2 L448.2,143.2 L448.3,143.2 L448.4,143.3 L448.5,143.3 L448.6,143.3 L448.8,143.3 L448.9,143.3 L449.0,143.3 L449.1,143.3 L449.2,143.3 L449.3,143.4 L449.5,143.4 L449.6,143.4 L449.7,143.4 L449.8,143.4 L449.9,143.4 L450.0,143.4 L450.2,143.4 L450.3,143.4 L450.4,143.5 L450.5,143.5 L450.6,143.5 L450.7,143.5 L450.9,143.5 L451.0,143.5 L451.1,143.5 L451.2,143.5 L451.3,143.5 L451.4,143.5 L451.5,143.6 L451.7,143.6 L451.8,143.6 L451.9,143.6 L452.0,143.6 L452.1,143.6 L452.2,143.6 L452.4,143.6 L452.5,143.6 L452.6,143.6 L452.7,143.6 L452.8,143.7 L452.9,143.7 L453.1,143.7 L453.2,143.7 L453.3,143.7 L453.4,143.7 L453.5,143.7 L453.6,143.7 L453.8,143.7 L453.9,143.7 L454.0,143.7 L454.1,143.7 L454.2,143.7 L454.3,143.8 L454.5,143.8 L454.6,143.8 L454.7,143.8 L454.8,143.8 L454.9,143.8 L455.0,143.8 L455.2,143.8 L455.3,143.8 L455.4,143.8 L455.5,143.8 L455.6,143.8 L455.7,143.8 L455.8,143.8 L456.0,143.9 L456.1,143.9 L456.2,143.9 L456.3,143.9 L456.4,143.9 L456.5,143.9 L456.7,143.9 L456.8,143.9 L456.9,143.9 L457.0,143.9 L457.1,143.9 L457.2,143.9 L457.4,143.9 L457.5,143.9 L457.6,143.9 L457.7,143.9 L457.8,143.9 L457.9,144.0 L458.1,144.0 L458.2,144.0 L458.3,144.0 L458.4,144.0 L458.5,144.0 L458.6,144.0 L458.8,144.0 L458.9,144.0 L459.0,144.0 L459.1,144.0 L459.2,144.0 L459.3,144.0 L459.5,144.0 L459.6,144.0 L459.7,144.0 L459.8,144.0 L459.9,144.0 L460.0,144.0 L460.2,144.0 L460.3,143.6 L460.4,143.2 L460.5,142.8 L460.6,142.4 L460.7,142.1 L460.8,141.8 L461.0,141.5 L461.1,141.3 L461.2,141.1 L461.3,140.8 L461.4,140.6 L461.5,140.5 L461.7,140.3 L461.8,140.1 L461.9,140.0 L462.0,139.9 L462.1,139.8 L462.2,139.7 L462.4,139.6 L462.5,139.5 L462.6,139.4 L462.7,139.3 L462.8,139.2 L462.9,139.2 L463.1,139.1 L463.2,139.1 L463.3,139.0 L463.4,139.0 L463.5,138.9 L463.6,138.9 L463.8,138.9 L463.9,138.8 L464.0,138.8 L464.1,138.8 L464.2,138.7 L464.3,138.7 L464.5,138.7 L464.6,138.7 L464.7,138.7 L464.8,138.7 L464.9,138.8 L465.0,139.0 L465.1,139.1 L465.3,139.3 L465.4,139.4 L465.5,139.6 L465.6,139.7 L465.7,139.8 L465.8,139.9 L466.0,140.0 L466.1,140.1 L466.2,140.2 L466.3,140.3 L466.4,140.4 L466.5,140.5 L466.7,140.6 L466.8,140.7 L466.9,140.7 L467.0,140.8 L467.1,140.9 L467.2,141.0 L467.4,141.0 L467.5,141.1 L467.6,141.1 L467.7,141.2 L467.8,141.3 L467.9,141.3 L468.1,141.4 L468.2,141.4 L468.3,141.5 L468.4,141.5 L468.5,141.6 L468.6,141.6 L468.8,141.7 L468.9,141.7 L469.0,141.7 L469.1,141.8 L469.2,141.8 L469.3,141.8 L469.5,141.9 L469.6,141.9 L469.7,142.0 L469.8,142.0 L469.9,142.0 L470.0,142.1 L470.1,142.1 L470.3,142.1 L470.4,142.1 L470.5,142.2 L470.6,142.2 L470.7,142.2 L470.8,142.3 L471.0,142.3 L471.1,142.3 L471.2,142.3 L471.3,142.4 L471.4,142.4 L471.5,142.4 L471.7,142.4 L471.8,142.5 L471.9,142.5 L472.0,142.5 L472.1,142.5 L472.2,142.5 L472.4,142.6 L472.5,142.6 L472.6,142.6 L472.7,142.6 L472.8,142.6 L472.9,142.7 L473.1,142.7 L473.2,142.7 L473.3,142.7 L473.4,142.7 L473.5,142.8 L473.6,142.8 L473.8,142.8 L473.9,142.8 L474.0,142.8 L474.1,142.9 L474.2,142.9 L474.3,142.9 L474.4,142.9 L474.6,142.9 L474.7,142.9 L474.8,143.0 L474.9,143.0 L475.0,143.0 L475.1,143.0 L475.3,143.0 L475.4,143.0 L475.5,143.0 L475.6,143.1 L475.7,143.1 L475.8,143.1 L476.0,143.1 L476.1,143.1 L476.2,143.1 L476.3,143.1 L476.4,143.2 L476.5,143.2 L476.7,143.2 L476.8,143.2 L476.9,143.2 L477.0,143.2 L477.1,143.2 L477.2,143.3 L477.4,143.3 L477.5,143.3 L477.6,143.3 L477.7,143.3 L477.8,143.3 L477.9,143.3 L478.1,143.3 L478.2,143.3 L478.3,143.4 L478.4,143.4 L478.5,143.4 L478.6,143.4 L478.8,143.4 L478.9,143.4 L479.0,143.4 L479.1,143.4 L479.2,143.4 L479.3,143.5 L479.4,143.5 L479.6,143.5 L479.7,143.5 L479.8,143.5 L479.9,143.5 L480.0,143.5 L480.1,143.5 L480.3,143.5 L480.4,143.5 L480.5,143.6 L480.6,143.6 L480.7,143.6 L480.8,143.6 L481.0,143.6 L481.1,143.6 L481.2,143.6 L481.3,143.6 L481.4,143.6 L481.5,143.6 L481.7,143.6 L481.8,143.7 L481.9,143.7 L482.0,143.7 L482.1,143.7 L482.2,143.7 L482.4,143.7 L482.5,143.7 L482.6,143.7 L482.7,143.7 L482.8,143.7 L482.9,143.7 L483.1,143.7 L483.2,143.8 L483.3,143.8 L483.4,143.8 L483.5,143.8 L483.6,143.8 L483.7,143.8 L483.9,143.8 L484.0,143.8 L484.1,143.8 L484.2,143.8 L484.3,143.8 L484.4,143.8 L484.6,143.8 L484.7,143.8 L484.8,143.8 L484.9,143.9 L485.0,143.9 L485.1,143.9 L485.3,143.9 L485.4,143.9 L485.5,143.9 L485.6,143.9 L485.7,143.9 L485.8,143.9 L486.0,143.9 L486.1,143.9 L486.2,143.9 L486.3,143.9 L486.4,143.9 L486.5,143.9 L486.7,143.9 L486.8,144.0 L486.9,144.0 L487.0,144.0 L487.1,144.0 L487.2,144.0 L487.4,144.0 L487.5,144.0 L487.6,144.0 L487.7,144.0 L487.8,144.0 L487.9,144.0 L488.1,144.0 L488.2,143.6 L488.3,143.1 L488.4,142.8 L488.5,142.4 L488.6,142.1 L488.7,141.8 L488.9,141.5 L489.0,141.2 L489.1,141.0 L489.2,140.8 L489.3,140.6 L489.4,140.4 L489.6,140.3 L489.7,140.1 L489.8,140.0 L489.9,139.8 L490.0,139.7 L490.1,139.6 L490.3,139.5 L490.4,139.4 L490.5,139.3 L490.6,139.3 L490.7,139.2 L490.8,139.1 L491.0,139.1 L491.1,139.0 L491.2,139.0 L491.3,138.9 L491.4,138.9 L491.5,138.9 L491.7,138.8 L491.8,138.8 L491.9,138.8 L492.0,138.7 L492.1,138.7 L492.2,138.7 L492.4,138.7 L492.5,138.7 L492.6,138.6 L492.7,138.6 L492.8,138.8 L492.9,139.0 L493.0,139.1 L493.2,139.3 L493.3,139.4 L493.4,139.5 L493.5,139.7 L493.6,139.8 L493.7,139.9 L493.9,140.0 L494.0,140.1 L494.1,140.2 L494.2,140.3 L494.3,140.4 L494.4,140.5 L494.6,140.6 L494.7,140.6 L494.8,140.7 L494.9,140.8 L495.0,140.9 L495.1,140.9 L495.3,141.0 L495.4,141.1 L495.5,141.1 L495.6,141.2 L495.7,141.2 L495.8,141.3 L496.0,141.4 L496.1,141.4 L496.2,141.5 L496.3,141.5 L496.4,141.5 L496.5,141.6 L496.7,141.6 L496.8,141.7 L496.9,141.7 L497.0,141.8 L497.1,141.8 L497.2,141.8 L497.4,141.9 L497.5,141.9 L497.6,141.9 L497.7,142.0 L497.8,142.0 L497.9,142.0 L498.0,142.1 L498.2,142.1 L498.3,142.1 L498.4,142.2 L498.5,142.2 L498.6,142.2 L498.7,142.2 L498.9,142.3 L499.0,142.3 L499.1,142.3 L499.2,142.3 L499.3,142.4 L499.4,142.4 L499.6,142.4 L499.7,142.4 L499.8,142.5 L499.9,142.5 L500.0,142.5 L500.1,142.5 L500.3,142.6 L500.4,142.6 L500.5,142.6 L500.6,142.6 L500.7,142.6 L500.8,142.7 L501.0,142.7 L501.1,142.7 L501.2,142.7 L501.3,142.7 L501.4,142.8 L501.5,142.8 L501.7,142.8 L501.8,142.8 L501.9,142.8 L502.0,142.8 L502.1,142.9 L502.2,142.9 L502.3,142.9 L502.5,142.9 L502.6,142.9 L502.7,142.9 L502.8,143.0 L502.9,143.0 L503.0,143.0 L503.2,143.0 L503.3,143.0 L503.4,143.0 L503.5,143.1 L503.6,143.1 L503.7,143.1 L503.9,143.1 L504.0,143.1 L504.1,143.1 L504.2,143.1 L504.3,143.2 L504.4,143.2 L504.6,143.2 L504.7,143.2 L504.8,143.2 L504.9,143.2 L505.0,143.2 L505.1,143.2 L505.3,143.3 L505.4,143.3 L505.5,143.3 L505.6,143.3 L505.7,143.3 L505.8,143.3 L506.0,143.3 L506.1,143.3 L506.2,143.4 L506.3,143.4 L506.4,143.4 L506.5,143.4 L506.7,143.4 L506.8,143.4 L506.9,143.4 L507.0,143.4 L507.1,143.4 L507.2,143.5 L507.3,143.5 L507.5,143.5 L507.6,143.5 L507.7,143.5 L507.8,143.5 L507.9,143.5 L508.0,143.5 L508.2,143.5 L508.3,143.5 L508.4,143.6 L508.5,143.6 L508.6,143.6 L508.7,143.6 L508.9,143.6 L509.0,143.6 L509.1,143.6 L509.2,143.6 L509.3,143.6 L509.4,143.6 L509.6,143.6 L509.7,143.7 L509.8,143.7 L509.9,143.7 L510.0,143.7 L510.1,143.7 L510.3,143.7 L510.4,143.7 L510.5,143.7 L510.6,143.7 L510.7,143.7 L510.8,143.7 L511.0,143.7 L511.1,143.7 L511.2,143.8 L511.3,143.8 L511.4,143.8 L511.5,143.8 L511.6,143.8 L511.8,143.8 L511.9,143.8 L512.0,143.8 L512.1,143.8 L512.2,143.8 L512.3,143.8 L512.5,143.8 L512.6,143.8 L512.7,143.8 L512.8,143.9 L512.9,143.9 L513.0,143.9 L513.2,143.9 L513.3,143.9 L513.4,143.9 L513.5,143.9 L513.6,143.9 L513.7,143.9 L513.9,143.9 L514.0,143.9 L514.1,143.9 L514.2,143.9 L514.3,143.9 L514.4,143.9 L514.6,143.9 L514.7,143.9 L514.8,144.0 L514.9,144.0 L515.0,144.0 L515.1,144.0 L515.3,144.0 L515.4,144.0 L515.5,144.0 L515.6,144.0 L515.7,144.0 L515.8,144.0 L516.0,144.0 L516.1,143.5 L516.2,143.1 L516.3,142.7 L516.4,142.4 L516.5,142.1 L516.6,141.8 L516.8,141.5 L516.9,141.2 L517.0,141.0 L517.1,140.8 L517.2,140.6 L517.3,140.4 L517.5,140.3 L517.6,140.1 L517.7,140.0 L517.8,139.8 L517.9,139.7 L518.0,139.6 L518.2,139.5 L518.3,139.4 L518.4,139.3 L518.5,139.3 L518.6,139.2 L518.7,139.1 L518.9,139.1 L519.0,139.0 L519.1,139.0 L519.2,138.9 L519.3,138.9 L519.4,138.9 L519.6,138.8 L519.7,138.8 L519.8,138.8 L519.9,138.7 L520.0,138.7 L520.1,138.7 L520.3,138.7 L520.4,138.7 L520.5,138.6 L520.6,138.6 L520.7,138.8 L520.8,139.0 L520.9,139.1 L521.1,139.3 L521.2,139.4 L521.3,139.5 L521.4,139.7 L521.5,139.8 L521.6,139.9 L521.8,140.0 L521.9,140.1 L522.0,140.2 L522.1,140.3 L522.2,140.4 L522.3,140.5 L522.5,140.6 L522.6,140.6 L522.7,140.7 L522.8,140.8 L522.9,140.9 L523.0,140.9 L523.2,141.0 L523.3,141.1 L523.4,141.1 L523.5,141.2 L523.6,141.2 L523.7,141.3 L523.9,141.3 L524.0,141.4 L524.1,141.4 L524.2,141.5 L524.3,141.5 L524.4,141.6 L524.6,141.6 L524.7,141.7 L524.8,141.7 L524.9,141.8 L525.0,141.8 L525.1,141.8 L525.2,141.9 L525.4,141.9 L525.5,141.9 L525.6,142.0 L525.7,142.0 L525.8,142.0 L525.9,142.1 L526.1,142.1 L526.2,142.1 L526.3,142.2 L526.4,142.2 L526.5,142.2 L526.6,142.2 L526.8,142.3 L526.9,142.3 L527.0,142.3 L527.1,142.3 L527.2,142.4 L527.3,142.4 L527.5,142.4 L527.6,142.4 L527.7,142.5 L527.8,142.5 L527.9,142.5 L528.0,142.5 L528.2,142.6 L528.3,142.6 L528.4,142.6 L528.5,142.6 L528.6,142.6 L528.7,142.7 L528.9,142.7 L529.0,142.7 L529.1,142.7 L529.2,142.7 L529.3,142.8 L529.4,142.8 L529.6,142.8 L529.7,142.8 L529.8,142.8 L529.9,142.8 L530.0,142.9 L530.1,142.9 L530.2,142.9 L530.4,142.9 L530.5,142.9 L530.6,142.9 L530.7,143.0 L530.8,143.0 L530.9,143.0 L531.1,143.0 L531.2,143.0 L531.3,143.0 L531.4,143.0 L531.5,143.1 L531.6,143.1 L531.8,143.1 L531.9,143.1 L532.0,143.1 L532.1,143.1 L532.2,143.1 L532.3,143.2 L532.5,143.2 L532.6,143.2 L532.7,143.2 L532.8,143.2 L532.9,143.2 L533.0,143.2 L533.2,143.3 L533.3,143.3 L533.4,143.3 L533.5,143.3 L533.6,143.3 L533.7,143.3 L533.9,143.3 L534.0,143.3 L534.1,143.4 L534.2,143.4 L534.3,143.4 L534.4,143.4 L534.6,143.4 L534.7,143.4 L534.8,143.4 L534.9,143.4 L535.0,143.4 L535.1,143.5 L535.2,143.5 L535.4,143.5 L535.5,143.5 L535.6,143.5 L535.7,143.5 L535.8,143.5 L535.9,143.5 L536.1,143.5 L536.2,143.5 L536.3,143.6 L536.4,143.6 L536.5,143.6 L536.6,143.6 L536.8,143.6 L536.9,143.6 L537.0,143.6 L537.1,143.6 L537.2,143.6 L537.3,143.6 L537.5,143.6 L537.6,143.6 L537.7,143.7 L537.8,143.7 L537.9,143.7 L538.0,143.7 L538.2,143.7 L538.3,143.7 L538.4,143.7 L538.5,143.7 L538.6,143.7 L538.7,143.7 L538.9,143.7 L539.0,143.7 L539.1,143.8 L539.2,143.8 L539.3,143.8 L539.4,143.8 L539.5,143.8 L539.7,143.8 L539.8,143.8 L539.9,143.8 L540.0,143.8 L540.1,143.8 L540.2,143.8 L540.4,143.8 L540.5,143.8 L540.6,143.8 L540.7,143.9 L540.8,143.9 L540.9,143.9 L541.1,143.9 L541.2,143.9 L541.3,143.9 L541.4,143.9 L541.5,143.9 L541.6,143.9 L541.8,143.9 L541.9,143.9 L542.0,143.9 L542.1,143.9 L542.2,143.9 L542.3,143.9 L542.5,143.9 L542.6,143.9 L542.7,144.0 L542.8,144.0 L542.9,144.0 L543.0,144.0 L543.2,144.0 L543.3,144.0 L543.4,144.0 L543.5,144.0 L543.6,144.0 L543.7,144.0 L543.9,144.0 L544.0,143.5 L544.1,143.1 L544.2,142.7 L544.3,142.4 L544.4,142.1 L544.5,141.8 L544.7,141.5 L544.8,141.2 L544.9,141.0 L545.0,140.8 L545.1,140.6 L545.2,140.4 L545.4,140.3 L545.5,140.1 L545.6,140.0 L545.7,139.8 L545.8,139.7 L545.9,139.6 L546.1,139.5 L546.2,139.4 L546.3,139.3 L546.4,139.3 L546.5,139.2 L546.6,139.1 L546.8,139.1 L546.9,139.0 L547.0,139.0 L547.1,138.9 L547.2,138.9 L547.3,138.9 L547.5,138.8 L547.6,138.8 L547.7,138.8 L547.8,138.7 L547.9,138.7 L548.0,138.7 L548.2,138.7 L548.3,138.7 L548.4,138.6 L548.5,138.6 L548.6,138.8 L548.7,139.0 L548.8,139.1 L549.0,139.3 L549.1,139.4 L549.2,139.5 L549.3,139.7 L549.4,139.8 L549.5,139.9 L549.7,140.0 L549.8,140.1 L549.9,140.2 L550.0,140.3 L550.1,140.4 L550.2,140.5 L550.4,140.6 L550.5,140.6 L550.6,140.7 L550.7,140.8 L550.8,140.9 L550.9,140.9 L551.1,141.0 L551.2,141.1 L551.3,141.1 L551.4,141.2 L551.5,141.2 L551.6,141.3 L551.8,141.3 L551.9,141.4 L552.0,141.4 L552.1,141.5 L552.2,141.5 L552.3,141.6 L552.5,141.6 L552.6,141.7 L552.7,141.7 L552.8,141.8 L552.9,141.8 L553.0,141.8 L553.2,141.9 L553.3,141.9 L553.4,141.9 L553.5,142.0 L553.6,142.0 L553.7,142.0 L553.8,142.1 L554.0,142.1 L554.1,142.1 L554.2,142.2 L554.3,142.2 L554.4,142.2 L554.5,142.2 L554.7,142.3 L554.8,142.3 L554.9,142.3 L555.0,142.3 L555.1,142.4 L555.2,142.4 L555.4,142.4 L555.5,142.4 L555.6,142.5 L555.7,142.5 L555.8,142.5 L555.9,142.5 L556.1,142.6 L556.2,142.6 L556.3,142.6 L556.4,142.6 L556.5,142.6 L556.6,142.7 L556.8,142.7 L556.9,142.7 L557.0,142.7 L557.1,142.7 L557.2,142.8 L557.3,142.8 L557.5,142.8 L557.6,142.8 L557.7,142.8 L557.8,142.8 L557.9,142.9 L558.0,142.9 L558.1,142.9 L558.3,142.9 L558.4,142.9 L558.5,142.9 L558.6,143.0 L558.7,143.0 L558.8,143.0 L559.0,143.0 L559.1,143.0 L559.2,143.0 L559.3,143.0 L559.4,143.1 L559.5,143.1 L559.7,143.1 L559.8,143.1 L559.9,143.1 L560.0,143.1 L560.1,143.1 L560.2,143.2 L560.4,143.2 L560.5,143.2 L560.6,143.2 L560.7,143.2 L560.8,143.2 L560.9,143.2 L561.1,143.3 L561.2,143.3 L561.3,143.3 L561.4,143.3 L561.5,143.3 L561.6,143.3 L561.8,143.3 L561.9,143.3 L562.0,143.4 L562.1,143.4 L562.2,143.4 L562.3,143.4 L562.5,143.4 L562.6,143.4 L562.7,143.4 L562.8,143.4 L562.9,143.4 L563.0,143.5 L563.1,143.5 L563.3,143.5 L563.4,143.5 L563.5,143.5 L563.6,143.5 L563.7,143.5 L563.8,143.5 L564.0,143.5 L564.1,143.5 L564.2,143.6 L564.3,143.6 L564.4,143.6 L564.5,143.6 L564.7,143.6 L564.8,143.6 L564.9,143.6 L565.0,143.6 L565.1,143.6 L565.2,143.6 L565.4,143.6 L565.5,143.6 L565.6,143.7 L565.7,143.7 L565.8,143.7 L565.9,143.7 L566.1,143.7 L566.2,143.7 L566.3,143.7 L566.4,143.7 L566.5,143.7 L566.6,143.7 L566.8,143.7 L566.9,143.7 L567.0,143.8 L567.1,143.8 L567.2,143.8 L567.3,143.8 L567.4,143.8 L567.6,143.8 L567.7,143.8 L567.8,143.8 L567.9,143.8 L568.0,143.8 L568.1,143.8 L568.3,143.8 L568.4,143.8 L568.5,143.8 L568.6,143.9 L568.7,143.9 L568.8,143.9 L569.0,143.9 L569.1,143.9 L569.2,143.9 L569.3,143.9 L569.4,143.9 L569.5,143.9 L569.7,143.9 L569.8,143.9 L569.9,143.9 L570.0,143.9 L570.1,143.9 L570.2,143.9 L570.4,143.9 L570.5,143.9 L570.6,144.0 L570.7,144.0 L570.8,144.0 L570.9,144.0 L571.1,144.0 L571.2,144.0 L571.3,144.0 L571.4,144.0 L571.5,144.0 L571.6,144.0 L571.8,144.0 L571.9,143.5 L572.0,143.1 L572.1,142.7 L572.2,142.4 L572.3,142.1 L572.4,141.8 L572.6,141.5 L572.7,141.2 L572.8,141.0 L572.9,140.8 L573.0,140.6 L573.1,140.4 L573.3,140.3 L573.4,140.1 L573.5,140.0 L573.6,139.8 L573.7,139.7 L573.8,139.6 L574.0,139.5 L574.1,139.4 L574.2,139.3 L574.3,139.3 L574.4,139.2 L574.5,139.1 L574.7,139.1 L574.8,139.0 L574.9,139.0 L575.0,138.9 L575.1,138.9 L575.2,138.9 L575.4,138.8 L575.5,138.8 L575.6,138.8 L575.7,138.7 L575.8,138.7 L575.9,138.7 L576.1,138.7 L576.2,138.7 L576.3,138.6 L576.4,138.6 L576.5,138.8 L576.6,139.0 L576.7,139.1 L576.9,139.3 L577.0,139.4 L577.1,139.5 L577.2,139.7 L577.3,139.8 L577.4,139.9 L577.6,140.0 L577.7,140.1 L577.8,140.2 L577.9,140.3 L578.0,140.4 L578.1,140.5 L578.3,140.6 L578.4,140.6 L578.5,140.7 L578.6,140.8 L578.7,140.9 L578.8,140.9 L579.0,141.0 L579.1,141.1 L579.2,141.1 L579.3,141.2 L579.4,141.2 L579.5,141.3 L579.7,141.3 L579.8,141.4 L579.9,141.4 L580.0,141.5 L580.1,141.5 L580.2,141.6 L580.4,141.6 L580.5,141.7 L580.6,141.7 L580.7,141.8 L580.8,141.8 L580.9,141.8 L581.1,141.9 L581.2,141.9 L581.3,141.9 L581.4,142.0 L581.5,142.0 L581.6,142.0 L581.7,142.1 L581.9,142.1 L582.0,142.1 L582.1,142.2 L582.2,142.2 L582.3,142.2 L582.4,142.2 L582.6,142.3 L582.7,142.3 L582.8,142.3 L582.9,142.3 L583.0,142.4 L583.1,142.4 L583.3,142.4 L583.4,142.4 L583.5,142.5 L583.6,142.5 L583.7,142.5 L583.8,142.5 L584.0,142.6 L584.1,142.6 L584.2,142.6 L584.3,142.6 L584.4,142.6 L584.5,142.7 L584.7,142.7 L584.8,142.7 L584.9,142.7 L585.0,142.7 L585.1,142.8 L585.2,142.8 L585.4,142.8 L585.5,142.8 L585.6,142.8 L585.7,142.8 L585.8,142.9 L585.9,142.9 L586.0,142.9 L586.2,142.9 L586.3,142.9 L586.4,142.9 L586.5,143.0 L586.6,143.0 L586.7,143.0 L586.9,143.0 L587.0,143.0 L587.1,143.0 L587.2,143.0 L587.3,143.1 L587.4,143.1 L587.6,143.1 L587.7,143.1 L587.8,143.1 L587.9,143.1 L588.0,143.1 L588.1,143.2 L588.3,143.2 L588.4,143.2 L588.5,143.2 L588.6,143.2 L588.7,143.2 L588.8,143.2 L589.0,143.3 L589.1,143.3 L589.2,143.3 L589.3,143.3 L589.4,143.3 L589.5,143.3 L589.7,143.3 L589.8,143.3 L589.9,143.4 L590.0,143.4 L590.1,143.4 L590.2,143.4 L590.4,143.4 L590.5,143.4 L590.6,143.4 L590.7,143.4 L590.8,143.4 L590.9,143.5 L591.0,143.5 L591.2,143.5 L591.3,143.5 L591.4,143.5 L591.5,143.5 L591.6,143.5 L591.7,143.5 L591.9,143.5 L592.0,143.5 L592.1,143.6 L592.2,143.6 L592.3,143.6 L592.4,143.6 L592.6,143.6 L592.7,143.6 L592.8,143.6 L592.9,143.6 L593.0,143.6 L593.1,143.6 L593.3,143.6 L593.4,143.6 L593.5,143.7 L593.6,143.7 L593.7,143.7 L593.8,143.7 L594.0,143.7 L594.1,143.7 L594.2,143.7 L594.3,143.7 L594.4,143.7 L594.5,143.7 L594.7,143.7 L594.8,143.7 L594.9,143.8 L595.0,143.8 L595.1,143.8 L595.2,143.8 L595.3,143.8 L595.5,143.8 L595.6,143.8 L595.7,143.8 L595.8,143.8 L595.9,143.8 L596.0,143.8 L596.2,143.8 L596.3,143.8 L596.4,143.8 L596.5,143.9 L596.6,143.9 L596.7,143.9 L596.9,143.9 L597.0,143.9 L597.1,143.9 L597.2,143.9 L597.3,143.9 L597.4,143.9 L597.6,143.9 L597.7,143.9 L597.8,143.9 L597.9,143.9 L598.0,143.9 L598.1,143.9 L598.3,143.9 L598.4,143.9 L598.5,144.0 L598.6,144.0 L598.7,144.0 L598.8,144.0 L599.0,144.0 L599.1,144.0 L599.2,144.0 L599.3,144.0 L599.4,144.0 L599.5,144.0 L599.7,144.0 L599.8,143.5 L599.9,143.1 L600.0,142.7 L600.1,142.4 L600.2,142.1 L600.3,141.8 L600.5,141.5 L600.6,141.2 L600.7,141.0 L600.8,140.8 L600.9,140.6 L601.0,140.4 L601.2,140.3 L601.3,140.1 L601.4,140.0 L601.5,139.8 L601.6,139.7 L601.7,139.6 L601.9,139.5 L602.0,139.4 L602.1,139.3 L602.2,139.3 L602.3,139.2 L602.4,139.1 L602.6,139.1 L602.7,139.0 L602.8,139.0 L602.9,138.9 L603.0,138.9 L603.1,138.9 L603.3,138.8 L603.4,138.8 L603.5,138.8 L603.6,138.7 L603.7,138.7 L603.8,138.7 L604.0,138.7 L604.1,138.7 L604.2,138.6 L604.3,138.6 L604.4,138.8 L604.5,139.0 L604.6,139.1 L604.8,139.3 L604.9,139.4 L605.0,139.5 L605.1,139.7 L605.2,139.8 L605.3,139.9 L605.5,140.0 L605.6,140.1 L605.7,140.2 L605.8,140.3 L605.9,140.4 L606.0,140.5 L606.2,140.6 L606.3,140.6 L606.4,140.7 L606.5,140.8 L606.6,140.9 L606.7,140.9 L606.9,141.0 L607.0,141.1 L607.1,141.1 L607.2,141.2 L607.3,141.2 L607.4,141.3 L607.6,141.3 L607.7,141.4 L607.8,141.4 L607.9,141.5 L608.0,141.5 L608.1,141.6 L608.3,141.6 L608.4,141.7 L608.5,141.7 L608.6,141.8 L608.7,141.8 L608.8,141.8 L609.0,141.9 L609.1,141.9 L609.2,141.9 L609.3,142.0 L609.4,142.0 L609.5,142.0 L609.6,142.1 L609.8,142.1 L609.9,142.1 L610.0,142.2 L610.1,142.2 L610.2,142.2 L610.3,142.2 L610.5,142.3 L610.6,142.3 L610.7,142.3 L610.8,142.3 L610.9,142.4 L611.0,142.4 L611.2,142.4 L611.3,142.4 L611.4,142.5 L611.5,142.5 L611.6,142.5 L611.7,142.5 L611.9,142.6 L612.0,142.6 L612.1,142.6 L612.2,142.6 L612.3,142.6 L612.4,142.7 L612.6,142.7 L612.7,142.7 L612.8,142.7 L612.9,142.7 L613.0,142.8 L613.1,142.8 L613.3,142.8 L613.4,142.8 L613.5,142.8 L613.6,142.8 L613.7,142.9 L613.8,142.9 L613.9,142.9 L614.1,142.9 L614.2,142.9 L614.3,142.9 L614.4,143.0 L614.5,143.0 L614.6,143.0 L614.8,143.0 L614.9,143.0 L615.0,143.0 L615.1,143.0 L615.2,143.1 L615.3,143.1 L615.5,143.1 L615.6,143.1 L615.7,143.1 L615.8,143.1 L615.9,143.1 L616.0,143.2 L616.2,143.2 L616.3,143.2 L616.4,143.2 L616.5,143.2 L616.6,143.2 L616.7,143.2 L616.9,143.3 L617.0,143.3 L617.1,143.3 L617.2,143.3 L617.3,143.3 L617.4,143.3 L617.6,143.3 L617.7,143.3 L617.8,143.4 L617.9,143.4 L618.0,143.4 L618.1,143.4 L618.2,143.4 L618.4,143.4 L618.5,143.4 L618.6,143.4 L618.7,143.4 L618.8,143.5 L618.9,143.5 L619.1,143.5 L619.2,143.5 L619.3,143.5 L619.4,143.5 L619.5,143.5 L619.6,143.5 L619.8,143.5 L619.9,143.5 L620.0,143.6 L620.1,143.6 L620.2,143.6 L620.3,143.6 L620.5,143.6 L620.6,143.6 L620.7,143.6 L620.8,143.6 L620.9,143.6 L621.0,143.6 L621.2,143.6 L621.3,143.6 L621.4,143.7 L621.5,143.7 L621.6,143.7 L621.7,143.7 L621.9,143.7 L622.0,143.7 L622.1,143.7 L622.2,143.7 L622.3,143.7 L622.4,143.7 L622.6,143.7 L622.7,143.7 L622.8,143.8 L622.9,143.8" fill="none" stroke="#7a1f2a" stroke-width="1.6" stroke-linejoin="round" stroke-linecap="round" />
<rect x="400.00" y="16.50" width="235.20" height="132.20" fill="none" stroke="#3a3a3a" stroke-width="1.2"/>
<line x1="635.20" y1="16.50" x2="635.20" y2="149.90" stroke="#d83a44" stroke-width="1.1" />
<line x1="632.70" y1="145.40" x2="635.20" y2="145.40" stroke="#d83a44" stroke-width="1.0" />
<text x="640.40" y="149.50" font-size="10" text-anchor="start" fill="#e02028" stroke="#e02028" font-weight="normal" >0</text>
<line x1="633.70" y1="123.92" x2="635.20" y2="123.92" stroke="#d83a44" stroke-width="1.0" />
<line x1="632.70" y1="102.43" x2="635.20" y2="102.43" stroke="#d83a44" stroke-width="1.0" />
<text x="640.40" y="106.53" font-size="10" text-anchor="start" fill="#e02028" stroke="#e02028" font-weight="normal" >2,000</text>
<line x1="633.70" y1="80.95" x2="635.20" y2="80.95" stroke="#d83a44" stroke-width="1.0" />
<line x1="632.70" y1="59.47" x2="635.20" y2="59.47" stroke="#d83a44" stroke-width="1.0" />
<text x="640.40" y="63.57" font-size="10" text-anchor="start" fill="#e02028" stroke="#e02028" font-weight="normal" >4,000</text>
<line x1="633.70" y1="37.98" x2="635.20" y2="37.98" stroke="#d83a44" stroke-width="1.0" />
<line x1="632.70" y1="16.50" x2="635.20" y2="16.50" stroke="#d83a44" stroke-width="1.0" />
<text x="640.40" y="20.60" font-size="10" text-anchor="start" fill="#e02028" stroke="#e02028" font-weight="normal" >6,000</text>
<text transform="translate(681.2,82.2) rotate(-90)" font-size="10" text-anchor="middle" fill="#e02028" stroke="#e02028">&#916;<tspan font-style="italic">G</tspan>/<tspan font-style="italic">G</tspan><tspan font-size="7" dy="2.5">0</tspan><tspan dy="-2.5"> (%)</tspan></text>
<text x="475.6" y="36.2" font-size="10" fill="#222" stroke="#222">NO<tspan font-size="6.4" dy="2.8">2</tspan><tspan dy="-2.8"> (500 p.p.b.)</tspan></text>
<circle cx="603.7" cy="43.3" r="5.9" fill="none" stroke="#e02028" stroke-width="0.9" stroke-dasharray="1.2,1.2"/>
<line x1="609.60" y1="43.30" x2="630.50" y2="43.30" stroke="#e02028" stroke-width="0.9" />
<path d="M632.5,43.3 L628.3,41.5 L628.3,45.1 Z" fill="#e02028"/>
<text x="606.00" y="55.50" font-size="9" text-anchor="start" fill="#e02028" stroke="#e02028" font-weight="normal" >4.8 nm</text>
<circle cx="603.7" cy="85.1" r="5.8" fill="none" stroke="#3528cc" stroke-width="0.9" stroke-dasharray="1.2,1.2"/>
<line x1="609.50" y1="85.30" x2="630.50" y2="85.30" stroke="#3528cc" stroke-width="0.9" />
<path d="M632.5,85.3 L628.3,83.5 L628.3,87.1 Z" fill="#3528cc"/>
<text x="610.40" y="94.40" font-size="9" text-anchor="start" fill="#3528cc" stroke="#3528cc" font-weight="normal" >6 nm</text>
<line x1="405.50" y1="103.70" x2="426.20" y2="103.70" stroke="#d42ad4" stroke-width="1.0" />
<line x1="427.60" y1="140.30" x2="431.50" y2="144.40" stroke="#d42ad4" stroke-width="1.3" />
<path d="M403.5,103.7 L407.7,101.9 L407.7,105.5 Z" fill="#d42ad4"/>
<text x="405.60" y="113.60" font-size="8.6" text-anchor="start" fill="#d42ad4" stroke="#d42ad4" font-weight="normal" >10 nm</text>
<text x="405.60" y="122.20" font-size="8.6" text-anchor="start" fill="#f0a050" stroke="#f0a050" font-weight="normal" >40 nm</text>
<text x="402.60" y="130.60" font-size="8.6" text-anchor="start" fill="#2a8a35" stroke="#2a8a35" font-weight="normal" >200 nm</text>
<text x="408.60" y="141.00" font-size="8.6" text-anchor="start" fill="#7a1f2a" stroke="#7a1f2a" font-weight="normal" >Bulk</text>
<text x="1.00" y="207.40" font-size="14" text-anchor="start" fill="#111" stroke="#111" font-weight="bold" >c</text>
<line x1="50.20" y1="339.00" x2="53.20" y2="339.00" stroke="#3a3a3a" stroke-width="1.2" />
<text x="46.60" y="343.50" font-size="10" text-anchor="end" fill="#222" stroke="#222" font-weight="normal" >0</text>
<line x1="221.50" y1="339.00" x2="219.00" y2="339.00" stroke="#3a3a3a" stroke-width="1.2" />
<line x1="51.20" y1="326.12" x2="53.20" y2="326.12" stroke="#3a3a3a" stroke-width="1.2" />
<line x1="221.50" y1="326.12" x2="220.00" y2="326.12" stroke="#3a3a3a" stroke-width="1.2" />
<line x1="50.20" y1="313.24" x2="53.20" y2="313.24" stroke="#3a3a3a" stroke-width="1.2" />
<text x="46.60" y="317.74" font-size="10" text-anchor="end" fill="#222" stroke="#222" font-weight="normal" >2,000</text>
<line x1="221.50" y1="313.24" x2="219.00" y2="313.24" stroke="#3a3a3a" stroke-width="1.2" />
<line x1="51.20" y1="300.36" x2="53.20" y2="300.36" stroke="#3a3a3a" stroke-width="1.2" />
<line x1="221.50" y1="300.36" x2="220.00" y2="300.36" stroke="#3a3a3a" stroke-width="1.2" />
<line x1="50.20" y1="287.48" x2="53.20" y2="287.48" stroke="#3a3a3a" stroke-width="1.2" />
<text x="46.60" y="291.98" font-size="10" text-anchor="end" fill="#222" stroke="#222" font-weight="normal" >4,000</text>
<line x1="221.50" y1="287.48" x2="219.00" y2="287.48" stroke="#3a3a3a" stroke-width="1.2" />
<line x1="51.20" y1="274.60" x2="53.20" y2="274.60" stroke="#3a3a3a" stroke-width="1.2" />
<line x1="221.50" y1="274.60" x2="220.00" y2="274.60" stroke="#3a3a3a" stroke-width="1.2" />
<line x1="50.20" y1="261.72" x2="53.20" y2="261.72" stroke="#3a3a3a" stroke-width="1.2" />
<text x="46.60" y="266.22" font-size="10" text-anchor="end" fill="#222" stroke="#222" font-weight="normal" >6,000</text>
<line x1="221.50" y1="261.72" x2="219.00" y2="261.72" stroke="#3a3a3a" stroke-width="1.2" />
<line x1="51.20" y1="248.84" x2="53.20" y2="248.84" stroke="#3a3a3a" stroke-width="1.2" />
<line x1="221.50" y1="248.84" x2="220.00" y2="248.84" stroke="#3a3a3a" stroke-width="1.2" />
<line x1="50.20" y1="235.96" x2="53.20" y2="235.96" stroke="#3a3a3a" stroke-width="1.2" />
<text x="46.60" y="240.46" font-size="10" text-anchor="end" fill="#222" stroke="#222" font-weight="normal" >8,000</text>
<line x1="221.50" y1="235.96" x2="219.00" y2="235.96" stroke="#3a3a3a" stroke-width="1.2" />
<line x1="51.20" y1="223.08" x2="53.20" y2="223.08" stroke="#3a3a3a" stroke-width="1.2" />
<line x1="221.50" y1="223.08" x2="220.00" y2="223.08" stroke="#3a3a3a" stroke-width="1.2" />
<line x1="50.20" y1="210.20" x2="53.20" y2="210.20" stroke="#3a3a3a" stroke-width="1.2" />
<text x="46.60" y="214.70" font-size="10" text-anchor="end" fill="#222" stroke="#222" font-weight="normal" >10,000</text>
<line x1="221.50" y1="210.20" x2="219.00" y2="210.20" stroke="#3a3a3a" stroke-width="1.2" />
<line x1="53.15" y1="344.90" x2="53.15" y2="346.90" stroke="#3a3a3a" stroke-width="1.2" />
<line x1="67.20" y1="344.90" x2="67.20" y2="347.90" stroke="#3a3a3a" stroke-width="1.2" />
<text x="67.20" y="360.30" font-size="10" text-anchor="middle" fill="#222" stroke="#222" font-weight="normal" >0</text>
<line x1="81.25" y1="344.90" x2="81.25" y2="346.90" stroke="#3a3a3a" stroke-width="1.2" />
<line x1="95.30" y1="344.90" x2="95.30" y2="347.90" stroke="#3a3a3a" stroke-width="1.2" />
<text x="95.30" y="360.30" font-size="10" text-anchor="middle" fill="#222" stroke="#222" font-weight="normal" >200</text>
<line x1="109.35" y1="344.90" x2="109.35" y2="346.90" stroke="#3a3a3a" stroke-width="1.2" />
<line x1="123.40" y1="344.90" x2="123.40" y2="347.90" stroke="#3a3a3a" stroke-width="1.2" />
<text x="123.40" y="360.30" font-size="10" text-anchor="middle" fill="#222" stroke="#222" font-weight="normal" >400</text>
<line x1="137.45" y1="344.90" x2="137.45" y2="346.90" stroke="#3a3a3a" stroke-width="1.2" />
<line x1="151.50" y1="344.90" x2="151.50" y2="347.90" stroke="#3a3a3a" stroke-width="1.2" />
<text x="151.50" y="360.30" font-size="10" text-anchor="middle" fill="#222" stroke="#222" font-weight="normal" >600</text>
<line x1="165.55" y1="344.90" x2="165.55" y2="346.90" stroke="#3a3a3a" stroke-width="1.2" />
<line x1="179.60" y1="344.90" x2="179.60" y2="347.90" stroke="#3a3a3a" stroke-width="1.2" />
<text x="179.60" y="360.30" font-size="10" text-anchor="middle" fill="#222" stroke="#222" font-weight="normal" >800</text>
<line x1="193.65" y1="344.90" x2="193.65" y2="346.90" stroke="#3a3a3a" stroke-width="1.2" />
<line x1="207.70" y1="344.90" x2="207.70" y2="347.90" stroke="#3a3a3a" stroke-width="1.2" />
<text x="207.70" y="360.30" font-size="10" text-anchor="middle" fill="#222" stroke="#222" font-weight="normal" >1,000</text>
<line x1="221.75" y1="344.90" x2="221.75" y2="346.90" stroke="#3a3a3a" stroke-width="1.2" />
<text x="136.0" y="374.7" font-size="10" text-anchor="middle" fill="#222" stroke="#222">NO<tspan font-size="6.4" dy="2.8">2</tspan><tspan dy="-2.8"> concentration (p.p.b.)</tspan></text>
<text transform="translate(9.50,280.60) rotate(-90)" font-size="10" text-anchor="middle" fill="#222" stroke="#222">&#916;<tspan font-style="italic">G</tspan>/<tspan font-style="italic">G</tspan><tspan font-size="7.00" dy="2.5">0</tspan><tspan dy="-2.5"> (%)</tspan></text>
<rect x="53.20" y="210.40" width="168.30" height="134.50" fill="none" stroke="#3a3a3a" stroke-width="1.2"/>
<polygon points="70.01,332.71 73.43,335.20 72.13,339.22 67.89,339.22 66.59,335.20" fill="#111" stroke="#111" stroke-width="0.6"/>
<polygon points="74.23,327.31 77.65,329.80 76.34,333.82 72.11,333.82 70.80,329.80" fill="#111" stroke="#111" stroke-width="0.6"/>
<polygon points="78.44,320.59 81.86,323.08 80.56,327.10 76.32,327.10 75.02,323.08" fill="#111" stroke="#111" stroke-width="0.6"/>
<polygon points="81.25,315.05 84.67,317.54 83.37,321.56 79.13,321.56 77.83,317.54" fill="#111" stroke="#111" stroke-width="0.6"/>
<polygon points="95.30,290.96 98.72,293.45 97.42,297.48 93.18,297.48 91.88,293.45" fill="#111" stroke="#111" stroke-width="0.6"/>
<polygon points="137.45,266.49 140.87,268.98 139.57,273.00 135.33,273.00 134.03,268.98" fill="#111" stroke="#111" stroke-width="0.6"/>
<polygon points="179.60,242.34 183.02,244.83 181.72,248.85 177.48,248.85 176.18,244.83" fill="#111" stroke="#111" stroke-width="0.6"/>
<polygon points="207.70,223.47 211.12,225.96 209.82,229.99 205.58,229.99 204.28,225.96" fill="#111" stroke="#111" stroke-width="0.6"/>
<path d="M70.0,336.3 L74.2,330.9 L78.4,324.2 L81.2,318.6 L95.3,294.6" fill="none" stroke="#c8202a" stroke-width="1.3" stroke-linejoin="round" stroke-linecap="round" stroke-opacity="0.9"/>
<path d="M95.3,294.6 L137.4,270.1 L179.6,245.9 L207.7,227.1" fill="none" stroke="#2424c0" stroke-width="1.5" stroke-linejoin="round" stroke-linecap="round" stroke-opacity="0.85"/>
<text x="238.40" y="207.60" font-size="14" text-anchor="start" fill="#111" stroke="#111" font-weight="bold" >d</text>
<line x1="273.20" y1="344.80" x2="276.20" y2="344.80" stroke="#3a3a3a" stroke-width="1.2" />
<text x="265.2" y="348.20" font-size="9.2" text-anchor="end" fill="#222" stroke="#222">10</text>
<text x="265.6" y="343.80" font-size="6.2" fill="#222" stroke="#222">1</text>
<line x1="274.60" y1="330.86" x2="276.20" y2="330.86" stroke="#3a3a3a" stroke-width="0.9" />
<line x1="274.60" y1="322.71" x2="276.20" y2="322.71" stroke="#3a3a3a" stroke-width="0.9" />
<line x1="274.60" y1="316.92" x2="276.20" y2="316.92" stroke="#3a3a3a" stroke-width="0.9" />
<line x1="274.60" y1="312.44" x2="276.20" y2="312.44" stroke="#3a3a3a" stroke-width="0.9" />
<line x1="274.60" y1="308.77" x2="276.20" y2="308.77" stroke="#3a3a3a" stroke-width="0.9" />
<line x1="274.60" y1="305.67" x2="276.20" y2="305.67" stroke="#3a3a3a" stroke-width="0.9" />
<line x1="274.60" y1="302.99" x2="276.20" y2="302.99" stroke="#3a3a3a" stroke-width="0.9" />
<line x1="274.60" y1="300.62" x2="276.20" y2="300.62" stroke="#3a3a3a" stroke-width="0.9" />
<line x1="273.20" y1="298.50" x2="276.20" y2="298.50" stroke="#3a3a3a" stroke-width="1.2" />
<text x="265.2" y="301.90" font-size="9.2" text-anchor="end" fill="#222" stroke="#222">10</text>
<text x="265.6" y="297.50" font-size="6.2" fill="#222" stroke="#222">2</text>
<line x1="274.60" y1="284.56" x2="276.20" y2="284.56" stroke="#3a3a3a" stroke-width="0.9" />
<line x1="274.60" y1="276.41" x2="276.20" y2="276.41" stroke="#3a3a3a" stroke-width="0.9" />
<line x1="274.60" y1="270.62" x2="276.20" y2="270.62" stroke="#3a3a3a" stroke-width="0.9" />
<line x1="274.60" y1="266.14" x2="276.20" y2="266.14" stroke="#3a3a3a" stroke-width="0.9" />
<line x1="274.60" y1="262.47" x2="276.20" y2="262.47" stroke="#3a3a3a" stroke-width="0.9" />
<line x1="274.60" y1="259.37" x2="276.20" y2="259.37" stroke="#3a3a3a" stroke-width="0.9" />
<line x1="274.60" y1="256.69" x2="276.20" y2="256.69" stroke="#3a3a3a" stroke-width="0.9" />
<line x1="274.60" y1="254.32" x2="276.20" y2="254.32" stroke="#3a3a3a" stroke-width="0.9" />
<line x1="273.20" y1="252.20" x2="276.20" y2="252.20" stroke="#3a3a3a" stroke-width="1.2" />
<text x="265.2" y="255.60" font-size="9.2" text-anchor="end" fill="#222" stroke="#222">10</text>
<text x="265.6" y="251.20" font-size="6.2" fill="#222" stroke="#222">3</text>
<line x1="274.60" y1="238.26" x2="276.20" y2="238.26" stroke="#3a3a3a" stroke-width="0.9" />
<line x1="274.60" y1="230.11" x2="276.20" y2="230.11" stroke="#3a3a3a" stroke-width="0.9" />
<line x1="274.60" y1="224.32" x2="276.20" y2="224.32" stroke="#3a3a3a" stroke-width="0.9" />
<line x1="274.60" y1="219.84" x2="276.20" y2="219.84" stroke="#3a3a3a" stroke-width="0.9" />
<line x1="274.60" y1="216.17" x2="276.20" y2="216.17" stroke="#3a3a3a" stroke-width="0.9" />
<line x1="274.60" y1="213.07" x2="276.20" y2="213.07" stroke="#3a3a3a" stroke-width="0.9" />
<line x1="276.20" y1="344.80" x2="276.20" y2="347.80" stroke="#3a3a3a" stroke-width="1.2" />
<text x="276.20" y="359.00" font-size="10" text-anchor="middle" fill="#222" stroke="#222" font-weight="normal" >1</text>
<line x1="291.43" y1="344.80" x2="291.43" y2="346.40" stroke="#3a3a3a" stroke-width="0.9" />
<line x1="300.34" y1="344.80" x2="300.34" y2="346.40" stroke="#3a3a3a" stroke-width="0.9" />
<line x1="306.66" y1="344.80" x2="306.66" y2="346.40" stroke="#3a3a3a" stroke-width="0.9" />
<line x1="311.57" y1="344.80" x2="311.57" y2="346.40" stroke="#3a3a3a" stroke-width="0.9" />
<line x1="315.57" y1="344.80" x2="315.57" y2="346.40" stroke="#3a3a3a" stroke-width="0.9" />
<line x1="318.96" y1="344.80" x2="318.96" y2="346.40" stroke="#3a3a3a" stroke-width="0.9" />
<line x1="321.90" y1="344.80" x2="321.90" y2="346.40" stroke="#3a3a3a" stroke-width="0.9" />
<line x1="324.48" y1="344.80" x2="324.48" y2="346.40" stroke="#3a3a3a" stroke-width="0.9" />
<line x1="326.80" y1="344.80" x2="326.80" y2="347.80" stroke="#3a3a3a" stroke-width="1.2" />
<text x="326.80" y="359.00" font-size="10" text-anchor="middle" fill="#222" stroke="#222" font-weight="normal" >10</text>
<line x1="342.03" y1="344.80" x2="342.03" y2="346.40" stroke="#3a3a3a" stroke-width="0.9" />
<line x1="350.94" y1="344.80" x2="350.94" y2="346.40" stroke="#3a3a3a" stroke-width="0.9" />
<line x1="357.26" y1="344.80" x2="357.26" y2="346.40" stroke="#3a3a3a" stroke-width="0.9" />
<line x1="362.17" y1="344.80" x2="362.17" y2="346.40" stroke="#3a3a3a" stroke-width="0.9" />
<line x1="366.17" y1="344.80" x2="366.17" y2="346.40" stroke="#3a3a3a" stroke-width="0.9" />
<line x1="369.56" y1="344.80" x2="369.56" y2="346.40" stroke="#3a3a3a" stroke-width="0.9" />
<line x1="372.50" y1="344.80" x2="372.50" y2="346.40" stroke="#3a3a3a" stroke-width="0.9" />
<line x1="375.08" y1="344.80" x2="375.08" y2="346.40" stroke="#3a3a3a" stroke-width="0.9" />
<line x1="377.40" y1="344.80" x2="377.40" y2="347.80" stroke="#3a3a3a" stroke-width="1.2" />
<text x="377.40" y="359.00" font-size="10" text-anchor="middle" fill="#222" stroke="#222" font-weight="normal" >100</text>
<line x1="392.63" y1="344.80" x2="392.63" y2="346.40" stroke="#3a3a3a" stroke-width="0.9" />
<line x1="401.54" y1="344.80" x2="401.54" y2="346.40" stroke="#3a3a3a" stroke-width="0.9" />
<line x1="407.86" y1="344.80" x2="407.86" y2="346.40" stroke="#3a3a3a" stroke-width="0.9" />
<line x1="412.77" y1="344.80" x2="412.77" y2="346.40" stroke="#3a3a3a" stroke-width="0.9" />
<line x1="416.77" y1="344.80" x2="416.77" y2="346.40" stroke="#3a3a3a" stroke-width="0.9" />
<line x1="420.16" y1="344.80" x2="420.16" y2="346.40" stroke="#3a3a3a" stroke-width="0.9" />
<line x1="423.10" y1="344.80" x2="423.10" y2="346.40" stroke="#3a3a3a" stroke-width="0.9" />
<line x1="425.68" y1="344.80" x2="425.68" y2="346.40" stroke="#3a3a3a" stroke-width="0.9" />
<line x1="428.00" y1="344.80" x2="428.00" y2="347.80" stroke="#3a3a3a" stroke-width="1.2" />
<text x="429.00" y="359.00" font-size="10" text-anchor="middle" fill="#222" stroke="#222" font-weight="normal" >1,000</text>
<text x="359.60" y="374.60" font-size="10" text-anchor="middle" fill="#222" stroke="#222" font-weight="normal" >Thickness (nm)</text>
<text transform="translate(247.00,278.50) rotate(-90)" font-size="10" text-anchor="middle" fill="#222" stroke="#222">&#916;<tspan font-style="italic">G</tspan>/<tspan font-style="italic">G</tspan><tspan font-size="7.00" dy="2.5">0</tspan><tspan dy="-2.5"> (%)</tspan></text>
<rect x="276.20" y="210.70" width="166.90" height="134.10" fill="none" stroke="#3a3a3a" stroke-width="1.2"/>
<path d="M301.6,302.3 L306.9,290.5 L311.6,233.0 L312.6,229.2 L313.6,228.4 L314.8,230.0 L319.3,256.2 L323.2,285.5 L325.2,292.5 L327.8,296.8 L334.4,299.6 L357.3,309.3 L392.6,324.4 L428.0,337.9" fill="none" stroke="#2a2ac8" stroke-width="1.9" stroke-linejoin="round" stroke-linecap="round" stroke-dasharray="4.2,2.8" stroke-linecap="butt"/>
<line x1="301.55" y1="299.99" x2="301.55" y2="305.99" stroke="#d8343c" stroke-width="0.9" />
<line x1="300.15" y1="299.99" x2="302.95" y2="299.99" stroke="#d8343c" stroke-width="0.9" />
<line x1="300.15" y1="305.99" x2="302.95" y2="305.99" stroke="#d8343c" stroke-width="0.9" />
<ellipse cx="301.55" cy="302.99" rx="1.9" ry="1.4" fill="#b02830"/>
<circle cx="301.55" cy="302.99" r="1.1" fill="#300808"/>
<line x1="306.88" y1="288.68" x2="306.88" y2="292.28" stroke="#d8343c" stroke-width="0.9" />
<line x1="305.48" y1="288.68" x2="308.28" y2="288.68" stroke="#d8343c" stroke-width="0.9" />
<line x1="305.48" y1="292.28" x2="308.28" y2="292.28" stroke="#d8343c" stroke-width="0.9" />
<ellipse cx="306.88" cy="290.48" rx="1.9" ry="1.4" fill="#b02830"/>
<circle cx="306.88" cy="290.48" r="1.1" fill="#300808"/>
<line x1="310.02" y1="219.71" x2="310.02" y2="223.31" stroke="#d8343c" stroke-width="0.9" />
<line x1="308.62" y1="219.71" x2="311.42" y2="219.71" stroke="#d8343c" stroke-width="0.9" />
<line x1="308.62" y1="223.31" x2="311.42" y2="223.31" stroke="#d8343c" stroke-width="0.9" />
<ellipse cx="310.02" cy="221.51" rx="1.9" ry="1.4" fill="#b02830"/>
<circle cx="310.02" cy="221.51" r="1.1" fill="#300808"/>
<line x1="314.79" y1="228.38" x2="314.79" y2="231.98" stroke="#d8343c" stroke-width="0.9" />
<line x1="313.39" y1="228.38" x2="316.19" y2="228.38" stroke="#d8343c" stroke-width="0.9" />
<line x1="313.39" y1="231.98" x2="316.19" y2="231.98" stroke="#d8343c" stroke-width="0.9" />
<ellipse cx="314.79" cy="230.18" rx="1.9" ry="1.4" fill="#b02830"/>
<circle cx="314.79" cy="230.18" r="1.1" fill="#300808"/>
<line x1="319.30" y1="253.67" x2="319.30" y2="257.27" stroke="#d8343c" stroke-width="0.9" />
<line x1="317.90" y1="253.67" x2="320.70" y2="253.67" stroke="#d8343c" stroke-width="0.9" />
<line x1="317.90" y1="257.27" x2="320.70" y2="257.27" stroke="#d8343c" stroke-width="0.9" />
<ellipse cx="319.30" cy="255.47" rx="1.9" ry="1.4" fill="#b02830"/>
<circle cx="319.30" cy="255.47" r="1.1" fill="#300808"/>
<line x1="326.31" y1="295.91" x2="326.31" y2="299.51" stroke="#d8343c" stroke-width="0.9" />
<line x1="324.91" y1="295.91" x2="327.71" y2="295.91" stroke="#d8343c" stroke-width="0.9" />
<line x1="324.91" y1="299.51" x2="327.71" y2="299.51" stroke="#d8343c" stroke-width="0.9" />
<ellipse cx="326.31" cy="297.71" rx="1.9" ry="1.4" fill="#b02830"/>
<circle cx="326.31" cy="297.71" r="1.1" fill="#300808"/>
<line x1="334.89" y1="297.52" x2="334.89" y2="301.12" stroke="#d8343c" stroke-width="0.9" />
<line x1="333.49" y1="297.52" x2="336.29" y2="297.52" stroke="#d8343c" stroke-width="0.9" />
<line x1="333.49" y1="301.12" x2="336.29" y2="301.12" stroke="#d8343c" stroke-width="0.9" />
<ellipse cx="334.89" cy="299.32" rx="1.9" ry="1.4" fill="#b02830"/>
<circle cx="334.89" cy="299.32" r="1.1" fill="#300808"/>
<line x1="357.26" y1="307.52" x2="357.26" y2="311.12" stroke="#d8343c" stroke-width="0.9" />
<line x1="355.86" y1="307.52" x2="358.66" y2="307.52" stroke="#d8343c" stroke-width="0.9" />
<line x1="355.86" y1="311.12" x2="358.66" y2="311.12" stroke="#d8343c" stroke-width="0.9" />
<ellipse cx="357.26" cy="309.32" rx="1.9" ry="1.4" fill="#b02830"/>
<circle cx="357.26" cy="309.32" r="1.1" fill="#300808"/>
<line x1="392.63" y1="322.59" x2="392.63" y2="326.19" stroke="#d8343c" stroke-width="0.9" />
<line x1="391.23" y1="322.59" x2="394.03" y2="322.59" stroke="#d8343c" stroke-width="0.9" />
<line x1="391.23" y1="326.19" x2="394.03" y2="326.19" stroke="#d8343c" stroke-width="0.9" />
<ellipse cx="392.63" cy="324.39" rx="1.9" ry="1.4" fill="#b02830"/>
<circle cx="392.63" cy="324.39" r="1.1" fill="#300808"/>
<line x1="428.00" y1="335.09" x2="428.00" y2="340.69" stroke="#d8343c" stroke-width="0.9" />
<line x1="426.60" y1="335.09" x2="429.40" y2="335.09" stroke="#d8343c" stroke-width="0.9" />
<line x1="426.60" y1="340.69" x2="429.40" y2="340.69" stroke="#d8343c" stroke-width="0.9" />
<ellipse cx="428.00" cy="337.89" rx="1.9" ry="1.4" fill="#b02830"/>
<circle cx="428.00" cy="337.89" r="1.1" fill="#300808"/>
<text x="460.20" y="207.60" font-size="14" text-anchor="start" fill="#111" stroke="#111" font-weight="bold" >e</text>
<line x1="505.80" y1="342.10" x2="507.80" y2="342.10" stroke="#3a3a3a" stroke-width="1.2" />
<line x1="504.80" y1="327.50" x2="507.80" y2="327.50" stroke="#3a3a3a" stroke-width="1.2" />
<text x="502.40" y="331.30" font-size="10" text-anchor="end" fill="#222" stroke="#222" font-weight="normal" >0</text>
<line x1="505.80" y1="312.90" x2="507.80" y2="312.90" stroke="#3a3a3a" stroke-width="1.2" />
<line x1="504.80" y1="298.30" x2="507.80" y2="298.30" stroke="#3a3a3a" stroke-width="1.2" />
<text x="502.40" y="302.10" font-size="10" text-anchor="end" fill="#222" stroke="#222" font-weight="normal" >500</text>
<line x1="505.80" y1="283.70" x2="507.80" y2="283.70" stroke="#3a3a3a" stroke-width="1.2" />
<line x1="504.80" y1="269.10" x2="507.80" y2="269.10" stroke="#3a3a3a" stroke-width="1.2" />
<text x="502.40" y="272.90" font-size="10" text-anchor="end" fill="#222" stroke="#222" font-weight="normal" >1,000</text>
<line x1="505.80" y1="254.50" x2="507.80" y2="254.50" stroke="#3a3a3a" stroke-width="1.2" />
<line x1="504.80" y1="239.90" x2="507.80" y2="239.90" stroke="#3a3a3a" stroke-width="1.2" />
<text x="502.40" y="243.70" font-size="10" text-anchor="end" fill="#222" stroke="#222" font-weight="normal" >1,500</text>
<line x1="505.80" y1="225.30" x2="507.80" y2="225.30" stroke="#3a3a3a" stroke-width="1.2" />
<line x1="504.80" y1="210.70" x2="507.80" y2="210.70" stroke="#3a3a3a" stroke-width="1.2" />
<text x="502.40" y="214.50" font-size="10" text-anchor="end" fill="#222" stroke="#222" font-weight="normal" >2,000</text>
<line x1="508.00" y1="345.40" x2="508.00" y2="348.40" stroke="#3a3a3a" stroke-width="1.2" />
<text x="508.00" y="359.40" font-size="10" text-anchor="middle" fill="#222" stroke="#222" font-weight="normal" >0</text>
<line x1="528.10" y1="345.40" x2="528.10" y2="347.40" stroke="#3a3a3a" stroke-width="1.2" />
<line x1="548.20" y1="345.40" x2="548.20" y2="348.40" stroke="#3a3a3a" stroke-width="1.2" />
<text x="548.20" y="359.40" font-size="10" text-anchor="middle" fill="#222" stroke="#222" font-weight="normal" >40</text>
<line x1="568.30" y1="345.40" x2="568.30" y2="347.40" stroke="#3a3a3a" stroke-width="1.2" />
<line x1="588.40" y1="345.40" x2="588.40" y2="348.40" stroke="#3a3a3a" stroke-width="1.2" />
<text x="588.40" y="359.40" font-size="10" text-anchor="middle" fill="#222" stroke="#222" font-weight="normal" >80</text>
<line x1="608.50" y1="345.40" x2="608.50" y2="347.40" stroke="#3a3a3a" stroke-width="1.2" />
<line x1="628.60" y1="345.40" x2="628.60" y2="348.40" stroke="#3a3a3a" stroke-width="1.2" />
<text x="628.60" y="359.40" font-size="10" text-anchor="middle" fill="#222" stroke="#222" font-weight="normal" >120</text>
<line x1="648.70" y1="345.40" x2="648.70" y2="347.40" stroke="#3a3a3a" stroke-width="1.2" />
<line x1="668.80" y1="345.40" x2="668.80" y2="348.40" stroke="#3a3a3a" stroke-width="1.2" />
<text x="668.80" y="359.40" font-size="10" text-anchor="middle" fill="#222" stroke="#222" font-weight="normal" >160</text>
<text x="591.00" y="376.00" font-size="10" text-anchor="middle" fill="#222" stroke="#222" font-weight="normal" >Time (min)</text>
<text transform="translate(469.70,279.40) rotate(-90)" font-size="10" text-anchor="middle" fill="#222" stroke="#222">&#916;<tspan font-style="italic">G</tspan>/<tspan font-style="italic">G</tspan><tspan font-size="7.00" dy="2.5">0</tspan><tspan dy="-2.5"> (%)</tspan></text>
<rect x="507.80" y="210.70" width="168.00" height="134.70" fill="none" stroke="#3a3a3a" stroke-width="1.2"/>
<path d="M518.05,344.40 L518.05,311.4 L527.60,311.4 L527.60,344.40" fill="none" stroke="#3d3dc8" stroke-width="1.0" stroke-dasharray="3,2"/>
<path d="M557.85,344.40 L557.85,311.4 L567.40,311.4 L567.40,344.40" fill="none" stroke="#dc44b4" stroke-width="1.0" stroke-dasharray="3,2"/>
<path d="M597.34,344.40 L597.34,311.4 L606.89,311.4 L606.89,344.40" fill="none" stroke="#f0a050" stroke-width="1.0" stroke-dasharray="3,2"/>
<path d="M631.41,344.40 L631.41,311.4 L640.96,311.4 L640.96,344.40" fill="none" stroke="#e0404a" stroke-width="1.0" stroke-dasharray="3,2"/>
<path d="M508.0,327.6 L508.4,327.7 L508.8,327.3 L509.2,326.9 L509.6,326.9 L510.0,327.1 L510.4,327.6 L510.8,327.4 L511.2,327.5 L511.6,328.0 L512.0,327.1 L512.4,327.2 L512.8,327.7 L513.2,326.9 L513.6,326.9 L514.0,327.3 L514.4,327.0 L514.8,327.3 L515.2,327.2 L515.6,327.6 L516.0,327.6 L516.4,327.1 L516.8,327.6 L517.2,327.5 L517.6,327.1 L518.0,331.6 L518.5,330.7 L518.9,330.5 L519.3,330.3 L519.7,330.8 L520.1,331.0 L520.5,330.8 L520.9,330.2 L521.3,330.0 L521.7,329.6 L522.1,330.3 L522.5,330.1 L522.9,329.7 L523.3,330.0 L523.7,329.7 L524.1,330.2 L524.5,329.9 L524.9,329.3 L525.3,330.0 L525.7,328.9 L526.1,329.4 L526.5,329.2 L526.9,328.9 L527.3,328.7 L527.7,329.5 L528.1,328.5 L528.5,329.1 L528.9,329.5 L529.3,328.5 L529.7,328.5 L530.1,329.0 L530.5,328.8 L530.9,328.9 L531.3,329.1 L531.7,328.3 L532.1,328.4 L532.5,328.4 L532.9,328.0 L533.3,329.0 L533.7,328.8 L534.1,328.7 L534.5,327.8 L534.9,328.8 L535.3,328.7 L535.7,328.3 L536.1,328.6 L536.5,328.2 L536.9,327.9 L537.3,327.8 L537.7,327.9 L538.1,327.6 L538.6,328.0 L539.0,328.4 L539.4,328.4 L539.8,328.5 L540.2,328.3 L540.6,327.8 L541.0,328.1 L541.4,327.9 L541.8,328.4 L542.2,328.0 L542.6,327.7 L543.0,328.1 L543.4,328.5 L543.8,327.6 L544.2,328.4 L544.6,327.3 L545.0,327.6 L545.4,327.6 L545.8,328.2 L546.2,328.4 L546.6,328.1 L547.0,327.6 L547.4,328.3 L547.8,327.6 L548.2,327.5 L548.6,328.3 L549.0,327.9 L549.4,328.0 L549.8,328.0 L550.2,328.3 L550.6,327.7 L551.0,328.1 L551.4,328.0 L551.8,328.1 L552.2,327.6 L552.6,328.0 L553.0,327.8 L553.4,327.5 L553.8,327.3 L554.2,327.8 L554.6,327.2 L555.0,328.2 L555.4,327.2 L555.8,327.1 L556.2,327.2 L556.6,328.2 L557.0,327.5 L557.4,327.2 L557.8,327.1 L558.2,329.3 L558.7,329.9 L559.1,329.7 L559.5,329.7 L559.9,329.7 L560.3,328.7 L560.7,329.3 L561.1,328.9 L561.5,329.4 L561.9,329.3 L562.3,329.3 L562.7,328.2 L563.1,329.1 L563.5,329.1 L563.9,329.1 L564.3,328.0 L564.7,328.1 L565.1,327.9 L565.5,327.8 L565.9,328.7 L566.3,328.6 L566.7,328.4 L567.1,328.6 L567.5,328.3 L567.9,327.9 L568.3,327.6 L568.7,327.6 L569.1,328.3 L569.5,327.6 L569.9,327.8 L570.3,327.9 L570.7,327.3 L571.1,327.6 L571.5,327.6 L571.9,328.1 L572.3,327.7 L572.7,327.6 L573.1,328.4 L573.5,327.8 L573.9,328.2 L574.3,327.9 L574.7,327.2 L575.1,327.6 L575.5,327.6 L575.9,328.0 L576.3,327.5 L576.7,327.9 L577.1,327.7 L577.5,327.3 L577.9,328.1 L578.3,327.2 L578.8,328.0 L579.2,327.2 L579.6,327.0 L580.0,327.3 L580.4,327.9 L580.8,328.2 L581.2,327.0 L581.6,327.6 L582.0,327.6 L582.4,327.9 L582.8,327.2 L583.2,327.6 L583.6,327.4 L584.0,328.0 L584.4,327.3 L584.8,328.1 L585.2,327.3 L585.6,327.2 L586.0,327.8 L586.4,327.6 L586.8,327.1 L587.2,327.7 L587.6,327.0 L588.0,327.9 L588.4,327.8 L588.8,327.9 L589.2,327.7 L589.6,327.4 L590.0,327.4 L590.4,327.4 L590.8,328.0 L591.2,327.0 L591.6,328.0 L592.0,327.0 L592.4,327.2 L592.8,327.2 L593.2,328.0 L593.6,327.5 L594.0,327.4 L594.4,328.0 L594.8,327.2 L595.2,327.5 L595.6,327.6 L596.0,327.8 L596.4,327.8 L596.8,327.7 L597.2,327.3 L597.6,332.2 L598.0,332.0 L598.5,332.8 L598.9,332.5 L599.3,332.6 L599.7,331.8 L600.1,332.1 L600.5,332.5 L600.9,332.2 L601.3,331.6 L601.7,332.0 L602.1,332.4 L602.5,331.6 L602.9,331.5 L603.3,331.6 L603.7,332.1 L604.1,332.2 L604.5,331.3 L604.9,331.3 L605.3,331.4 L605.7,331.4 L606.1,331.6 L606.5,331.2 L606.9,331.3 L607.3,331.1 L607.7,332.0 L608.1,331.7 L608.5,330.9 L608.9,331.9 L609.3,330.8 L609.7,331.1 L610.1,331.8 L610.5,331.6 L610.9,331.5 L611.3,331.1 L611.7,330.8 L612.1,331.2 L612.5,330.6 L612.9,330.7 L613.3,330.9 L613.7,330.4 L614.1,330.8 L614.5,331.2 L614.9,331.1 L615.3,330.8 L615.7,331.0 L616.1,330.7 L616.5,330.3 L616.9,330.8 L617.3,330.6 L617.7,331.0 L618.1,331.1 L618.6,330.5 L619.0,330.7 L619.4,330.9 L619.8,330.4 L620.2,330.2 L620.6,330.7 L621.0,330.9 L621.4,330.7 L621.8,330.6 L622.2,330.8 L622.6,330.6 L623.0,330.5 L623.4,330.2 L623.8,330.0 L624.2,330.4 L624.6,329.7 L625.0,330.1 L625.4,330.5 L625.8,330.4 L626.2,330.3 L626.6,329.8 L627.0,330.0 L627.4,330.0 L627.8,330.2 L628.2,329.9 L628.6,330.2 L629.0,330.5 L629.4,329.6 L629.8,330.1 L630.2,330.2 L630.6,329.7 L631.0,329.8 L631.4,330.4 L631.8,323.1 L632.2,314.5 L632.6,307.4 L633.0,303.0 L633.4,298.9 L633.8,294.5 L634.2,290.4 L634.6,287.5 L635.0,284.1 L635.4,281.0 L635.8,277.4 L636.2,274.3 L636.6,271.3 L637.0,267.6 L637.4,264.3 L637.8,261.6 L638.2,257.5 L638.7,254.8 L639.1,251.2 L639.5,248.4 L639.9,244.4 L640.3,242.1 L640.7,238.1 L641.1,245.4 L641.5,252.4 L641.9,258.7 L642.3,263.7 L642.7,269.1 L643.1,273.6 L643.5,277.9 L643.9,281.1 L644.3,284.2 L644.7,287.1 L645.1,290.4 L645.5,293.1 L645.9,294.8 L646.3,296.5 L646.7,299.0 L647.1,300.2 L647.5,301.6 L647.9,302.9 L648.3,305.0 L648.7,306.3 L649.1,307.2 L649.5,308.0 L649.9,309.1 L650.3,309.6 L650.7,311.3 L651.1,311.4 L651.5,312.5 L651.9,313.4 L652.3,314.0 L652.7,314.2 L653.1,314.6 L653.5,315.4 L653.9,315.5 L654.3,316.8 L654.7,316.7 L655.1,317.7 L655.5,317.4 L655.9,318.0 L656.3,318.2 L656.7,318.8 L657.1,318.8 L657.5,318.9 L657.9,320.1 L658.3,319.9 L658.8,320.1 L659.2,320.5 L659.6,321.0 L660.0,321.2 L660.4,321.7 L660.8,321.9 L661.2,321.8 L661.6,322.7 L662.0,322.8 L662.4,322.1 L662.8,323.2 L663.2,323.5 L663.6,323.5 L664.0,322.9 L664.4,323.9 L664.8,323.8 L665.2,323.2 L665.6,323.4 L666.0,324.6 L666.4,324.4 L666.8,324.1 L667.2,324.0 L667.6,324.2 L668.0,324.4 L668.4,325.2 L668.8,324.8 L669.2,324.7 L669.6,325.7 L670.0,325.6 L670.4,325.0 L670.8,326.0 L671.2,325.7 L671.6,326.0 L672.0,325.9" fill="none" stroke="#111" stroke-width="2.3" stroke-linejoin="round" stroke-linecap="round" />
<text x="550.60" y="231.90" font-size="10" text-anchor="start" fill="#222" stroke="#222" font-weight="normal" >In p.p.b.</text>
<text x="524.30" y="294.40" font-size="10" text-anchor="middle" fill="#3528cc" stroke="#3528cc" font-weight="normal" >CO</text>
<text x="524.50" y="306.60" font-size="10" text-anchor="middle" fill="#3528cc" stroke="#3528cc" font-weight="normal" >10,000</text>
<text x="562.0" y="294.4" font-size="10" text-anchor="middle" fill="#d42ad4" stroke="#d42ad4">H<tspan font-size="6.4" dy="2.8">2</tspan></text>
<text x="563.90" y="306.60" font-size="10" text-anchor="middle" fill="#d42ad4" stroke="#d42ad4" font-weight="normal" >100,000</text>
<text x="602.4" y="294.4" font-size="10" text-anchor="middle" fill="#f0a050" stroke="#f0a050">H<tspan font-size="6.4" dy="2.8">2</tspan><tspan dy="-2.8">S</tspan></text>
<text x="603.00" y="306.60" font-size="10" text-anchor="middle" fill="#f0a050" stroke="#f0a050" font-weight="normal" >100,000</text>
<text x="640.2" y="223.8" font-size="10" text-anchor="middle" fill="#e02028" stroke="#e02028">NO<tspan font-size="6.4" dy="2.8">2</tspan></text>
<text x="640.20" y="235.20" font-size="10" text-anchor="middle" fill="#e02028" stroke="#e02028" font-weight="normal" >100</text>
</svg></body></html>
